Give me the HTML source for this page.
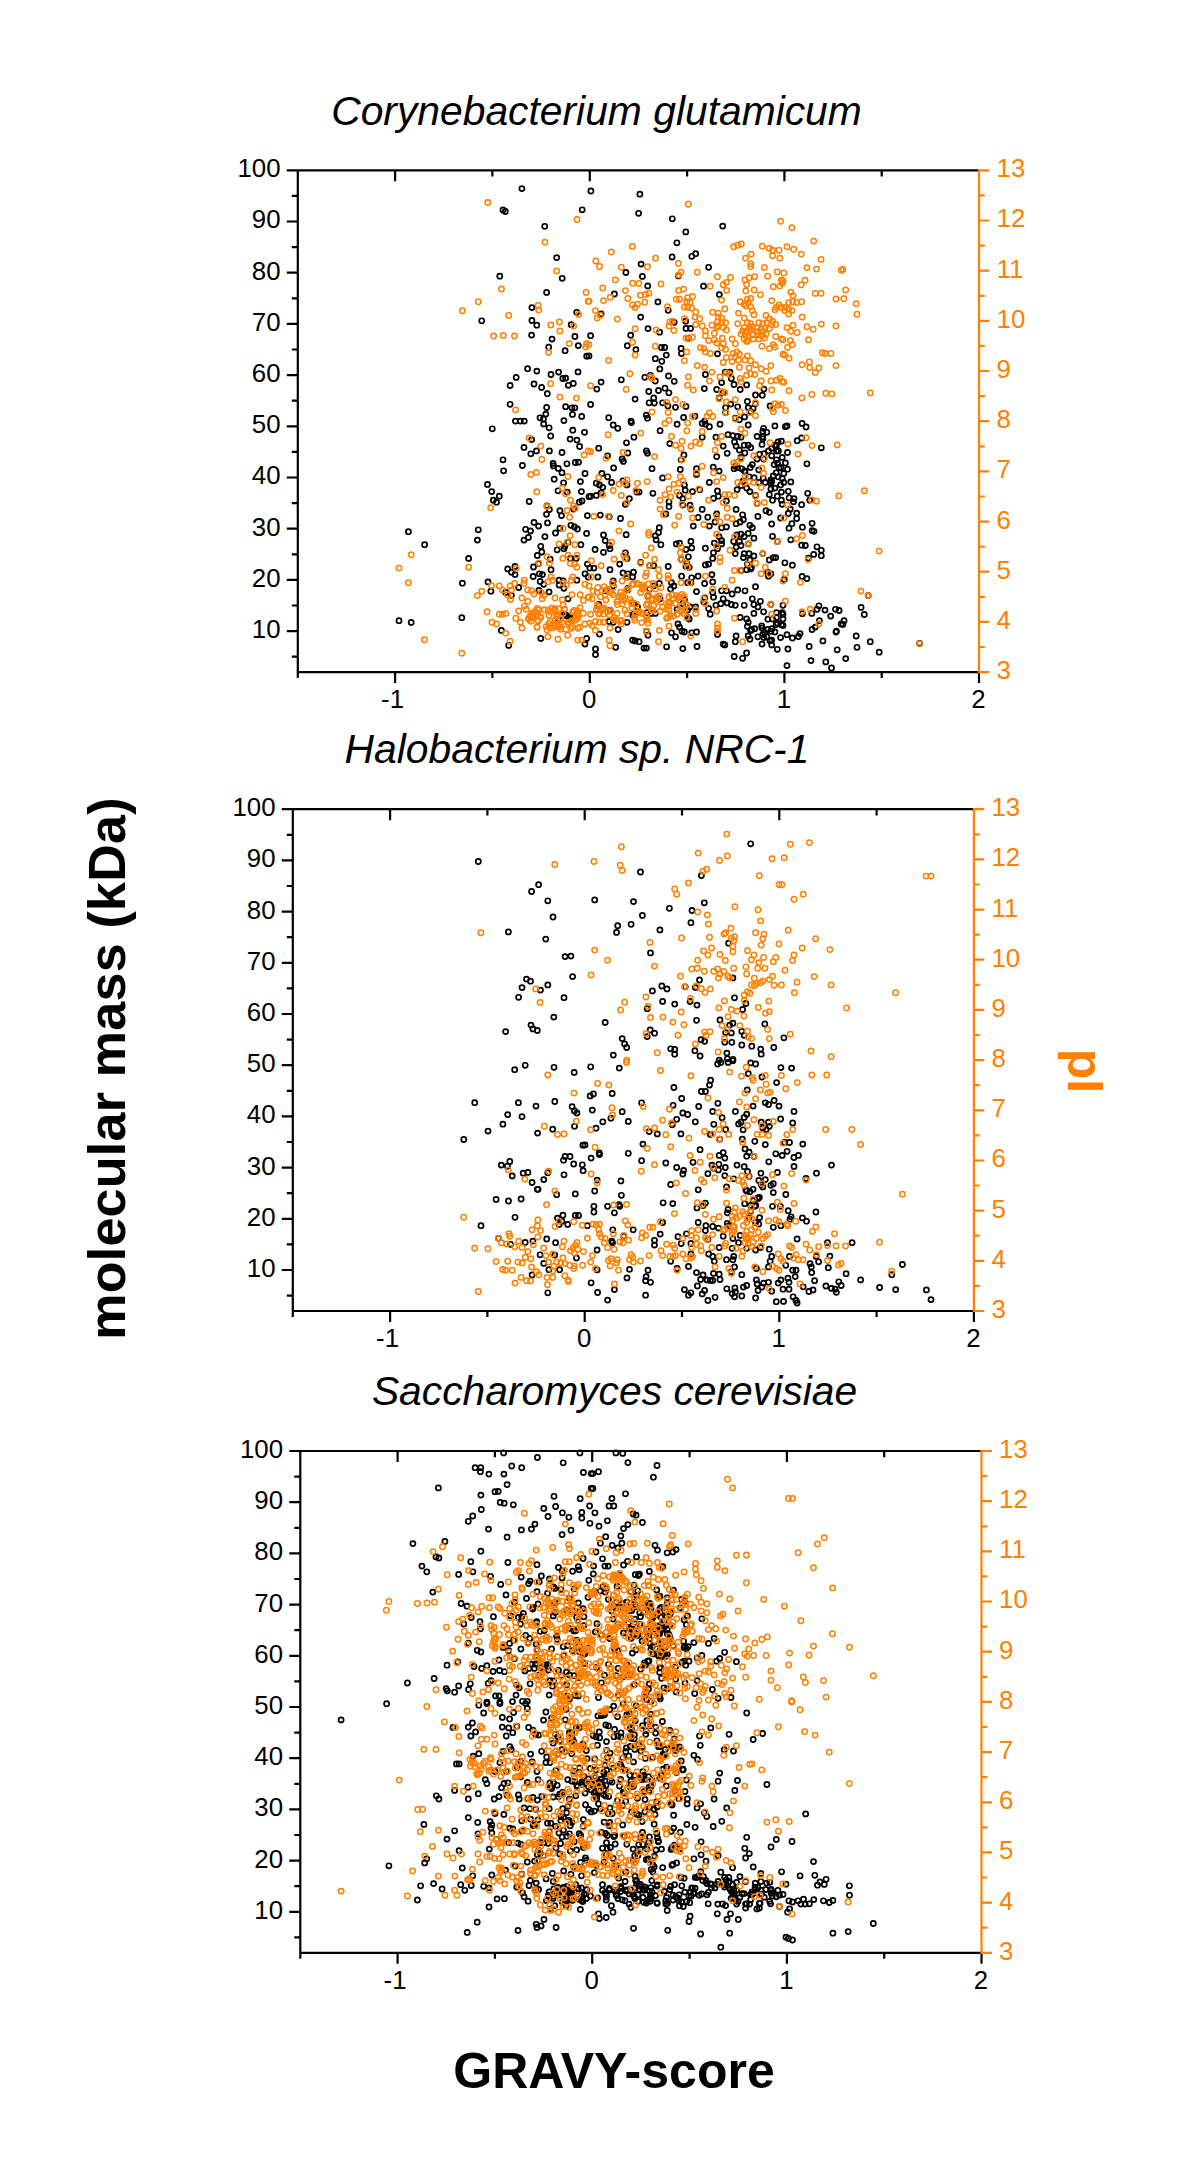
<!DOCTYPE html>
<html lang="en"><head><meta charset="utf-8"><title>GRAVY-score vs molecular mass and pI</title>
<style>html,body{margin:0;padding:0;background:#fff}svg{display:block}text{font-family:"Liberation Sans",Arial,sans-serif}</style></head><body>
<svg width="1200" height="2175" viewBox="0 0 1200 2175">
<rect width="1200" height="2175" fill="#fff"/>
<g id="panel1">
<text x="596.5" y="125" font-size="40.8" font-style="italic" text-anchor="middle">Corynebacterium glutamicum</text>
<g fill="none" stroke="#000" stroke-width="1.7">
<circle cx="521.9" cy="188.6" r="2.55"/><circle cx="503" cy="209.9" r="2.55"/><circle cx="505.3" cy="211.5" r="2.55"/><circle cx="582.2" cy="209.8" r="2.55"/><circle cx="544.7" cy="226.3" r="2.55"/><circle cx="556.7" cy="257.6" r="2.55"/><circle cx="499.8" cy="276.2" r="2.55"/><circle cx="562.2" cy="278.3" r="2.55"/><circle cx="546.6" cy="292.4" r="2.55"/><circle cx="531.9" cy="307.6" r="2.55"/><circle cx="576.7" cy="312.3" r="2.55"/><circle cx="481.7" cy="320.8" r="2.55"/><circle cx="531.9" cy="320.5" r="2.55"/><circle cx="536.8" cy="325.2" r="2.55"/><circle cx="571.2" cy="324.7" r="2.55"/><circle cx="531.6" cy="335.1" r="2.55"/><circle cx="574.9" cy="336.5" r="2.55"/><circle cx="552" cy="339.1" r="2.55"/><circle cx="548.7" cy="347.2" r="2.55"/><circle cx="578.3" cy="345.6" r="2.55"/><circle cx="565.1" cy="350.7" r="2.55"/><circle cx="586.7" cy="356.2" r="2.55"/><circle cx="527.6" cy="368.7" r="2.55"/><circle cx="536.8" cy="371.1" r="2.55"/><circle cx="516.2" cy="377.4" r="2.55"/><circle cx="551" cy="374.5" r="2.55"/><circle cx="558.6" cy="372.1" r="2.55"/><circle cx="578" cy="371.9" r="2.55"/><circle cx="562.8" cy="378.5" r="2.55"/><circle cx="565.6" cy="378.2" r="2.55"/><circle cx="510.1" cy="385.5" r="2.55"/><circle cx="534" cy="384" r="2.55"/><circle cx="541.6" cy="387.4" r="2.55"/><circle cx="573.3" cy="383.4" r="2.55"/><circle cx="568.3" cy="385.3" r="2.55"/><circle cx="547.3" cy="393.7" r="2.55"/><circle cx="510.1" cy="404.3" r="2.55"/><circle cx="546.6" cy="407.5" r="2.55"/><circle cx="565.6" cy="406.7" r="2.55"/><circle cx="571.9" cy="407.8" r="2.55"/><circle cx="574.8" cy="407.8" r="2.55"/><circle cx="545.8" cy="414.1" r="2.55"/><circle cx="572.5" cy="414.4" r="2.55"/><circle cx="540" cy="417.8" r="2.55"/><circle cx="543.4" cy="419" r="2.55"/><circle cx="581.7" cy="416.4" r="2.55"/><circle cx="515.4" cy="421.1" r="2.55"/><circle cx="520.3" cy="421.1" r="2.55"/><circle cx="524.3" cy="421.1" r="2.55"/><circle cx="563.9" cy="420.6" r="2.55"/><circle cx="590.9" cy="191" r="2.55"/><circle cx="639.9" cy="194.2" r="2.55"/><circle cx="638.6" cy="213.3" r="2.55"/><circle cx="672.3" cy="218.8" r="2.55"/><circle cx="722.7" cy="226.1" r="2.55"/><circle cx="685.8" cy="231.9" r="2.55"/><circle cx="676.9" cy="242.8" r="2.55"/><circle cx="672.1" cy="257" r="2.55"/><circle cx="691.8" cy="256.3" r="2.55"/><circle cx="695.7" cy="253.7" r="2.55"/><circle cx="641.1" cy="264.1" r="2.55"/><circle cx="708.6" cy="267.3" r="2.55"/><circle cx="625.9" cy="272.5" r="2.55"/><circle cx="642.4" cy="276.4" r="2.55"/><circle cx="678.4" cy="275.9" r="2.55"/><circle cx="647.7" cy="285.9" r="2.55"/><circle cx="703.5" cy="286.2" r="2.55"/><circle cx="614.4" cy="294" r="2.55"/><circle cx="719.3" cy="294.6" r="2.55"/><circle cx="657.9" cy="301.9" r="2.55"/><circle cx="668.2" cy="310.3" r="2.55"/><circle cx="601.1" cy="313.9" r="2.55"/><circle cx="640.7" cy="317.1" r="2.55"/><circle cx="674.2" cy="322.3" r="2.55"/><circle cx="685.7" cy="321.2" r="2.55"/><circle cx="648" cy="328.6" r="2.55"/><circle cx="686" cy="328.4" r="2.55"/><circle cx="690.5" cy="328.4" r="2.55"/><circle cx="659.6" cy="332.2" r="2.55"/><circle cx="590.6" cy="335.7" r="2.55"/><circle cx="630.7" cy="335.2" r="2.55"/><circle cx="688.4" cy="338.1" r="2.55"/><circle cx="627.3" cy="345.7" r="2.55"/><circle cx="661.4" cy="347.5" r="2.55"/><circle cx="664.7" cy="347.5" r="2.55"/><circle cx="635.9" cy="349.6" r="2.55"/><circle cx="681.1" cy="348.5" r="2.55"/><circle cx="681.5" cy="353.5" r="2.55"/><circle cx="666.3" cy="355.1" r="2.55"/><circle cx="589" cy="355.9" r="2.55"/><circle cx="717.5" cy="353.8" r="2.55"/><circle cx="655.3" cy="358.7" r="2.55"/><circle cx="661.8" cy="361.3" r="2.55"/><circle cx="659.8" cy="368.9" r="2.55"/><circle cx="705.4" cy="374.5" r="2.55"/><circle cx="725.3" cy="372.1" r="2.55"/><circle cx="730" cy="372.1" r="2.55"/><circle cx="650.4" cy="375.3" r="2.55"/><circle cx="668.5" cy="376" r="2.55"/><circle cx="644.8" cy="377.3" r="2.55"/><circle cx="621.3" cy="379.8" r="2.55"/><circle cx="601.1" cy="382.1" r="2.55"/><circle cx="655.3" cy="381" r="2.55"/><circle cx="674.2" cy="381.3" r="2.55"/><circle cx="721.6" cy="382.6" r="2.55"/><circle cx="731.3" cy="378.5" r="2.55"/><circle cx="734" cy="384.5" r="2.55"/><circle cx="746.6" cy="384.9" r="2.55"/><circle cx="596.8" cy="389.1" r="2.55"/><circle cx="704.3" cy="388.6" r="2.55"/><circle cx="716.7" cy="389.5" r="2.55"/><circle cx="740.2" cy="389.5" r="2.55"/><circle cx="665" cy="388.2" r="2.55"/><circle cx="658.5" cy="390.5" r="2.55"/><circle cx="648.8" cy="391.5" r="2.55"/><circle cx="668.9" cy="392.8" r="2.55"/><circle cx="723.2" cy="392.8" r="2.55"/><circle cx="763.9" cy="389.1" r="2.55"/><circle cx="755.5" cy="395" r="2.55"/><circle cx="762.3" cy="395.2" r="2.55"/><circle cx="635.1" cy="399.1" r="2.55"/><circle cx="653.7" cy="397.9" r="2.55"/><circle cx="649.1" cy="402.8" r="2.55"/><circle cx="654.3" cy="403.1" r="2.55"/><circle cx="662.6" cy="402.8" r="2.55"/><circle cx="719.1" cy="397.9" r="2.55"/><circle cx="590.6" cy="404.4" r="2.55"/><circle cx="667.9" cy="406" r="2.55"/><circle cx="675.5" cy="407.3" r="2.55"/><circle cx="686" cy="406.4" r="2.55"/><circle cx="747.4" cy="401.5" r="2.55"/><circle cx="755.5" cy="403.6" r="2.55"/><circle cx="730.8" cy="404.1" r="2.55"/><circle cx="725.6" cy="407.6" r="2.55"/><circle cx="737.7" cy="406.8" r="2.55"/><circle cx="748.2" cy="407.6" r="2.55"/><circle cx="753.1" cy="408.5" r="2.55"/><circle cx="770.1" cy="406" r="2.55"/><circle cx="725.6" cy="412.5" r="2.55"/><circle cx="750.7" cy="411.7" r="2.55"/><circle cx="608.7" cy="417.7" r="2.55"/><circle cx="646.4" cy="415.2" r="2.55"/><circle cx="647.5" cy="418.2" r="2.55"/><circle cx="683.6" cy="417.4" r="2.55"/><circle cx="694.9" cy="416.2" r="2.55"/><circle cx="735.3" cy="418.2" r="2.55"/><circle cx="744.5" cy="416.9" r="2.55"/><circle cx="631" cy="421.1" r="2.55"/><circle cx="704.6" cy="421.1" r="2.55"/><circle cx="739.4" cy="419.8" r="2.55"/><circle cx="543.7" cy="423.9" r="2.55"/><circle cx="492.3" cy="428.8" r="2.55"/><circle cx="549.1" cy="427.8" r="2.55"/><circle cx="572.8" cy="430.2" r="2.55"/><circle cx="584.5" cy="432.3" r="2.55"/><circle cx="550.7" cy="436" r="2.55"/><circle cx="570.1" cy="439.1" r="2.55"/><circle cx="576.9" cy="440.1" r="2.55"/><circle cx="531.6" cy="439.6" r="2.55"/><circle cx="524" cy="447.4" r="2.55"/><circle cx="579.6" cy="446.5" r="2.55"/><circle cx="536.5" cy="450.9" r="2.55"/><circle cx="549.4" cy="450.9" r="2.55"/><circle cx="530.8" cy="453.8" r="2.55"/><circle cx="562" cy="452.5" r="2.55"/><circle cx="503" cy="459.8" r="2.55"/><circle cx="522.4" cy="465.5" r="2.55"/><circle cx="553.1" cy="463.4" r="2.55"/><circle cx="553.4" cy="465.9" r="2.55"/><circle cx="566.9" cy="463.8" r="2.55"/><circle cx="575.3" cy="462.5" r="2.55"/><circle cx="578.5" cy="462.2" r="2.55"/><circle cx="558.3" cy="468.4" r="2.55"/><circle cx="503.6" cy="470.8" r="2.55"/><circle cx="562" cy="472.7" r="2.55"/><circle cx="585" cy="473.5" r="2.55"/><circle cx="554.2" cy="479.2" r="2.55"/><circle cx="563.6" cy="482.8" r="2.55"/><circle cx="580.4" cy="481.6" r="2.55"/><circle cx="487.5" cy="484.4" r="2.55"/><circle cx="491.7" cy="491.6" r="2.55"/><circle cx="558" cy="490.8" r="2.55"/><circle cx="567.2" cy="492.1" r="2.55"/><circle cx="581.4" cy="491.6" r="2.55"/><circle cx="499.3" cy="496.2" r="2.55"/><circle cx="589" cy="496.7" r="2.55"/><circle cx="493.3" cy="500.2" r="2.55"/><circle cx="496.5" cy="502.2" r="2.55"/><circle cx="529.2" cy="501.5" r="2.55"/><circle cx="579.3" cy="502.2" r="2.55"/><circle cx="582" cy="501" r="2.55"/><circle cx="547" cy="505.9" r="2.55"/><circle cx="549.4" cy="509.6" r="2.55"/><circle cx="559.9" cy="510.7" r="2.55"/><circle cx="561.5" cy="515.6" r="2.55"/><circle cx="573.6" cy="509.1" r="2.55"/><circle cx="546.5" cy="514.3" r="2.55"/><circle cx="587.4" cy="515.6" r="2.55"/><circle cx="534" cy="522.4" r="2.55"/><circle cx="547.5" cy="522.9" r="2.55"/><circle cx="538.6" cy="526.1" r="2.55"/><circle cx="570.9" cy="525.3" r="2.55"/><circle cx="574.5" cy="526.9" r="2.55"/><circle cx="577.4" cy="529" r="2.55"/><circle cx="525.6" cy="529.3" r="2.55"/><circle cx="530.5" cy="530.9" r="2.55"/><circle cx="559.9" cy="528.2" r="2.55"/><circle cx="478.3" cy="529.8" r="2.55"/><circle cx="408.4" cy="531.7" r="2.55"/><circle cx="555.5" cy="533" r="2.55"/><circle cx="586.6" cy="533.4" r="2.55"/><circle cx="544.9" cy="536.6" r="2.55"/><circle cx="528.4" cy="537.4" r="2.55"/><circle cx="524" cy="540.1" r="2.55"/><circle cx="477.4" cy="540.1" r="2.55"/><circle cx="424.6" cy="544.7" r="2.55"/><circle cx="580.9" cy="544.7" r="2.55"/><circle cx="568" cy="542.2" r="2.55"/><circle cx="564.8" cy="546.3" r="2.55"/><circle cx="563.9" cy="548.7" r="2.55"/><circle cx="557.2" cy="549.8" r="2.55"/><circle cx="540.8" cy="546.3" r="2.55"/><circle cx="541.8" cy="552" r="2.55"/><circle cx="537.3" cy="555.5" r="2.55"/><circle cx="468.6" cy="558.4" r="2.55"/><circle cx="550.2" cy="559.2" r="2.55"/><circle cx="570.4" cy="558.4" r="2.55"/><circle cx="576.1" cy="558.4" r="2.55"/><circle cx="538.6" cy="563.6" r="2.55"/><circle cx="533.5" cy="567" r="2.55"/><circle cx="587.4" cy="564.1" r="2.55"/><circle cx="515" cy="566.5" r="2.55"/><circle cx="507.7" cy="568.9" r="2.55"/><circle cx="511.4" cy="572.2" r="2.55"/><circle cx="515" cy="574.6" r="2.55"/><circle cx="551" cy="569.7" r="2.55"/><circle cx="539.4" cy="573.8" r="2.55"/><circle cx="542.4" cy="574.6" r="2.55"/><circle cx="533.2" cy="576.5" r="2.55"/><circle cx="585" cy="573.8" r="2.55"/><circle cx="588.2" cy="577" r="2.55"/><circle cx="576.9" cy="580.2" r="2.55"/><circle cx="488" cy="581.9" r="2.55"/><circle cx="462.4" cy="583.2" r="2.55"/><circle cx="540.2" cy="581.5" r="2.55"/><circle cx="543.7" cy="584.3" r="2.55"/><circle cx="559.1" cy="580.2" r="2.55"/><circle cx="563.1" cy="581" r="2.55"/><circle cx="559.1" cy="585.1" r="2.55"/><circle cx="563.9" cy="588.3" r="2.55"/><circle cx="518.7" cy="587.5" r="2.55"/><circle cx="490.9" cy="591.2" r="2.55"/><circle cx="538.9" cy="590.4" r="2.55"/><circle cx="549.1" cy="591.9" r="2.55"/><circle cx="505.7" cy="592.4" r="2.55"/><circle cx="511.4" cy="595.3" r="2.55"/><circle cx="568" cy="598.8" r="2.55"/><circle cx="461.8" cy="617.7" r="2.55"/><circle cx="399" cy="620.7" r="2.55"/><circle cx="411.2" cy="622.4" r="2.55"/><circle cx="501.4" cy="630.4" r="2.55"/><circle cx="540.8" cy="638.4" r="2.55"/><circle cx="508.7" cy="645.4" r="2.55"/><circle cx="585" cy="644.1" r="2.55"/><circle cx="586.6" cy="638.4" r="2.55"/><circle cx="570.6" cy="617.7" r="2.55"/><circle cx="570" cy="619" r="2.55"/><circle cx="564.8" cy="614.2" r="2.55"/><circle cx="566.7" cy="615.7" r="2.55"/><circle cx="558.5" cy="619.4" r="2.55"/><circle cx="563.8" cy="614.8" r="2.55"/><circle cx="613.2" cy="425" r="2.55"/><circle cx="617.8" cy="428.3" r="2.55"/><circle cx="631.4" cy="422.6" r="2.55"/><circle cx="660.1" cy="430.7" r="2.55"/><circle cx="677.1" cy="424.2" r="2.55"/><circle cx="702.2" cy="423.4" r="2.55"/><circle cx="705.4" cy="424.2" r="2.55"/><circle cx="709.4" cy="426.7" r="2.55"/><circle cx="720" cy="424.2" r="2.55"/><circle cx="748.2" cy="425" r="2.55"/><circle cx="763.6" cy="428.3" r="2.55"/><circle cx="762.8" cy="431.5" r="2.55"/><circle cx="766.8" cy="432.3" r="2.55"/><circle cx="774.9" cy="425.9" r="2.55"/><circle cx="633.9" cy="437.2" r="2.55"/><circle cx="702.2" cy="437.2" r="2.55"/><circle cx="715.9" cy="437.2" r="2.55"/><circle cx="728" cy="434.7" r="2.55"/><circle cx="732.9" cy="435.6" r="2.55"/><circle cx="737.7" cy="436.4" r="2.55"/><circle cx="741" cy="437.2" r="2.55"/><circle cx="757.1" cy="436.4" r="2.55"/><circle cx="762.8" cy="438.8" r="2.55"/><circle cx="626.5" cy="442.8" r="2.55"/><circle cx="598.7" cy="448.2" r="2.55"/><circle cx="669.8" cy="443.6" r="2.55"/><circle cx="723.2" cy="446.1" r="2.55"/><circle cx="734.5" cy="442" r="2.55"/><circle cx="736.1" cy="446.1" r="2.55"/><circle cx="744.2" cy="445.2" r="2.55"/><circle cx="748.2" cy="445.2" r="2.55"/><circle cx="750.7" cy="447.7" r="2.55"/><circle cx="762" cy="444.4" r="2.55"/><circle cx="778.1" cy="442" r="2.55"/><circle cx="774.9" cy="445.2" r="2.55"/><circle cx="781.4" cy="441.2" r="2.55"/><circle cx="646.4" cy="450.9" r="2.55"/><circle cx="647.5" cy="453.3" r="2.55"/><circle cx="727.2" cy="453.3" r="2.55"/><circle cx="739.4" cy="450.1" r="2.55"/><circle cx="768.5" cy="450.9" r="2.55"/><circle cx="776.5" cy="450.9" r="2.55"/><circle cx="627.8" cy="453" r="2.55"/><circle cx="607.6" cy="455.8" r="2.55"/><circle cx="622.1" cy="459" r="2.55"/><circle cx="623.4" cy="461.4" r="2.55"/><circle cx="683.9" cy="454.9" r="2.55"/><circle cx="681.1" cy="459.8" r="2.55"/><circle cx="716.7" cy="456.6" r="2.55"/><circle cx="741" cy="457.4" r="2.55"/><circle cx="757.1" cy="459" r="2.55"/><circle cx="763.6" cy="459" r="2.55"/><circle cx="771.7" cy="455.8" r="2.55"/><circle cx="776.5" cy="459.8" r="2.55"/><circle cx="782.2" cy="457.4" r="2.55"/><circle cx="752.3" cy="464.6" r="2.55"/><circle cx="774.1" cy="464.6" r="2.55"/><circle cx="779" cy="467.9" r="2.55"/><circle cx="613.6" cy="467.9" r="2.55"/><circle cx="652" cy="468.7" r="2.55"/><circle cx="680.3" cy="469.5" r="2.55"/><circle cx="696.5" cy="468.7" r="2.55"/><circle cx="713.2" cy="467.1" r="2.55"/><circle cx="719.1" cy="471.1" r="2.55"/><circle cx="601.9" cy="473.5" r="2.55"/><circle cx="607.6" cy="476.8" r="2.55"/><circle cx="611.6" cy="482.4" r="2.55"/><circle cx="596.3" cy="483.2" r="2.55"/><circle cx="599.5" cy="484.9" r="2.55"/><circle cx="602.7" cy="487.3" r="2.55"/><circle cx="623" cy="480.8" r="2.55"/><circle cx="627" cy="484.9" r="2.55"/><circle cx="662.6" cy="477.9" r="2.55"/><circle cx="696.5" cy="474.4" r="2.55"/><circle cx="709.4" cy="482.4" r="2.55"/><circle cx="745" cy="471.9" r="2.55"/><circle cx="749" cy="476.8" r="2.55"/><circle cx="758.8" cy="482.4" r="2.55"/><circle cx="765.2" cy="482.4" r="2.55"/><circle cx="773.3" cy="476" r="2.55"/><circle cx="771.7" cy="481.6" r="2.55"/><circle cx="778.1" cy="476.8" r="2.55"/><circle cx="782.2" cy="478.4" r="2.55"/><circle cx="780.6" cy="484.9" r="2.55"/><circle cx="684.4" cy="484.9" r="2.55"/><circle cx="590.6" cy="496.2" r="2.55"/><circle cx="596.3" cy="495.4" r="2.55"/><circle cx="601.1" cy="492.9" r="2.55"/><circle cx="636.7" cy="492.1" r="2.55"/><circle cx="639.1" cy="492.1" r="2.55"/><circle cx="652.9" cy="493.3" r="2.55"/><circle cx="629.4" cy="498.6" r="2.55"/><circle cx="685.2" cy="490.2" r="2.55"/><circle cx="692.5" cy="491.6" r="2.55"/><circle cx="699.7" cy="489.7" r="2.55"/><circle cx="717.5" cy="491" r="2.55"/><circle cx="718.3" cy="496.2" r="2.55"/><circle cx="713.5" cy="498.3" r="2.55"/><circle cx="669" cy="501.8" r="2.55"/><circle cx="679.5" cy="495.4" r="2.55"/><circle cx="682.8" cy="498.6" r="2.55"/><circle cx="726.4" cy="501" r="2.55"/><circle cx="749.9" cy="491.6" r="2.55"/><circle cx="755.5" cy="495.4" r="2.55"/><circle cx="770.9" cy="488.9" r="2.55"/><circle cx="774.9" cy="488.1" r="2.55"/><circle cx="781.4" cy="492.1" r="2.55"/><circle cx="769.3" cy="494.6" r="2.55"/><circle cx="777.3" cy="496.2" r="2.55"/><circle cx="772.5" cy="500.2" r="2.55"/><circle cx="781.4" cy="500.2" r="2.55"/><circle cx="757.1" cy="503.4" r="2.55"/><circle cx="782.2" cy="504.3" r="2.55"/><circle cx="625.4" cy="504.3" r="2.55"/><circle cx="669" cy="506.7" r="2.55"/><circle cx="682.8" cy="505.1" r="2.55"/><circle cx="690" cy="505.1" r="2.55"/><circle cx="690.9" cy="509.1" r="2.55"/><circle cx="702.2" cy="509.4" r="2.55"/><circle cx="736.1" cy="509.4" r="2.55"/><circle cx="665.8" cy="514" r="2.55"/><circle cx="600.3" cy="515.1" r="2.55"/><circle cx="609.2" cy="516.7" r="2.55"/><circle cx="620.5" cy="518.5" r="2.55"/><circle cx="698.1" cy="517.5" r="2.55"/><circle cx="707.8" cy="517.2" r="2.55"/><circle cx="716.7" cy="514" r="2.55"/><circle cx="742.6" cy="514.8" r="2.55"/><circle cx="757.9" cy="516.4" r="2.55"/><circle cx="766" cy="510.7" r="2.55"/><circle cx="769.3" cy="512.3" r="2.55"/><circle cx="780.6" cy="518" r="2.55"/><circle cx="743.4" cy="519.6" r="2.55"/><circle cx="740.2" cy="522" r="2.55"/><circle cx="736.1" cy="523.7" r="2.55"/><circle cx="715.1" cy="522" r="2.55"/><circle cx="693.3" cy="526.1" r="2.55"/><circle cx="709.4" cy="526.1" r="2.55"/><circle cx="721.6" cy="527.7" r="2.55"/><circle cx="726.4" cy="526.9" r="2.55"/><circle cx="659.3" cy="527.7" r="2.55"/><circle cx="658.5" cy="532.5" r="2.55"/><circle cx="749.9" cy="525.3" r="2.55"/><circle cx="752.3" cy="527.7" r="2.55"/><circle cx="771.7" cy="524" r="2.55"/><circle cx="603.5" cy="535" r="2.55"/><circle cx="626.2" cy="534.7" r="2.55"/><circle cx="655.3" cy="535.8" r="2.55"/><circle cx="656.1" cy="539.8" r="2.55"/><circle cx="719.1" cy="536.6" r="2.55"/><circle cx="736.9" cy="535" r="2.55"/><circle cx="741" cy="534.2" r="2.55"/><circle cx="748.2" cy="533.4" r="2.55"/><circle cx="744.2" cy="536.6" r="2.55"/><circle cx="753.9" cy="538.2" r="2.55"/><circle cx="772.5" cy="536.3" r="2.55"/><circle cx="733.7" cy="541.4" r="2.55"/><circle cx="739.4" cy="541.4" r="2.55"/><circle cx="605.2" cy="540.6" r="2.55"/><circle cx="609.2" cy="545.5" r="2.55"/><circle cx="610" cy="548.7" r="2.55"/><circle cx="660.9" cy="544.7" r="2.55"/><circle cx="676.3" cy="543.9" r="2.55"/><circle cx="679.5" cy="543.1" r="2.55"/><circle cx="690.9" cy="541.4" r="2.55"/><circle cx="721.6" cy="540.6" r="2.55"/><circle cx="714.3" cy="543.1" r="2.55"/><circle cx="717.5" cy="548.7" r="2.55"/><circle cx="721.6" cy="543.9" r="2.55"/><circle cx="705.4" cy="548.2" r="2.55"/><circle cx="686" cy="549.5" r="2.55"/><circle cx="691.7" cy="547.9" r="2.55"/><circle cx="595.1" cy="549.5" r="2.55"/><circle cx="748.2" cy="543.9" r="2.55"/><circle cx="777.3" cy="541.4" r="2.55"/><circle cx="736.1" cy="547.1" r="2.55"/><circle cx="741" cy="545.5" r="2.55"/><circle cx="603.5" cy="552.3" r="2.55"/><circle cx="625.4" cy="552.8" r="2.55"/><circle cx="627" cy="558.4" r="2.55"/><circle cx="619.7" cy="564.1" r="2.55"/><circle cx="640.7" cy="562.5" r="2.55"/><circle cx="649.6" cy="565.7" r="2.55"/><circle cx="653.7" cy="565.7" r="2.55"/><circle cx="668.2" cy="566.5" r="2.55"/><circle cx="688.4" cy="556.8" r="2.55"/><circle cx="681.1" cy="559.2" r="2.55"/><circle cx="686.8" cy="563.3" r="2.55"/><circle cx="705.4" cy="564.9" r="2.55"/><circle cx="708.6" cy="564.1" r="2.55"/><circle cx="713.5" cy="552.8" r="2.55"/><circle cx="712.7" cy="558.4" r="2.55"/><circle cx="735.3" cy="553.6" r="2.55"/><circle cx="744.2" cy="553.6" r="2.55"/><circle cx="749" cy="553.6" r="2.55"/><circle cx="753.9" cy="556" r="2.55"/><circle cx="743.4" cy="557.6" r="2.55"/><circle cx="749.9" cy="560" r="2.55"/><circle cx="762.8" cy="553.6" r="2.55"/><circle cx="769.3" cy="560" r="2.55"/><circle cx="773.3" cy="557.6" r="2.55"/><circle cx="775.7" cy="557.6" r="2.55"/><circle cx="747.4" cy="564.1" r="2.55"/><circle cx="751.5" cy="567.3" r="2.55"/><circle cx="593.9" cy="568.1" r="2.55"/><circle cx="589.8" cy="568.1" r="2.55"/><circle cx="610" cy="569.7" r="2.55"/><circle cx="623" cy="573" r="2.55"/><circle cx="627.8" cy="573.8" r="2.55"/><circle cx="633.5" cy="572.2" r="2.55"/><circle cx="627" cy="577" r="2.55"/><circle cx="632.6" cy="577" r="2.55"/><circle cx="597.9" cy="577" r="2.55"/><circle cx="681.6" cy="576.2" r="2.55"/><circle cx="686" cy="566.5" r="2.55"/><circle cx="689.2" cy="567.3" r="2.55"/><circle cx="691.7" cy="577.8" r="2.55"/><circle cx="698.1" cy="576.2" r="2.55"/><circle cx="711.9" cy="574.6" r="2.55"/><circle cx="741" cy="570.5" r="2.55"/><circle cx="746.6" cy="569.7" r="2.55"/><circle cx="750.7" cy="568.9" r="2.55"/><circle cx="767.6" cy="572.2" r="2.55"/><circle cx="770.9" cy="573.8" r="2.55"/><circle cx="768.5" cy="576.2" r="2.55"/><circle cx="613.2" cy="581" r="2.55"/><circle cx="671.5" cy="582.7" r="2.55"/><circle cx="659.3" cy="583.5" r="2.55"/><circle cx="653.7" cy="585.9" r="2.55"/><circle cx="673.9" cy="585.9" r="2.55"/><circle cx="687.6" cy="582.7" r="2.55"/><circle cx="690.9" cy="582.7" r="2.55"/><circle cx="704.6" cy="583.5" r="2.55"/><circle cx="712.7" cy="581.9" r="2.55"/><circle cx="627.8" cy="588.3" r="2.55"/><circle cx="606" cy="590.8" r="2.55"/><circle cx="627.8" cy="589.9" r="2.55"/><circle cx="649.6" cy="589.1" r="2.55"/><circle cx="648" cy="595.6" r="2.55"/><circle cx="660.1" cy="598.8" r="2.55"/><circle cx="670.6" cy="589.1" r="2.55"/><circle cx="684.4" cy="599.6" r="2.55"/><circle cx="696.5" cy="591.6" r="2.55"/><circle cx="712.7" cy="592.4" r="2.55"/><circle cx="713.5" cy="597.2" r="2.55"/><circle cx="704.6" cy="598" r="2.55"/><circle cx="703.8" cy="602.1" r="2.55"/><circle cx="721.6" cy="590.8" r="2.55"/><circle cx="726.4" cy="590.8" r="2.55"/><circle cx="732.1" cy="594" r="2.55"/><circle cx="737.7" cy="589.9" r="2.55"/><circle cx="745" cy="590.8" r="2.55"/><circle cx="755.5" cy="586.7" r="2.55"/><circle cx="723.2" cy="598.8" r="2.55"/><circle cx="752.3" cy="598.8" r="2.55"/><circle cx="760.4" cy="601.3" r="2.55"/><circle cx="613.2" cy="585.9" r="2.55"/><circle cx="598.7" cy="604.5" r="2.55"/><circle cx="610" cy="610.1" r="2.55"/><circle cx="633.5" cy="603.7" r="2.55"/><circle cx="637.5" cy="606.9" r="2.55"/><circle cx="647.2" cy="612.6" r="2.55"/><circle cx="651.2" cy="613.4" r="2.55"/><circle cx="655.3" cy="613.4" r="2.55"/><circle cx="634.3" cy="614.2" r="2.55"/><circle cx="677.1" cy="609.3" r="2.55"/><circle cx="682.8" cy="603.7" r="2.55"/><circle cx="687.6" cy="610.1" r="2.55"/><circle cx="690" cy="606.9" r="2.55"/><circle cx="695.7" cy="606.9" r="2.55"/><circle cx="708.6" cy="608.5" r="2.55"/><circle cx="710.2" cy="614.2" r="2.55"/><circle cx="715.9" cy="605.3" r="2.55"/><circle cx="720.8" cy="603.7" r="2.55"/><circle cx="727.2" cy="602.9" r="2.55"/><circle cx="731.3" cy="604.5" r="2.55"/><circle cx="735.3" cy="605.3" r="2.55"/><circle cx="744.2" cy="605.3" r="2.55"/><circle cx="753.9" cy="604.5" r="2.55"/><circle cx="757.9" cy="606.9" r="2.55"/><circle cx="770.9" cy="604.5" r="2.55"/><circle cx="753.9" cy="613.4" r="2.55"/><circle cx="763.6" cy="611.8" r="2.55"/><circle cx="776.5" cy="612.6" r="2.55"/><circle cx="782.2" cy="612.6" r="2.55"/><circle cx="632.6" cy="615" r="2.55"/><circle cx="609.2" cy="621.5" r="2.55"/><circle cx="613.2" cy="622.3" r="2.55"/><circle cx="627" cy="622.3" r="2.55"/><circle cx="618.1" cy="629.5" r="2.55"/><circle cx="677.9" cy="623.9" r="2.55"/><circle cx="679.5" cy="627.1" r="2.55"/><circle cx="682" cy="631.2" r="2.55"/><circle cx="684.4" cy="632" r="2.55"/><circle cx="687.6" cy="617.4" r="2.55"/><circle cx="689.2" cy="619" r="2.55"/><circle cx="740.2" cy="617.4" r="2.55"/><circle cx="746.6" cy="619" r="2.55"/><circle cx="748.2" cy="622.3" r="2.55"/><circle cx="747.4" cy="626.3" r="2.55"/><circle cx="750.7" cy="630.4" r="2.55"/><circle cx="754.7" cy="628.7" r="2.55"/><circle cx="762" cy="627.9" r="2.55"/><circle cx="767.6" cy="629.5" r="2.55"/><circle cx="771.7" cy="628.7" r="2.55"/><circle cx="774.9" cy="632" r="2.55"/><circle cx="772.5" cy="619" r="2.55"/><circle cx="777.3" cy="623.1" r="2.55"/><circle cx="781.4" cy="624.7" r="2.55"/><circle cx="776.5" cy="617.4" r="2.55"/><circle cx="783" cy="619" r="2.55"/><circle cx="599.5" cy="634.1" r="2.55"/><circle cx="646.4" cy="631.2" r="2.55"/><circle cx="648" cy="635.2" r="2.55"/><circle cx="671.5" cy="632.8" r="2.55"/><circle cx="675.5" cy="636.8" r="2.55"/><circle cx="691.7" cy="632.8" r="2.55"/><circle cx="696.5" cy="632" r="2.55"/><circle cx="717.5" cy="634.4" r="2.55"/><circle cx="736.1" cy="636" r="2.55"/><circle cx="735.3" cy="641.7" r="2.55"/><circle cx="748.2" cy="636" r="2.55"/><circle cx="749.9" cy="639.2" r="2.55"/><circle cx="757.9" cy="636.8" r="2.55"/><circle cx="762.8" cy="634.4" r="2.55"/><circle cx="766.8" cy="636.8" r="2.55"/><circle cx="771.7" cy="640.1" r="2.55"/><circle cx="780.6" cy="637.6" r="2.55"/><circle cx="632.6" cy="640.1" r="2.55"/><circle cx="635.1" cy="640.9" r="2.55"/><circle cx="639.1" cy="641.7" r="2.55"/><circle cx="723.2" cy="644.1" r="2.55"/><circle cx="724.8" cy="644.9" r="2.55"/><circle cx="762" cy="644.1" r="2.55"/><circle cx="771.7" cy="644.9" r="2.55"/><circle cx="615.7" cy="647.3" r="2.55"/><circle cx="595.5" cy="649" r="2.55"/><circle cx="595.5" cy="654.6" r="2.55"/><circle cx="644" cy="648.1" r="2.55"/><circle cx="646.4" cy="648.1" r="2.55"/><circle cx="666.6" cy="646.8" r="2.55"/><circle cx="682.8" cy="648.6" r="2.55"/><circle cx="697" cy="646.5" r="2.55"/><circle cx="746.6" cy="653" r="2.55"/><circle cx="734.2" cy="656.5" r="2.55"/><circle cx="742.6" cy="658.3" r="2.55"/><circle cx="777.3" cy="649.3" r="2.55"/><circle cx="737.7" cy="467.7" r="2.55"/><circle cx="777.5" cy="463.1" r="2.55"/><circle cx="763.2" cy="478.2" r="2.55"/><circle cx="770.5" cy="483" r="2.55"/><circle cx="762.7" cy="436.8" r="2.55"/><circle cx="746.6" cy="488.1" r="2.55"/><circle cx="776.2" cy="472.8" r="2.55"/><circle cx="764.1" cy="453.7" r="2.55"/><circle cx="778.4" cy="450.9" r="2.55"/><circle cx="737.1" cy="489.6" r="2.55"/><circle cx="741.8" cy="468.8" r="2.55"/><circle cx="759.5" cy="454.3" r="2.55"/><circle cx="744.8" cy="453" r="2.55"/><circle cx="741.1" cy="485.6" r="2.55"/><circle cx="758.8" cy="469.9" r="2.55"/><circle cx="771.7" cy="448.2" r="2.55"/><circle cx="780.9" cy="467.4" r="2.55"/><circle cx="750.3" cy="467.4" r="2.55"/><circle cx="743.2" cy="481" r="2.55"/><circle cx="776.4" cy="445.4" r="2.55"/><circle cx="754.1" cy="477.7" r="2.55"/><circle cx="771" cy="479.9" r="2.55"/><circle cx="744.6" cy="471" r="2.55"/><circle cx="735.4" cy="466.2" r="2.55"/><circle cx="734.1" cy="468.7" r="2.55"/><circle cx="767.9" cy="619.2" r="2.55"/><circle cx="751.7" cy="629.7" r="2.55"/><circle cx="763.8" cy="637.5" r="2.55"/><circle cx="776.2" cy="624.5" r="2.55"/><circle cx="771" cy="631.3" r="2.55"/><circle cx="764.8" cy="632.4" r="2.55"/><circle cx="761.7" cy="625.8" r="2.55"/><circle cx="769.9" cy="640.8" r="2.55"/><circle cx="802.1" cy="423.4" r="2.55"/><circle cx="806.1" cy="427" r="2.55"/><circle cx="785.4" cy="426.7" r="2.55"/><circle cx="787" cy="425.9" r="2.55"/><circle cx="797.2" cy="440.7" r="2.55"/><circle cx="801.6" cy="438" r="2.55"/><circle cx="821.3" cy="447.8" r="2.55"/><circle cx="787.5" cy="452.5" r="2.55"/><circle cx="806.9" cy="463.8" r="2.55"/><circle cx="785.4" cy="463" r="2.55"/><circle cx="787.5" cy="469.2" r="2.55"/><circle cx="783.8" cy="473.5" r="2.55"/><circle cx="790.8" cy="481.9" r="2.55"/><circle cx="783.8" cy="482.4" r="2.55"/><circle cx="788.3" cy="491.3" r="2.55"/><circle cx="807.7" cy="493.3" r="2.55"/><circle cx="789.1" cy="497.8" r="2.55"/><circle cx="794" cy="498.6" r="2.55"/><circle cx="793.5" cy="501.8" r="2.55"/><circle cx="801.6" cy="504.7" r="2.55"/><circle cx="809.7" cy="500.2" r="2.55"/><circle cx="790.3" cy="509.1" r="2.55"/><circle cx="788.3" cy="513.5" r="2.55"/><circle cx="796.7" cy="513.1" r="2.55"/><circle cx="796.7" cy="518.5" r="2.55"/><circle cx="791.9" cy="523.7" r="2.55"/><circle cx="789" cy="528.2" r="2.55"/><circle cx="802.4" cy="527.2" r="2.55"/><circle cx="812.1" cy="523.3" r="2.55"/><circle cx="812.1" cy="530.6" r="2.55"/><circle cx="814" cy="531.3" r="2.55"/><circle cx="790.8" cy="539.8" r="2.55"/><circle cx="801.6" cy="545.2" r="2.55"/><circle cx="805.3" cy="545.5" r="2.55"/><circle cx="817" cy="546.8" r="2.55"/><circle cx="821.3" cy="550.3" r="2.55"/><circle cx="813.7" cy="554.4" r="2.55"/><circle cx="821.3" cy="555.7" r="2.55"/><circle cx="808.4" cy="558.1" r="2.55"/><circle cx="784.9" cy="562.8" r="2.55"/><circle cx="792.4" cy="565.2" r="2.55"/><circle cx="802.1" cy="576.5" r="2.55"/><circle cx="806.9" cy="578.6" r="2.55"/><circle cx="784.3" cy="579.4" r="2.55"/><circle cx="818.9" cy="605.8" r="2.55"/><circle cx="817" cy="609.3" r="2.55"/><circle cx="825" cy="610.1" r="2.55"/><circle cx="835.5" cy="609.3" r="2.55"/><circle cx="839.1" cy="610.5" r="2.55"/><circle cx="802.4" cy="613.7" r="2.55"/><circle cx="811.8" cy="613.4" r="2.55"/><circle cx="830.7" cy="616.1" r="2.55"/><circle cx="861.1" cy="607.4" r="2.55"/><circle cx="864.3" cy="614.5" r="2.55"/><circle cx="819.4" cy="620.7" r="2.55"/><circle cx="844.1" cy="620.7" r="2.55"/><circle cx="841.2" cy="623.9" r="2.55"/><circle cx="842.8" cy="624.4" r="2.55"/><circle cx="812.1" cy="629.5" r="2.55"/><circle cx="815.3" cy="627.1" r="2.55"/><circle cx="836.4" cy="631.2" r="2.55"/><circle cx="836" cy="632" r="2.55"/><circle cx="800" cy="633.6" r="2.55"/><circle cx="798.4" cy="636.5" r="2.55"/><circle cx="787" cy="634.7" r="2.55"/><circle cx="792.4" cy="638" r="2.55"/><circle cx="856.2" cy="636" r="2.55"/><circle cx="822.9" cy="640.9" r="2.55"/><circle cx="870.3" cy="641.7" r="2.55"/><circle cx="809.2" cy="646.5" r="2.55"/><circle cx="787.9" cy="649" r="2.55"/><circle cx="837.2" cy="649.8" r="2.55"/><circle cx="857" cy="647.3" r="2.55"/><circle cx="879.2" cy="652.2" r="2.55"/><circle cx="811" cy="660.6" r="2.55"/><circle cx="825.8" cy="661.9" r="2.55"/><circle cx="845.7" cy="658.6" r="2.55"/><circle cx="787" cy="665.6" r="2.55"/><circle cx="831.5" cy="668" r="2.55"/><circle cx="868.2" cy="595.6" r="2.55"/><circle cx="919.6" cy="643.3" r="2.55"/><circle cx="783" cy="625.5" r="2.55"/><circle cx="783" cy="605.3" r="2.55"/><circle cx="783" cy="614.2" r="2.55"/>
</g>
<g fill="none" stroke="#FF8000" stroke-width="1.5">
<circle cx="487.8" cy="202.5" r="2.7"/><circle cx="577" cy="219.5" r="2.7"/><circle cx="544.9" cy="242.1" r="2.7"/><circle cx="556.7" cy="270.9" r="2.7"/><circle cx="501.5" cy="289" r="2.7"/><circle cx="586.1" cy="292.4" r="2.7"/><circle cx="478.3" cy="301.8" r="2.7"/><circle cx="588.2" cy="301.3" r="2.7"/><circle cx="462.4" cy="310.8" r="2.7"/><circle cx="538.1" cy="305.5" r="2.7"/><circle cx="538.7" cy="310" r="2.7"/><circle cx="508.7" cy="315.5" r="2.7"/><circle cx="578.5" cy="314.4" r="2.7"/><circle cx="550.8" cy="325" r="2.7"/><circle cx="559.4" cy="322" r="2.7"/><circle cx="573.6" cy="326" r="2.7"/><circle cx="559.9" cy="331" r="2.7"/><circle cx="493.6" cy="336" r="2.7"/><circle cx="503.3" cy="335.5" r="2.7"/><circle cx="514.5" cy="336" r="2.7"/><circle cx="569.3" cy="343.6" r="2.7"/><circle cx="586.6" cy="343.8" r="2.7"/><circle cx="585.8" cy="347" r="2.7"/><circle cx="548.6" cy="352.2" r="2.7"/><circle cx="550.7" cy="383.7" r="2.7"/><circle cx="559.9" cy="397.1" r="2.7"/><circle cx="576.4" cy="398.1" r="2.7"/><circle cx="515.6" cy="409.9" r="2.7"/><circle cx="688.3" cy="204.3" r="2.7"/><circle cx="780.6" cy="221.2" r="2.7"/><circle cx="632.3" cy="246.5" r="2.7"/><circle cx="733.7" cy="246.8" r="2.7"/><circle cx="737.7" cy="245.2" r="2.7"/><circle cx="741.3" cy="244" r="2.7"/><circle cx="762.3" cy="246.3" r="2.7"/><circle cx="769.3" cy="248.4" r="2.7"/><circle cx="772.5" cy="250.3" r="2.7"/><circle cx="779" cy="250.3" r="2.7"/><circle cx="611.3" cy="252" r="2.7"/><circle cx="655.6" cy="258.3" r="2.7"/><circle cx="595.8" cy="261" r="2.7"/><circle cx="678.4" cy="263.4" r="2.7"/><circle cx="599.5" cy="266.5" r="2.7"/><circle cx="647.5" cy="266.8" r="2.7"/><circle cx="621.3" cy="267.3" r="2.7"/><circle cx="751.2" cy="254.1" r="2.7"/><circle cx="745.5" cy="258.1" r="2.7"/><circle cx="772.5" cy="255.7" r="2.7"/><circle cx="779.8" cy="258.1" r="2.7"/><circle cx="750.7" cy="263.8" r="2.7"/><circle cx="750.7" cy="266.5" r="2.7"/><circle cx="764.4" cy="267.5" r="2.7"/><circle cx="681.1" cy="272.2" r="2.7"/><circle cx="697.3" cy="272.3" r="2.7"/><circle cx="678.7" cy="275.1" r="2.7"/><circle cx="717.5" cy="276.7" r="2.7"/><circle cx="730.5" cy="277.5" r="2.7"/><circle cx="754.7" cy="276.7" r="2.7"/><circle cx="767.6" cy="276.2" r="2.7"/><circle cx="777.3" cy="271.9" r="2.7"/><circle cx="745" cy="279.9" r="2.7"/><circle cx="749" cy="277.8" r="2.7"/><circle cx="781.4" cy="279.9" r="2.7"/><circle cx="615.4" cy="279.9" r="2.7"/><circle cx="632.6" cy="283.2" r="2.7"/><circle cx="638.8" cy="283.5" r="2.7"/><circle cx="660.9" cy="284" r="2.7"/><circle cx="726.4" cy="282.4" r="2.7"/><circle cx="723.2" cy="284.8" r="2.7"/><circle cx="746.6" cy="284.5" r="2.7"/><circle cx="782.2" cy="283.2" r="2.7"/><circle cx="602.7" cy="288" r="2.7"/><circle cx="625.4" cy="290.6" r="2.7"/><circle cx="678.7" cy="290.4" r="2.7"/><circle cx="683.6" cy="289.1" r="2.7"/><circle cx="710.2" cy="286.2" r="2.7"/><circle cx="726.7" cy="290.4" r="2.7"/><circle cx="745.8" cy="290.9" r="2.7"/><circle cx="754.2" cy="290" r="2.7"/><circle cx="773.3" cy="286.7" r="2.7"/><circle cx="779.8" cy="286.1" r="2.7"/><circle cx="648.8" cy="293.2" r="2.7"/><circle cx="645.6" cy="294.5" r="2.7"/><circle cx="640.4" cy="295.3" r="2.7"/><circle cx="610.3" cy="297.2" r="2.7"/><circle cx="627.8" cy="298.5" r="2.7"/><circle cx="692.5" cy="296.4" r="2.7"/><circle cx="687.6" cy="297.7" r="2.7"/><circle cx="760.4" cy="294.8" r="2.7"/><circle cx="747.4" cy="299.3" r="2.7"/><circle cx="750.7" cy="298.5" r="2.7"/><circle cx="589" cy="301.3" r="2.7"/><circle cx="603.5" cy="300.6" r="2.7"/><circle cx="644.8" cy="302.2" r="2.7"/><circle cx="637.5" cy="304.2" r="2.7"/><circle cx="632.6" cy="305" r="2.7"/><circle cx="635.1" cy="307.4" r="2.7"/><circle cx="676.3" cy="299.3" r="2.7"/><circle cx="679.5" cy="299.3" r="2.7"/><circle cx="686.8" cy="301.8" r="2.7"/><circle cx="690" cy="302.2" r="2.7"/><circle cx="721.6" cy="300.1" r="2.7"/><circle cx="740.2" cy="301.8" r="2.7"/><circle cx="771.7" cy="300.6" r="2.7"/><circle cx="779" cy="305" r="2.7"/><circle cx="667.4" cy="306.6" r="2.7"/><circle cx="684.4" cy="307.1" r="2.7"/><circle cx="687.6" cy="307.4" r="2.7"/><circle cx="691.7" cy="308.2" r="2.7"/><circle cx="724.8" cy="309" r="2.7"/><circle cx="744.2" cy="304.2" r="2.7"/><circle cx="748.2" cy="302.9" r="2.7"/><circle cx="750.7" cy="306.6" r="2.7"/><circle cx="745.8" cy="305.8" r="2.7"/><circle cx="776.5" cy="307.4" r="2.7"/><circle cx="781.4" cy="307.4" r="2.7"/><circle cx="774.9" cy="309.8" r="2.7"/><circle cx="595.5" cy="310.6" r="2.7"/><circle cx="695.7" cy="311.9" r="2.7"/><circle cx="712.7" cy="312.3" r="2.7"/><circle cx="718.3" cy="313.1" r="2.7"/><circle cx="738.5" cy="313.1" r="2.7"/><circle cx="752.3" cy="310.6" r="2.7"/><circle cx="753.9" cy="314.7" r="2.7"/><circle cx="766" cy="315.5" r="2.7"/><circle cx="600.3" cy="315.5" r="2.7"/><circle cx="597.1" cy="317.9" r="2.7"/><circle cx="617.3" cy="319.1" r="2.7"/><circle cx="694.9" cy="317.1" r="2.7"/><circle cx="699.7" cy="318.7" r="2.7"/><circle cx="684.4" cy="318.7" r="2.7"/><circle cx="718.3" cy="317.1" r="2.7"/><circle cx="721.6" cy="317.9" r="2.7"/><circle cx="744.2" cy="317.9" r="2.7"/><circle cx="769.3" cy="318.7" r="2.7"/><circle cx="772.5" cy="321.2" r="2.7"/><circle cx="669.8" cy="322" r="2.7"/><circle cx="672.3" cy="321.2" r="2.7"/><circle cx="702.2" cy="326" r="2.7"/><circle cx="695.7" cy="324.4" r="2.7"/><circle cx="711.9" cy="325.2" r="2.7"/><circle cx="717.5" cy="322" r="2.7"/><circle cx="721.6" cy="322.8" r="2.7"/><circle cx="725.6" cy="322.8" r="2.7"/><circle cx="718.3" cy="326" r="2.7"/><circle cx="723.2" cy="327.6" r="2.7"/><circle cx="737.7" cy="323.6" r="2.7"/><circle cx="747.4" cy="322.8" r="2.7"/><circle cx="750.7" cy="323.6" r="2.7"/><circle cx="758.8" cy="322.8" r="2.7"/><circle cx="762.8" cy="323.6" r="2.7"/><circle cx="766.8" cy="322.8" r="2.7"/><circle cx="771.7" cy="324.4" r="2.7"/><circle cx="775.7" cy="324.4" r="2.7"/><circle cx="635.1" cy="328.8" r="2.7"/><circle cx="669" cy="326" r="2.7"/><circle cx="656.1" cy="330" r="2.7"/><circle cx="673.9" cy="330.4" r="2.7"/><circle cx="705.4" cy="330.9" r="2.7"/><circle cx="714.3" cy="333.3" r="2.7"/><circle cx="716.7" cy="327.6" r="2.7"/><circle cx="726.4" cy="330" r="2.7"/><circle cx="744.2" cy="327.6" r="2.7"/><circle cx="749" cy="328.4" r="2.7"/><circle cx="752.3" cy="326.8" r="2.7"/><circle cx="757.1" cy="327.6" r="2.7"/><circle cx="761.2" cy="329.2" r="2.7"/><circle cx="765.2" cy="327.6" r="2.7"/><circle cx="769.3" cy="328.4" r="2.7"/><circle cx="742.6" cy="330.9" r="2.7"/><circle cx="746.6" cy="331.7" r="2.7"/><circle cx="750.7" cy="330" r="2.7"/><circle cx="757.1" cy="331.7" r="2.7"/><circle cx="762.8" cy="331.7" r="2.7"/><circle cx="705.4" cy="335.7" r="2.7"/><circle cx="708.6" cy="340.6" r="2.7"/><circle cx="714.3" cy="339.8" r="2.7"/><circle cx="722.4" cy="338.1" r="2.7"/><circle cx="686" cy="338.1" r="2.7"/><circle cx="692.5" cy="337.3" r="2.7"/><circle cx="688.4" cy="338.9" r="2.7"/><circle cx="732.1" cy="338.9" r="2.7"/><circle cx="741" cy="334.1" r="2.7"/><circle cx="745" cy="334.9" r="2.7"/><circle cx="748.2" cy="336.5" r="2.7"/><circle cx="752.3" cy="334.9" r="2.7"/><circle cx="757.9" cy="334.9" r="2.7"/><circle cx="762" cy="335.7" r="2.7"/><circle cx="766" cy="334.1" r="2.7"/><circle cx="744.2" cy="338.9" r="2.7"/><circle cx="748.2" cy="340.6" r="2.7"/><circle cx="753.1" cy="338.9" r="2.7"/><circle cx="758.8" cy="338.9" r="2.7"/><circle cx="764.4" cy="338.1" r="2.7"/><circle cx="775.7" cy="336.5" r="2.7"/><circle cx="781.4" cy="338.9" r="2.7"/><circle cx="632.6" cy="342.2" r="2.7"/><circle cx="589" cy="344.6" r="2.7"/><circle cx="655.3" cy="346.2" r="2.7"/><circle cx="716.7" cy="343" r="2.7"/><circle cx="723.2" cy="343.8" r="2.7"/><circle cx="735.3" cy="343.8" r="2.7"/><circle cx="746.6" cy="341.4" r="2.7"/><circle cx="762" cy="346.2" r="2.7"/><circle cx="773.3" cy="344.6" r="2.7"/><circle cx="769.3" cy="348.6" r="2.7"/><circle cx="774.9" cy="347" r="2.7"/><circle cx="700.5" cy="347.8" r="2.7"/><circle cx="703.8" cy="348.6" r="2.7"/><circle cx="705.4" cy="351.9" r="2.7"/><circle cx="710.2" cy="353.5" r="2.7"/><circle cx="721.6" cy="347.8" r="2.7"/><circle cx="725.6" cy="349.4" r="2.7"/><circle cx="686.8" cy="351.9" r="2.7"/><circle cx="635.1" cy="355.1" r="2.7"/><circle cx="732.9" cy="353.5" r="2.7"/><circle cx="736.9" cy="351.9" r="2.7"/><circle cx="739.4" cy="354.3" r="2.7"/><circle cx="735.3" cy="356.7" r="2.7"/><circle cx="726.4" cy="357.5" r="2.7"/><circle cx="747.4" cy="355.9" r="2.7"/><circle cx="783" cy="354.3" r="2.7"/><circle cx="608.7" cy="360.4" r="2.7"/><circle cx="684.4" cy="360.8" r="2.7"/><circle cx="723.2" cy="362.4" r="2.7"/><circle cx="732.1" cy="361.6" r="2.7"/><circle cx="738.5" cy="360" r="2.7"/><circle cx="745" cy="360" r="2.7"/><circle cx="750.7" cy="360.8" r="2.7"/><circle cx="755.5" cy="364.8" r="2.7"/><circle cx="697.3" cy="365.6" r="2.7"/><circle cx="704.6" cy="367.2" r="2.7"/><circle cx="739.4" cy="367.2" r="2.7"/><circle cx="749" cy="368" r="2.7"/><circle cx="770.9" cy="365.6" r="2.7"/><circle cx="761.2" cy="368.9" r="2.7"/><circle cx="766" cy="371.3" r="2.7"/><circle cx="629.9" cy="373.7" r="2.7"/><circle cx="711.9" cy="372.1" r="2.7"/><circle cx="688.4" cy="376.9" r="2.7"/><circle cx="726.4" cy="372.9" r="2.7"/><circle cx="729.6" cy="374.5" r="2.7"/><circle cx="650.4" cy="376.9" r="2.7"/><circle cx="652" cy="378.5" r="2.7"/><circle cx="720" cy="376.9" r="2.7"/><circle cx="740.2" cy="378.5" r="2.7"/><circle cx="746.6" cy="375.3" r="2.7"/><circle cx="750.7" cy="373.7" r="2.7"/><circle cx="754.7" cy="374.5" r="2.7"/><circle cx="779.8" cy="378.5" r="2.7"/><circle cx="761.2" cy="381" r="2.7"/><circle cx="770.9" cy="381" r="2.7"/><circle cx="776.5" cy="380.2" r="2.7"/><circle cx="782.2" cy="381.8" r="2.7"/><circle cx="709.4" cy="381" r="2.7"/><circle cx="741" cy="381.8" r="2.7"/><circle cx="590.6" cy="385.8" r="2.7"/><circle cx="626.2" cy="389.4" r="2.7"/><circle cx="687.6" cy="385.3" r="2.7"/><circle cx="693.3" cy="389.9" r="2.7"/><circle cx="759.6" cy="385.8" r="2.7"/><circle cx="771.7" cy="389.9" r="2.7"/><circle cx="721.6" cy="391.5" r="2.7"/><circle cx="724.8" cy="392.8" r="2.7"/><circle cx="719.1" cy="398.8" r="2.7"/><circle cx="675.5" cy="399.6" r="2.7"/><circle cx="666.6" cy="402.5" r="2.7"/><circle cx="682.8" cy="404.4" r="2.7"/><circle cx="735.3" cy="399.6" r="2.7"/><circle cx="726.4" cy="402" r="2.7"/><circle cx="755.5" cy="402.8" r="2.7"/><circle cx="774.9" cy="403.6" r="2.7"/><circle cx="778.1" cy="405.2" r="2.7"/><circle cx="772.5" cy="408.5" r="2.7"/><circle cx="773.3" cy="411.7" r="2.7"/><circle cx="652" cy="412" r="2.7"/><circle cx="668.2" cy="412.5" r="2.7"/><circle cx="709.4" cy="413" r="2.7"/><circle cx="712.7" cy="416.5" r="2.7"/><circle cx="707" cy="416.5" r="2.7"/><circle cx="692.5" cy="416.5" r="2.7"/><circle cx="669" cy="420.3" r="2.7"/><circle cx="726.1" cy="412.5" r="2.7"/><circle cx="740.2" cy="412" r="2.7"/><circle cx="749.9" cy="412.5" r="2.7"/><circle cx="755.5" cy="415.7" r="2.7"/><circle cx="735.3" cy="419" r="2.7"/><circle cx="781.4" cy="404.4" r="2.7"/><circle cx="791.9" cy="227.6" r="2.7"/><circle cx="813.7" cy="241.1" r="2.7"/><circle cx="787" cy="246.8" r="2.7"/><circle cx="793.8" cy="249.2" r="2.7"/><circle cx="801.3" cy="254.1" r="2.7"/><circle cx="821" cy="259.4" r="2.7"/><circle cx="806.9" cy="267.6" r="2.7"/><circle cx="816.5" cy="269.1" r="2.7"/><circle cx="841.2" cy="270.2" r="2.7"/><circle cx="842.8" cy="269.4" r="2.7"/><circle cx="783.8" cy="273" r="2.7"/><circle cx="783" cy="281.1" r="2.7"/><circle cx="805.1" cy="280.3" r="2.7"/><circle cx="801.1" cy="284.8" r="2.7"/><circle cx="845.7" cy="290" r="2.7"/><circle cx="790.8" cy="292.1" r="2.7"/><circle cx="793" cy="295.6" r="2.7"/><circle cx="815.3" cy="293.4" r="2.7"/><circle cx="821" cy="293.2" r="2.7"/><circle cx="836" cy="299" r="2.7"/><circle cx="843.8" cy="298.8" r="2.7"/><circle cx="788.7" cy="302.6" r="2.7"/><circle cx="792.7" cy="301.8" r="2.7"/><circle cx="796.7" cy="302.6" r="2.7"/><circle cx="801.6" cy="301.8" r="2.7"/><circle cx="856.2" cy="303.7" r="2.7"/><circle cx="785.4" cy="307.4" r="2.7"/><circle cx="788.7" cy="309" r="2.7"/><circle cx="791.9" cy="310.6" r="2.7"/><circle cx="788.7" cy="313.9" r="2.7"/><circle cx="784.6" cy="310.6" r="2.7"/><circle cx="857" cy="314.2" r="2.7"/><circle cx="802.1" cy="317.1" r="2.7"/><circle cx="821.3" cy="324.1" r="2.7"/><circle cx="793" cy="325.2" r="2.7"/><circle cx="787" cy="327.6" r="2.7"/><circle cx="806.9" cy="326.8" r="2.7"/><circle cx="813.2" cy="329.2" r="2.7"/><circle cx="835.9" cy="326" r="2.7"/><circle cx="790.8" cy="331.2" r="2.7"/><circle cx="797.1" cy="332.5" r="2.7"/><circle cx="783" cy="339.8" r="2.7"/><circle cx="790.3" cy="340.6" r="2.7"/><circle cx="808.5" cy="339.8" r="2.7"/><circle cx="792.4" cy="344.6" r="2.7"/><circle cx="787.5" cy="347.5" r="2.7"/><circle cx="822.3" cy="352.7" r="2.7"/><circle cx="825" cy="353.5" r="2.7"/><circle cx="830.9" cy="353.5" r="2.7"/><circle cx="784.6" cy="355.1" r="2.7"/><circle cx="789.1" cy="358.3" r="2.7"/><circle cx="809.4" cy="361.9" r="2.7"/><circle cx="802.1" cy="364.8" r="2.7"/><circle cx="809.7" cy="367.6" r="2.7"/><circle cx="818.9" cy="368" r="2.7"/><circle cx="815.3" cy="372.4" r="2.7"/><circle cx="835.9" cy="365.6" r="2.7"/><circle cx="783.8" cy="382.3" r="2.7"/><circle cx="789" cy="390.7" r="2.7"/><circle cx="801.9" cy="397.9" r="2.7"/><circle cx="811.8" cy="394.4" r="2.7"/><circle cx="825.8" cy="393.3" r="2.7"/><circle cx="831.8" cy="393.9" r="2.7"/><circle cx="870.3" cy="392.9" r="2.7"/><circle cx="785.4" cy="410.4" r="2.7"/><circle cx="529.2" cy="438" r="2.7"/><circle cx="540.8" cy="446.1" r="2.7"/><circle cx="584.1" cy="454.9" r="2.7"/><circle cx="588.2" cy="450.9" r="2.7"/><circle cx="541.8" cy="459.5" r="2.7"/><circle cx="536.5" cy="472.4" r="2.7"/><circle cx="530.8" cy="474.4" r="2.7"/><circle cx="568" cy="476.5" r="2.7"/><circle cx="562.3" cy="488.1" r="2.7"/><circle cx="536.8" cy="491.8" r="2.7"/><circle cx="565.6" cy="493.8" r="2.7"/><circle cx="570.4" cy="500.2" r="2.7"/><circle cx="573.6" cy="505.9" r="2.7"/><circle cx="490.7" cy="507.8" r="2.7"/><circle cx="547" cy="506.4" r="2.7"/><circle cx="567.2" cy="510.4" r="2.7"/><circle cx="569.6" cy="517.2" r="2.7"/><circle cx="575.3" cy="508.3" r="2.7"/><circle cx="563.1" cy="528.5" r="2.7"/><circle cx="570.1" cy="535.8" r="2.7"/><circle cx="559.1" cy="543.9" r="2.7"/><circle cx="567.2" cy="542.2" r="2.7"/><circle cx="574.8" cy="544.7" r="2.7"/><circle cx="411.2" cy="554.7" r="2.7"/><circle cx="547" cy="556.8" r="2.7"/><circle cx="562.8" cy="558.4" r="2.7"/><circle cx="568" cy="555.2" r="2.7"/><circle cx="576.9" cy="555.2" r="2.7"/><circle cx="549.4" cy="563.3" r="2.7"/><circle cx="538.9" cy="563.3" r="2.7"/><circle cx="570.4" cy="563.6" r="2.7"/><circle cx="574.5" cy="564.1" r="2.7"/><circle cx="576.9" cy="567.3" r="2.7"/><circle cx="399" cy="568.1" r="2.7"/><circle cx="468.6" cy="567.3" r="2.7"/><circle cx="516.2" cy="568.4" r="2.7"/><circle cx="408.3" cy="582.7" r="2.7"/><circle cx="551" cy="577" r="2.7"/><circle cx="552.6" cy="580.2" r="2.7"/><circle cx="547.8" cy="581.9" r="2.7"/><circle cx="572.8" cy="577" r="2.7"/><circle cx="571.2" cy="580.2" r="2.7"/><circle cx="524.3" cy="580.2" r="2.7"/><circle cx="524" cy="583.2" r="2.7"/><circle cx="514.6" cy="583.5" r="2.7"/><circle cx="510.1" cy="585.9" r="2.7"/><circle cx="499.3" cy="585.9" r="2.7"/><circle cx="491.5" cy="585.6" r="2.7"/><circle cx="502.5" cy="589.9" r="2.7"/><circle cx="511.4" cy="589.9" r="2.7"/><circle cx="481.8" cy="591.2" r="2.7"/><circle cx="477.4" cy="595.6" r="2.7"/><circle cx="507.4" cy="594.8" r="2.7"/><circle cx="510.6" cy="599.6" r="2.7"/><circle cx="527.6" cy="589.9" r="2.7"/><circle cx="531.6" cy="590.8" r="2.7"/><circle cx="534" cy="594" r="2.7"/><circle cx="541.3" cy="592.4" r="2.7"/><circle cx="543.7" cy="595.6" r="2.7"/><circle cx="542.1" cy="598.8" r="2.7"/><circle cx="521.9" cy="598" r="2.7"/><circle cx="527.9" cy="601.3" r="2.7"/><circle cx="555" cy="598" r="2.7"/><circle cx="562.3" cy="599.6" r="2.7"/><circle cx="572" cy="594.8" r="2.7"/><circle cx="580.1" cy="594.8" r="2.7"/><circle cx="585" cy="584.3" r="2.7"/><circle cx="589" cy="585.9" r="2.7"/><circle cx="566.4" cy="585.1" r="2.7"/><circle cx="563.1" cy="582.7" r="2.7"/><circle cx="583.3" cy="600.5" r="2.7"/><circle cx="588.2" cy="597.2" r="2.7"/><circle cx="524.3" cy="606.1" r="2.7"/><circle cx="526" cy="609.3" r="2.7"/><circle cx="518.7" cy="611" r="2.7"/><circle cx="537.3" cy="608.5" r="2.7"/><circle cx="563.1" cy="605.3" r="2.7"/><circle cx="580.1" cy="607.7" r="2.7"/><circle cx="487.1" cy="611.8" r="2.7"/><circle cx="499.3" cy="614.2" r="2.7"/><circle cx="502.5" cy="614.2" r="2.7"/><circle cx="505.7" cy="613.4" r="2.7"/><circle cx="515.8" cy="618.2" r="2.7"/><circle cx="520.3" cy="622.3" r="2.7"/><circle cx="492" cy="622.3" r="2.7"/><circle cx="496.5" cy="623.9" r="2.7"/><circle cx="521.9" cy="627.9" r="2.7"/><circle cx="505.7" cy="633.1" r="2.7"/><circle cx="547.8" cy="636.8" r="2.7"/><circle cx="558" cy="639.2" r="2.7"/><circle cx="567.7" cy="635.2" r="2.7"/><circle cx="577.7" cy="640.1" r="2.7"/><circle cx="581.7" cy="640.1" r="2.7"/><circle cx="510.1" cy="641.2" r="2.7"/><circle cx="424.4" cy="639.7" r="2.7"/><circle cx="461.8" cy="653.2" r="2.7"/><circle cx="538.8" cy="609.7" r="2.7"/><circle cx="528.5" cy="618.7" r="2.7"/><circle cx="560.8" cy="618.2" r="2.7"/><circle cx="564.5" cy="609.1" r="2.7"/><circle cx="563.1" cy="613.5" r="2.7"/><circle cx="561.8" cy="622.5" r="2.7"/><circle cx="557.1" cy="615.5" r="2.7"/><circle cx="555.4" cy="619.8" r="2.7"/><circle cx="528.8" cy="619.2" r="2.7"/><circle cx="556.6" cy="616.1" r="2.7"/><circle cx="530.9" cy="621.2" r="2.7"/><circle cx="537.6" cy="620.4" r="2.7"/><circle cx="536.2" cy="614.3" r="2.7"/><circle cx="577.1" cy="611.2" r="2.7"/><circle cx="537.1" cy="627.1" r="2.7"/><circle cx="530.1" cy="616.3" r="2.7"/><circle cx="549" cy="615.2" r="2.7"/><circle cx="577.7" cy="618.5" r="2.7"/><circle cx="575.7" cy="618.3" r="2.7"/><circle cx="577.8" cy="628.3" r="2.7"/><circle cx="554.6" cy="625.9" r="2.7"/><circle cx="577.6" cy="614.1" r="2.7"/><circle cx="535.2" cy="611.4" r="2.7"/><circle cx="554.4" cy="609.8" r="2.7"/><circle cx="560.1" cy="627" r="2.7"/><circle cx="557.4" cy="626.7" r="2.7"/><circle cx="567.9" cy="622.5" r="2.7"/><circle cx="548.8" cy="624" r="2.7"/><circle cx="577.3" cy="610.7" r="2.7"/><circle cx="583.3" cy="613.4" r="2.7"/><circle cx="537.1" cy="627.3" r="2.7"/><circle cx="571.8" cy="626.2" r="2.7"/><circle cx="555" cy="608.6" r="2.7"/><circle cx="551.8" cy="608.1" r="2.7"/><circle cx="558.7" cy="609" r="2.7"/><circle cx="584.9" cy="623.9" r="2.7"/><circle cx="547" cy="629.8" r="2.7"/><circle cx="531.6" cy="613.2" r="2.7"/><circle cx="532.1" cy="617.3" r="2.7"/><circle cx="540" cy="616.5" r="2.7"/><circle cx="570.9" cy="628.4" r="2.7"/><circle cx="558.3" cy="626.8" r="2.7"/><circle cx="549.8" cy="627.7" r="2.7"/><circle cx="559.2" cy="624" r="2.7"/><circle cx="538.3" cy="621.1" r="2.7"/><circle cx="546.1" cy="626.6" r="2.7"/><circle cx="560.4" cy="619" r="2.7"/><circle cx="575.1" cy="620.2" r="2.7"/><circle cx="548.1" cy="610.1" r="2.7"/><circle cx="565.9" cy="629.4" r="2.7"/><circle cx="569" cy="622.4" r="2.7"/><circle cx="574.1" cy="610.5" r="2.7"/><circle cx="540.9" cy="617.4" r="2.7"/><circle cx="572.8" cy="611.9" r="2.7"/><circle cx="578.1" cy="616.2" r="2.7"/><circle cx="560.6" cy="629.3" r="2.7"/><circle cx="553.5" cy="623.5" r="2.7"/><circle cx="579.6" cy="627.3" r="2.7"/><circle cx="533.3" cy="613.2" r="2.7"/><circle cx="552.8" cy="627.7" r="2.7"/><circle cx="544.6" cy="609.7" r="2.7"/><circle cx="550.6" cy="612.1" r="2.7"/><circle cx="571.6" cy="621.2" r="2.7"/><circle cx="554.6" cy="625.8" r="2.7"/><circle cx="537.7" cy="614.4" r="2.7"/><circle cx="532.1" cy="616.5" r="2.7"/><circle cx="553.9" cy="623.5" r="2.7"/><circle cx="557" cy="616.6" r="2.7"/><circle cx="556.9" cy="613.7" r="2.7"/><circle cx="550.3" cy="621.5" r="2.7"/><circle cx="665" cy="423.4" r="2.7"/><circle cx="687.6" cy="422.9" r="2.7"/><circle cx="686.8" cy="430.7" r="2.7"/><circle cx="608.1" cy="434.7" r="2.7"/><circle cx="640.7" cy="433.1" r="2.7"/><circle cx="671.5" cy="436.4" r="2.7"/><circle cx="702.2" cy="431.5" r="2.7"/><circle cx="741" cy="429.1" r="2.7"/><circle cx="745" cy="433.1" r="2.7"/><circle cx="721.6" cy="436.4" r="2.7"/><circle cx="682" cy="441.2" r="2.7"/><circle cx="675.5" cy="445.2" r="2.7"/><circle cx="681.1" cy="448.5" r="2.7"/><circle cx="690.9" cy="446.1" r="2.7"/><circle cx="695.7" cy="442" r="2.7"/><circle cx="699.7" cy="443.6" r="2.7"/><circle cx="717.5" cy="442.8" r="2.7"/><circle cx="715.1" cy="450.1" r="2.7"/><circle cx="770.1" cy="442.8" r="2.7"/><circle cx="590.6" cy="451.7" r="2.7"/><circle cx="623" cy="452.5" r="2.7"/><circle cx="654.5" cy="456.6" r="2.7"/><circle cx="606" cy="458.2" r="2.7"/><circle cx="682" cy="459.8" r="2.7"/><circle cx="741" cy="459" r="2.7"/><circle cx="733.7" cy="463" r="2.7"/><circle cx="736.9" cy="462.2" r="2.7"/><circle cx="753.9" cy="455.8" r="2.7"/><circle cx="764.4" cy="458.2" r="2.7"/><circle cx="702.2" cy="466.3" r="2.7"/><circle cx="762" cy="467.9" r="2.7"/><circle cx="713.5" cy="472.7" r="2.7"/><circle cx="696.5" cy="472.7" r="2.7"/><circle cx="763.6" cy="473.5" r="2.7"/><circle cx="598.7" cy="477.6" r="2.7"/><circle cx="668.2" cy="476.8" r="2.7"/><circle cx="680.3" cy="476.8" r="2.7"/><circle cx="682.8" cy="480.8" r="2.7"/><circle cx="678.7" cy="483.2" r="2.7"/><circle cx="627" cy="480" r="2.7"/><circle cx="625.4" cy="483.2" r="2.7"/><circle cx="637.5" cy="483.2" r="2.7"/><circle cx="647.2" cy="481.6" r="2.7"/><circle cx="618.9" cy="484.1" r="2.7"/><circle cx="723.2" cy="477.6" r="2.7"/><circle cx="745" cy="476.8" r="2.7"/><circle cx="737.7" cy="482.4" r="2.7"/><circle cx="744.2" cy="483.2" r="2.7"/><circle cx="749" cy="481.6" r="2.7"/><circle cx="753.9" cy="482.4" r="2.7"/><circle cx="716.7" cy="481.6" r="2.7"/><circle cx="673.9" cy="484.1" r="2.7"/><circle cx="669" cy="488.9" r="2.7"/><circle cx="613.2" cy="490.5" r="2.7"/><circle cx="635.9" cy="490.5" r="2.7"/><circle cx="698.9" cy="488.9" r="2.7"/><circle cx="761.2" cy="487.3" r="2.7"/><circle cx="602.7" cy="494.6" r="2.7"/><circle cx="621.3" cy="495.4" r="2.7"/><circle cx="665" cy="494.6" r="2.7"/><circle cx="660.1" cy="500.2" r="2.7"/><circle cx="670.6" cy="497" r="2.7"/><circle cx="677.1" cy="492.1" r="2.7"/><circle cx="688.4" cy="496.2" r="2.7"/><circle cx="708.6" cy="500.2" r="2.7"/><circle cx="724.8" cy="494.6" r="2.7"/><circle cx="728.8" cy="494.6" r="2.7"/><circle cx="734.5" cy="495.4" r="2.7"/><circle cx="723.2" cy="502.6" r="2.7"/><circle cx="755.5" cy="496.2" r="2.7"/><circle cx="757.1" cy="503.4" r="2.7"/><circle cx="764.4" cy="502.6" r="2.7"/><circle cx="682" cy="504.3" r="2.7"/><circle cx="627" cy="502.6" r="2.7"/><circle cx="660.1" cy="509.1" r="2.7"/><circle cx="663.4" cy="514.8" r="2.7"/><circle cx="678.7" cy="516.4" r="2.7"/><circle cx="690.9" cy="508.3" r="2.7"/><circle cx="692.5" cy="518" r="2.7"/><circle cx="727.2" cy="508.3" r="2.7"/><circle cx="716.7" cy="516.4" r="2.7"/><circle cx="727.2" cy="517.2" r="2.7"/><circle cx="732.1" cy="518.8" r="2.7"/><circle cx="593.9" cy="516.4" r="2.7"/><circle cx="608.4" cy="516.4" r="2.7"/><circle cx="720" cy="522" r="2.7"/><circle cx="630.7" cy="524" r="2.7"/><circle cx="674.7" cy="525.3" r="2.7"/><circle cx="703.8" cy="524.5" r="2.7"/><circle cx="618.9" cy="530.9" r="2.7"/><circle cx="648.8" cy="532.5" r="2.7"/><circle cx="648.8" cy="535" r="2.7"/><circle cx="716.7" cy="534.2" r="2.7"/><circle cx="734.5" cy="536.6" r="2.7"/><circle cx="611.6" cy="542.2" r="2.7"/><circle cx="681.1" cy="547.1" r="2.7"/><circle cx="651.2" cy="547.9" r="2.7"/><circle cx="716.7" cy="546.3" r="2.7"/><circle cx="748.2" cy="543.9" r="2.7"/><circle cx="777.3" cy="541.4" r="2.7"/><circle cx="730" cy="550.3" r="2.7"/><circle cx="591.4" cy="560.8" r="2.7"/><circle cx="601.1" cy="565.7" r="2.7"/><circle cx="614.1" cy="559.2" r="2.7"/><circle cx="623.8" cy="555.2" r="2.7"/><circle cx="625.4" cy="558.4" r="2.7"/><circle cx="645.6" cy="555.2" r="2.7"/><circle cx="654.5" cy="559.2" r="2.7"/><circle cx="640.7" cy="563.3" r="2.7"/><circle cx="649.6" cy="565.7" r="2.7"/><circle cx="680.3" cy="552.8" r="2.7"/><circle cx="681.1" cy="559.2" r="2.7"/><circle cx="686" cy="563.3" r="2.7"/><circle cx="687.6" cy="567.3" r="2.7"/><circle cx="720" cy="557.6" r="2.7"/><circle cx="720" cy="561.6" r="2.7"/><circle cx="762.8" cy="553.6" r="2.7"/><circle cx="748.2" cy="564.1" r="2.7"/><circle cx="646.4" cy="573" r="2.7"/><circle cx="645.6" cy="576.2" r="2.7"/><circle cx="658.5" cy="569.7" r="2.7"/><circle cx="659.3" cy="576.2" r="2.7"/><circle cx="668.2" cy="575.4" r="2.7"/><circle cx="668.2" cy="578.6" r="2.7"/><circle cx="622.1" cy="581" r="2.7"/><circle cx="626.2" cy="577" r="2.7"/><circle cx="612.4" cy="582.7" r="2.7"/><circle cx="591.4" cy="577" r="2.7"/><circle cx="681.1" cy="582.7" r="2.7"/><circle cx="690" cy="582.7" r="2.7"/><circle cx="705.4" cy="576.2" r="2.7"/><circle cx="732.1" cy="580.2" r="2.7"/><circle cx="734.5" cy="570.5" r="2.7"/><circle cx="740.2" cy="570.5" r="2.7"/><circle cx="755.5" cy="563.3" r="2.7"/><circle cx="765.2" cy="567.3" r="2.7"/><circle cx="761.2" cy="573.8" r="2.7"/><circle cx="769.3" cy="573.8" r="2.7"/><circle cx="597.9" cy="587.5" r="2.7"/><circle cx="597.1" cy="592.4" r="2.7"/><circle cx="613.2" cy="587.5" r="2.7"/><circle cx="613.2" cy="594.8" r="2.7"/><circle cx="621.3" cy="595.6" r="2.7"/><circle cx="625.4" cy="598" r="2.7"/><circle cx="633.5" cy="584.3" r="2.7"/><circle cx="642.4" cy="585.1" r="2.7"/><circle cx="640.7" cy="592.4" r="2.7"/><circle cx="648.8" cy="589.1" r="2.7"/><circle cx="655.3" cy="589.1" r="2.7"/><circle cx="660.9" cy="587.5" r="2.7"/><circle cx="638.3" cy="584.3" r="2.7"/><circle cx="676.3" cy="595.6" r="2.7"/><circle cx="679.5" cy="597.2" r="2.7"/><circle cx="684.4" cy="596.4" r="2.7"/><circle cx="703.8" cy="598.8" r="2.7"/><circle cx="712.7" cy="589.1" r="2.7"/><circle cx="724.8" cy="587.5" r="2.7"/><circle cx="589" cy="597.2" r="2.7"/><circle cx="592.2" cy="598.8" r="2.7"/><circle cx="605.2" cy="594.8" r="2.7"/><circle cx="597.1" cy="605.3" r="2.7"/><circle cx="597.9" cy="610.1" r="2.7"/><circle cx="602.7" cy="609.3" r="2.7"/><circle cx="617.3" cy="604.5" r="2.7"/><circle cx="623.8" cy="600.5" r="2.7"/><circle cx="631.8" cy="603.7" r="2.7"/><circle cx="631.8" cy="607.7" r="2.7"/><circle cx="646.4" cy="605.3" r="2.7"/><circle cx="651.2" cy="609.3" r="2.7"/><circle cx="653.7" cy="605.3" r="2.7"/><circle cx="652.9" cy="598.8" r="2.7"/><circle cx="662.6" cy="606.9" r="2.7"/><circle cx="666.6" cy="609.3" r="2.7"/><circle cx="672.3" cy="599.6" r="2.7"/><circle cx="677.1" cy="614.2" r="2.7"/><circle cx="683.6" cy="613.4" r="2.7"/><circle cx="686.8" cy="605.3" r="2.7"/><circle cx="695.7" cy="609.3" r="2.7"/><circle cx="695.7" cy="613.4" r="2.7"/><circle cx="705.4" cy="603.7" r="2.7"/><circle cx="716.7" cy="611" r="2.7"/><circle cx="770.9" cy="604.5" r="2.7"/><circle cx="771.7" cy="614.2" r="2.7"/><circle cx="590.6" cy="614.2" r="2.7"/><circle cx="595.5" cy="621.5" r="2.7"/><circle cx="599.5" cy="622.3" r="2.7"/><circle cx="603.5" cy="622.3" r="2.7"/><circle cx="592.2" cy="625.5" r="2.7"/><circle cx="595.5" cy="630.4" r="2.7"/><circle cx="610" cy="627.9" r="2.7"/><circle cx="621.3" cy="623.9" r="2.7"/><circle cx="635.1" cy="615" r="2.7"/><circle cx="648" cy="623.1" r="2.7"/><circle cx="646.4" cy="631.2" r="2.7"/><circle cx="666.6" cy="618.2" r="2.7"/><circle cx="669" cy="626.3" r="2.7"/><circle cx="659.3" cy="630.4" r="2.7"/><circle cx="686.8" cy="617.4" r="2.7"/><circle cx="717.5" cy="623.9" r="2.7"/><circle cx="717.5" cy="627.9" r="2.7"/><circle cx="734.5" cy="618.2" r="2.7"/><circle cx="589.8" cy="623.1" r="2.7"/><circle cx="609.2" cy="640.1" r="2.7"/><circle cx="610" cy="645.7" r="2.7"/><circle cx="658.5" cy="641.7" r="2.7"/><circle cx="690.9" cy="636" r="2.7"/><circle cx="717.5" cy="631.2" r="2.7"/><circle cx="742.6" cy="641.7" r="2.7"/><circle cx="648.3" cy="584" r="2.7"/><circle cx="609.3" cy="614.8" r="2.7"/><circle cx="621.6" cy="620.5" r="2.7"/><circle cx="657.1" cy="597" r="2.7"/><circle cx="636.8" cy="583.3" r="2.7"/><circle cx="632.1" cy="584.4" r="2.7"/><circle cx="616.1" cy="620.1" r="2.7"/><circle cx="601.1" cy="609.5" r="2.7"/><circle cx="653.1" cy="610.2" r="2.7"/><circle cx="668" cy="617.4" r="2.7"/><circle cx="622.7" cy="596.7" r="2.7"/><circle cx="603.8" cy="607.9" r="2.7"/><circle cx="607.7" cy="589.3" r="2.7"/><circle cx="661.4" cy="602.1" r="2.7"/><circle cx="653.1" cy="583.1" r="2.7"/><circle cx="680.3" cy="600.7" r="2.7"/><circle cx="647.6" cy="596.7" r="2.7"/><circle cx="626.8" cy="613.8" r="2.7"/><circle cx="598.2" cy="606.3" r="2.7"/><circle cx="675.3" cy="603.5" r="2.7"/><circle cx="647.2" cy="603.6" r="2.7"/><circle cx="619.1" cy="596.3" r="2.7"/><circle cx="681.6" cy="611" r="2.7"/><circle cx="652.3" cy="600.3" r="2.7"/><circle cx="685.8" cy="603.9" r="2.7"/><circle cx="628" cy="589.1" r="2.7"/><circle cx="614.1" cy="617.5" r="2.7"/><circle cx="646.4" cy="616.7" r="2.7"/><circle cx="640.6" cy="612.8" r="2.7"/><circle cx="646.5" cy="615.9" r="2.7"/><circle cx="639" cy="611.5" r="2.7"/><circle cx="668.9" cy="596.7" r="2.7"/><circle cx="596.4" cy="609.4" r="2.7"/><circle cx="673.7" cy="616.1" r="2.7"/><circle cx="598.9" cy="614" r="2.7"/><circle cx="636.3" cy="604" r="2.7"/><circle cx="599.4" cy="613.4" r="2.7"/><circle cx="610.5" cy="610.4" r="2.7"/><circle cx="620.5" cy="621.3" r="2.7"/><circle cx="659.4" cy="596" r="2.7"/><circle cx="642.5" cy="589" r="2.7"/><circle cx="634.7" cy="620.2" r="2.7"/><circle cx="681.9" cy="594.5" r="2.7"/><circle cx="631.5" cy="603.1" r="2.7"/><circle cx="641.6" cy="622.6" r="2.7"/><circle cx="648.6" cy="595.2" r="2.7"/><circle cx="624.9" cy="610.3" r="2.7"/><circle cx="656.1" cy="598.9" r="2.7"/><circle cx="681.9" cy="611.1" r="2.7"/><circle cx="647.5" cy="619.8" r="2.7"/><circle cx="679.9" cy="610.6" r="2.7"/><circle cx="681.6" cy="606.7" r="2.7"/><circle cx="605.9" cy="600.1" r="2.7"/><circle cx="631.8" cy="602.1" r="2.7"/><circle cx="620.6" cy="592.3" r="2.7"/><circle cx="677.7" cy="597.5" r="2.7"/><circle cx="656.7" cy="601.8" r="2.7"/><circle cx="611.4" cy="593.1" r="2.7"/><circle cx="602.1" cy="590.8" r="2.7"/><circle cx="622.4" cy="603.9" r="2.7"/><circle cx="630.3" cy="599.7" r="2.7"/><circle cx="642.7" cy="613.8" r="2.7"/><circle cx="660.1" cy="611.2" r="2.7"/><circle cx="593.1" cy="591.3" r="2.7"/><circle cx="652.7" cy="611.1" r="2.7"/><circle cx="636" cy="613.8" r="2.7"/><circle cx="684.7" cy="610.2" r="2.7"/><circle cx="671.9" cy="594.8" r="2.7"/><circle cx="670.3" cy="602.8" r="2.7"/><circle cx="669.1" cy="609.7" r="2.7"/><circle cx="617.1" cy="613.4" r="2.7"/><circle cx="668.5" cy="602.1" r="2.7"/><circle cx="600.5" cy="596.8" r="2.7"/><circle cx="604.1" cy="586.8" r="2.7"/><circle cx="616.9" cy="601.6" r="2.7"/><circle cx="668.7" cy="606.3" r="2.7"/><circle cx="613.4" cy="619.6" r="2.7"/><circle cx="634.6" cy="617.7" r="2.7"/><circle cx="603.1" cy="614.3" r="2.7"/><circle cx="609.6" cy="591.5" r="2.7"/><circle cx="670.2" cy="616" r="2.7"/><circle cx="643.9" cy="587.1" r="2.7"/><circle cx="626.5" cy="590.2" r="2.7"/><circle cx="643.8" cy="587.2" r="2.7"/><circle cx="607.7" cy="611.5" r="2.7"/><circle cx="806.1" cy="437.7" r="2.7"/><circle cx="787.9" cy="444.1" r="2.7"/><circle cx="812.1" cy="445.6" r="2.7"/><circle cx="837.2" cy="444.9" r="2.7"/><circle cx="798" cy="454.1" r="2.7"/><circle cx="864.3" cy="490.8" r="2.7"/><circle cx="838.8" cy="495.9" r="2.7"/><circle cx="811.8" cy="499.9" r="2.7"/><circle cx="816.5" cy="501.3" r="2.7"/><circle cx="787.4" cy="505.1" r="2.7"/><circle cx="783.8" cy="518" r="2.7"/><circle cx="802.4" cy="535.5" r="2.7"/><circle cx="796.7" cy="538.7" r="2.7"/><circle cx="879.2" cy="551.1" r="2.7"/><circle cx="808.1" cy="559.7" r="2.7"/><circle cx="785.4" cy="573.8" r="2.7"/><circle cx="800.5" cy="582.3" r="2.7"/><circle cx="783" cy="581" r="2.7"/><circle cx="860.9" cy="591.1" r="2.7"/><circle cx="868.2" cy="595.6" r="2.7"/><circle cx="785.4" cy="601.3" r="2.7"/><circle cx="810.2" cy="609.3" r="2.7"/><circle cx="802.1" cy="611.8" r="2.7"/><circle cx="818.9" cy="623.9" r="2.7"/><circle cx="919.6" cy="643.8" r="2.7"/>
</g>
<path d="M297.8 677.8V170.3M286.8 170.3H979M296.7 672.1H980.1M297.8 656.7h-6M297.8 631.1h-11M297.8 605.5h-6M297.8 579.9h-11M297.8 554.3h-6M297.8 528.7h-11M297.8 503.1h-6M297.8 477.5h-11M297.8 451.9h-6M297.8 426.3h-11M297.8 400.7h-6M297.8 375.1h-11M297.8 349.5h-6M297.8 323.9h-11M297.8 298.3h-6M297.8 272.7h-11M297.8 247.1h-6M297.8 221.5h-11M297.8 195.9h-6M297.8 672.1v6M395.1 170.3v11M395.1 672.1v11M492.4 170.3v6.3M492.4 672.1v6M589.8 170.3v11M589.8 672.1v11M687.1 170.3v6.3M687.1 672.1v6M784.4 170.3v11M784.4 672.1v11M881.7 170.3v6.3M881.7 672.1v6M979 672.1v11" fill="none" stroke="#000" stroke-width="2.2"/>
<path d="M979 169.2V673.2M979 672.1h10.4M979 647h5.8M979 621.9h10.4M979 596.8h5.8M979 571.7h10.4M979 546.6h5.8M979 521.6h10.4M979 496.5h5.8M979 471.4h10.4M979 446.3h5.8M979 421.2h10.4M979 396.1h5.8M979 371h10.4M979 345.9h5.8M979 320.8h10.4M979 295.8h5.8M979 270.7h10.4M979 245.6h5.8M979 220.5h10.4M979 195.4h5.8M979 170.3h10.4" fill="none" stroke="#FF8000" stroke-width="2.2"/>
<g font-size="25.8" text-anchor="end">
<text x="280.5" y="638">10</text>
<text x="280.5" y="586.8">20</text>
<text x="280.5" y="535.6">30</text>
<text x="280.5" y="484.4">40</text>
<text x="280.5" y="433.2">50</text>
<text x="280.5" y="382">60</text>
<text x="280.5" y="330.8">70</text>
<text x="280.5" y="279.6">80</text>
<text x="280.5" y="228.4">90</text>
<text x="280.5" y="177.2">100</text>
</g>
<g font-size="25.8" fill="#FF8000">
<text x="996.6" y="679">3</text>
<text x="996.6" y="628.8">4</text>
<text x="996.6" y="578.6">5</text>
<text x="996.6" y="528.5">6</text>
<text x="996.6" y="478.3">7</text>
<text x="996.6" y="428.1">8</text>
<text x="996.6" y="377.9">9</text>
<text x="996.6" y="327.7">10</text>
<text x="996.6" y="277.6">11</text>
<text x="996.6" y="227.4">12</text>
<text x="996.6" y="177.2">13</text>
</g>
<g font-size="25.8" text-anchor="middle">
<text x="392.6" y="708.1">-1</text>
<text x="589.2" y="708.1">0</text>
<text x="783.9" y="708.1">1</text>
<text x="978.5" y="708.1">2</text>
</g>
</g>
<g id="panel2">
<text x="577" y="762.5" font-size="40.8" font-style="italic" text-anchor="middle">Halobacterium sp. NRC-1</text>
<g fill="none" stroke="#000" stroke-width="1.7">
<circle cx="478.3" cy="861.5" r="2.55"/><circle cx="538.6" cy="884.7" r="2.55"/><circle cx="531.6" cy="891.5" r="2.55"/><circle cx="547.8" cy="900.8" r="2.55"/><circle cx="553" cy="917" r="2.55"/><circle cx="508.4" cy="931.9" r="2.55"/><circle cx="545.7" cy="939.1" r="2.55"/><circle cx="565.1" cy="956.6" r="2.55"/><circle cx="570.9" cy="956.1" r="2.55"/><circle cx="572.6" cy="976.6" r="2.55"/><circle cx="526.5" cy="979.1" r="2.55"/><circle cx="530.5" cy="981.2" r="2.55"/><circle cx="547.8" cy="984.9" r="2.55"/><circle cx="522" cy="987.6" r="2.55"/><circle cx="540.5" cy="990.1" r="2.55"/><circle cx="518.6" cy="997.3" r="2.55"/><circle cx="564" cy="997.7" r="2.55"/><circle cx="553.8" cy="1017.1" r="2.55"/><circle cx="531" cy="1025.1" r="2.55"/><circle cx="532.9" cy="1028.9" r="2.55"/><circle cx="537.3" cy="1030.5" r="2.55"/><circle cx="505.6" cy="1031.6" r="2.55"/><circle cx="750.7" cy="843.8" r="2.55"/><circle cx="640.5" cy="872" r="2.55"/><circle cx="701.4" cy="875.6" r="2.55"/><circle cx="594.7" cy="899.9" r="2.55"/><circle cx="633.5" cy="901.6" r="2.55"/><circle cx="704.3" cy="902.8" r="2.55"/><circle cx="669.4" cy="908.3" r="2.55"/><circle cx="692" cy="910.5" r="2.55"/><circle cx="642.4" cy="915.4" r="2.55"/><circle cx="690.9" cy="922.7" r="2.55"/><circle cx="631.1" cy="924.3" r="2.55"/><circle cx="617.7" cy="925.7" r="2.55"/><circle cx="616.5" cy="932.4" r="2.55"/><circle cx="659.9" cy="929.9" r="2.55"/><circle cx="728.6" cy="943.2" r="2.55"/><circle cx="650.5" cy="952.9" r="2.55"/><circle cx="732.9" cy="977.9" r="2.55"/><circle cx="699.5" cy="980" r="2.55"/><circle cx="661.8" cy="986" r="2.55"/><circle cx="667" cy="988.9" r="2.55"/><circle cx="685.2" cy="986.8" r="2.55"/><circle cx="695.4" cy="987.6" r="2.55"/><circle cx="652.4" cy="990.9" r="2.55"/><circle cx="734.5" cy="997.8" r="2.55"/><circle cx="662.6" cy="1001.4" r="2.55"/><circle cx="674.7" cy="1004.1" r="2.55"/><circle cx="690.1" cy="1001.4" r="2.55"/><circle cx="697" cy="1005.1" r="2.55"/><circle cx="745.9" cy="1003.5" r="2.55"/><circle cx="647.2" cy="1008.7" r="2.55"/><circle cx="742.6" cy="1009.5" r="2.55"/><circle cx="696.5" cy="1020.3" r="2.55"/><circle cx="720" cy="1020" r="2.55"/><circle cx="605.2" cy="1022.4" r="2.55"/><circle cx="732.9" cy="1023.2" r="2.55"/><circle cx="729.7" cy="1025.1" r="2.55"/><circle cx="764.8" cy="1024" r="2.55"/><circle cx="650.2" cy="1030" r="2.55"/><circle cx="654.5" cy="1033.2" r="2.55"/><circle cx="647.2" cy="1036.6" r="2.55"/><circle cx="725.6" cy="1032.6" r="2.55"/><circle cx="731.3" cy="1032.9" r="2.55"/><circle cx="741.8" cy="1031.3" r="2.55"/><circle cx="744.2" cy="1035.3" r="2.55"/><circle cx="622.2" cy="1038.6" r="2.55"/><circle cx="624.6" cy="1043.9" r="2.55"/><circle cx="626.7" cy="1047.5" r="2.55"/><circle cx="701.1" cy="1039.7" r="2.55"/><circle cx="704.6" cy="1041.3" r="2.55"/><circle cx="724.8" cy="1042.3" r="2.55"/><circle cx="731.8" cy="1042.3" r="2.55"/><circle cx="741.8" cy="1045" r="2.55"/><circle cx="751.8" cy="1046.2" r="2.55"/><circle cx="760.7" cy="1049.1" r="2.55"/><circle cx="773.8" cy="1047.5" r="2.55"/><circle cx="670.7" cy="1048.8" r="2.55"/><circle cx="674.7" cy="1049.4" r="2.55"/><circle cx="674.7" cy="1054.2" r="2.55"/><circle cx="694.9" cy="1050.7" r="2.55"/><circle cx="700.1" cy="1056" r="2.55"/><circle cx="726.9" cy="1053.1" r="2.55"/><circle cx="761.2" cy="1054.2" r="2.55"/><circle cx="613.3" cy="1055.1" r="2.55"/><circle cx="727.3" cy="1058.8" r="2.55"/><circle cx="732.9" cy="1059.3" r="2.55"/><circle cx="719.2" cy="1060.1" r="2.55"/><circle cx="783.9" cy="1037.8" r="2.55"/><circle cx="525.2" cy="1065.3" r="2.55"/><circle cx="514.7" cy="1069.7" r="2.55"/><circle cx="554" cy="1067.3" r="2.55"/><circle cx="574.2" cy="1072.4" r="2.55"/><circle cx="474.7" cy="1102.7" r="2.55"/><circle cx="518.4" cy="1102.7" r="2.55"/><circle cx="554.8" cy="1101.5" r="2.55"/><circle cx="536" cy="1106.1" r="2.55"/><circle cx="572.1" cy="1106.6" r="2.55"/><circle cx="574.5" cy="1110.9" r="2.55"/><circle cx="576.9" cy="1113" r="2.55"/><circle cx="507.7" cy="1114.6" r="2.55"/><circle cx="522" cy="1116.6" r="2.55"/><circle cx="502.9" cy="1124.2" r="2.55"/><circle cx="574.5" cy="1126.3" r="2.55"/><circle cx="552.7" cy="1129.2" r="2.55"/><circle cx="488" cy="1131.1" r="2.55"/><circle cx="537.6" cy="1133.1" r="2.55"/><circle cx="463.8" cy="1139.5" r="2.55"/><circle cx="582.9" cy="1145.2" r="2.55"/><circle cx="565.1" cy="1156.5" r="2.55"/><circle cx="570" cy="1156.5" r="2.55"/><circle cx="563.5" cy="1160.2" r="2.55"/><circle cx="509.8" cy="1161.4" r="2.55"/><circle cx="501.3" cy="1165.1" r="2.55"/><circle cx="507.4" cy="1166.2" r="2.55"/><circle cx="573.7" cy="1164" r="2.55"/><circle cx="582.3" cy="1164.8" r="2.55"/><circle cx="583.1" cy="1170.7" r="2.55"/><circle cx="523.2" cy="1173.2" r="2.55"/><circle cx="527.9" cy="1172.4" r="2.55"/><circle cx="547.8" cy="1172.7" r="2.55"/><circle cx="564" cy="1174.8" r="2.55"/><circle cx="512.2" cy="1175.9" r="2.55"/><circle cx="543.8" cy="1179.6" r="2.55"/><circle cx="532.1" cy="1182.5" r="2.55"/><circle cx="537.3" cy="1189.3" r="2.55"/><circle cx="538.1" cy="1189.3" r="2.55"/><circle cx="556.7" cy="1194.7" r="2.55"/><circle cx="575.3" cy="1193.9" r="2.55"/><circle cx="496.1" cy="1199.4" r="2.55"/><circle cx="508.5" cy="1201" r="2.55"/><circle cx="521.1" cy="1199" r="2.55"/><circle cx="562.9" cy="1215.2" r="2.55"/><circle cx="575.3" cy="1215.5" r="2.55"/><circle cx="578.5" cy="1215.5" r="2.55"/><circle cx="515" cy="1217.3" r="2.55"/><circle cx="557.5" cy="1218.1" r="2.55"/><circle cx="562" cy="1221.2" r="2.55"/><circle cx="559.1" cy="1224.6" r="2.55"/><circle cx="567.7" cy="1224.4" r="2.55"/><circle cx="481" cy="1225.7" r="2.55"/><circle cx="498.5" cy="1238.3" r="2.55"/><circle cx="546.7" cy="1239" r="2.55"/><circle cx="525.2" cy="1242.4" r="2.55"/><circle cx="532.9" cy="1241.1" r="2.55"/><circle cx="555.6" cy="1242.7" r="2.55"/><circle cx="510.6" cy="1244.3" r="2.55"/><circle cx="540.1" cy="1254.8" r="2.55"/><circle cx="554.8" cy="1255.1" r="2.55"/><circle cx="576.4" cy="1258" r="2.55"/><circle cx="543.8" cy="1263.4" r="2.55"/><circle cx="548.9" cy="1269.7" r="2.55"/><circle cx="559.6" cy="1269.7" r="2.55"/><circle cx="532.1" cy="1275" r="2.55"/><circle cx="547.8" cy="1292.8" r="2.55"/><circle cx="590.7" cy="1066.8" r="2.55"/><circle cx="619.3" cy="1068.1" r="2.55"/><circle cx="717.6" cy="1064" r="2.55"/><circle cx="720.8" cy="1062.4" r="2.55"/><circle cx="728.1" cy="1062.4" r="2.55"/><circle cx="732.9" cy="1060.8" r="2.55"/><circle cx="750.7" cy="1062.9" r="2.55"/><circle cx="755.6" cy="1064" r="2.55"/><circle cx="748.3" cy="1073.7" r="2.55"/><circle cx="762" cy="1077" r="2.55"/><circle cx="710.6" cy="1080.2" r="2.55"/><circle cx="709.5" cy="1085.1" r="2.55"/><circle cx="673.9" cy="1087.5" r="2.55"/><circle cx="701.4" cy="1091.5" r="2.55"/><circle cx="705.4" cy="1091.5" r="2.55"/><circle cx="747.2" cy="1089.9" r="2.55"/><circle cx="612.2" cy="1093.5" r="2.55"/><circle cx="593.4" cy="1094" r="2.55"/><circle cx="590.2" cy="1095.9" r="2.55"/><circle cx="776.6" cy="1082.6" r="2.55"/><circle cx="681.7" cy="1098.5" r="2.55"/><circle cx="641.6" cy="1102.8" r="2.55"/><circle cx="673.1" cy="1105.3" r="2.55"/><circle cx="698.7" cy="1106.4" r="2.55"/><circle cx="717.9" cy="1103.3" r="2.55"/><circle cx="774.1" cy="1100.4" r="2.55"/><circle cx="765.3" cy="1102.8" r="2.55"/><circle cx="768.5" cy="1104.5" r="2.55"/><circle cx="753.1" cy="1106.1" r="2.55"/><circle cx="592.3" cy="1110.1" r="2.55"/><circle cx="622.2" cy="1111.7" r="2.55"/><circle cx="682.8" cy="1113" r="2.55"/><circle cx="687.7" cy="1114.5" r="2.55"/><circle cx="712.7" cy="1111.4" r="2.55"/><circle cx="735.4" cy="1111.4" r="2.55"/><circle cx="746.7" cy="1114.2" r="2.55"/><circle cx="744.2" cy="1117.4" r="2.55"/><circle cx="722.1" cy="1117.7" r="2.55"/><circle cx="610.9" cy="1118.2" r="2.55"/><circle cx="628.3" cy="1121.4" r="2.55"/><circle cx="676.7" cy="1119.3" r="2.55"/><circle cx="602.8" cy="1121.8" r="2.55"/><circle cx="695.3" cy="1121.8" r="2.55"/><circle cx="741" cy="1122.2" r="2.55"/><circle cx="738.6" cy="1123.9" r="2.55"/><circle cx="761.2" cy="1122.2" r="2.55"/><circle cx="768.5" cy="1122.2" r="2.55"/><circle cx="713.8" cy="1124.3" r="2.55"/><circle cx="672.3" cy="1124.7" r="2.55"/><circle cx="596" cy="1128.2" r="2.55"/><circle cx="762.8" cy="1127.9" r="2.55"/><circle cx="769.3" cy="1126.3" r="2.55"/><circle cx="766.1" cy="1129.5" r="2.55"/><circle cx="725.6" cy="1129.5" r="2.55"/><circle cx="743.1" cy="1129.8" r="2.55"/><circle cx="649.2" cy="1131.6" r="2.55"/><circle cx="657.3" cy="1133.9" r="2.55"/><circle cx="680.9" cy="1133.9" r="2.55"/><circle cx="710.3" cy="1134.4" r="2.55"/><circle cx="719.7" cy="1139.2" r="2.55"/><circle cx="742.3" cy="1139.2" r="2.55"/><circle cx="754.8" cy="1141.3" r="2.55"/><circle cx="642.9" cy="1144.1" r="2.55"/><circle cx="585" cy="1144.9" r="2.55"/><circle cx="700.1" cy="1149.7" r="2.55"/><circle cx="765.3" cy="1144.6" r="2.55"/><circle cx="745" cy="1148.9" r="2.55"/><circle cx="749.1" cy="1152.2" r="2.55"/><circle cx="723.2" cy="1152.6" r="2.55"/><circle cx="719.2" cy="1155.4" r="2.55"/><circle cx="724.8" cy="1158.1" r="2.55"/><circle cx="599.2" cy="1153" r="2.55"/><circle cx="599.5" cy="1154.6" r="2.55"/><circle cx="628.3" cy="1153.3" r="2.55"/><circle cx="775.8" cy="1153.8" r="2.55"/><circle cx="746.7" cy="1156.2" r="2.55"/><circle cx="753.9" cy="1156.5" r="2.55"/><circle cx="591.1" cy="1158.1" r="2.55"/><circle cx="641.6" cy="1160.7" r="2.55"/><circle cx="665.8" cy="1163" r="2.55"/><circle cx="693" cy="1162.3" r="2.55"/><circle cx="711.9" cy="1165.1" r="2.55"/><circle cx="718.9" cy="1164.3" r="2.55"/><circle cx="737" cy="1165.1" r="2.55"/><circle cx="744.2" cy="1166.7" r="2.55"/><circle cx="725.3" cy="1167.5" r="2.55"/><circle cx="768.8" cy="1161.8" r="2.55"/><circle cx="676.7" cy="1167.5" r="2.55"/><circle cx="683.6" cy="1170.4" r="2.55"/><circle cx="718.4" cy="1169.9" r="2.55"/><circle cx="713.5" cy="1168.3" r="2.55"/><circle cx="747.5" cy="1171.5" r="2.55"/><circle cx="682.8" cy="1174" r="2.55"/><circle cx="707.9" cy="1173.7" r="2.55"/><circle cx="760.9" cy="1173.2" r="2.55"/><circle cx="777.4" cy="1172.4" r="2.55"/><circle cx="749.1" cy="1176.4" r="2.55"/><circle cx="724.8" cy="1175.6" r="2.55"/><circle cx="733.7" cy="1178.8" r="2.55"/><circle cx="597.1" cy="1180.1" r="2.55"/><circle cx="620.9" cy="1180.9" r="2.55"/><circle cx="758.8" cy="1180.4" r="2.55"/><circle cx="765.3" cy="1179.6" r="2.55"/><circle cx="761.2" cy="1184.5" r="2.55"/><circle cx="762.8" cy="1186.9" r="2.55"/><circle cx="670.7" cy="1184.5" r="2.55"/><circle cx="726.5" cy="1186.9" r="2.55"/><circle cx="773.3" cy="1183.7" r="2.55"/><circle cx="770.9" cy="1185.3" r="2.55"/><circle cx="753.1" cy="1189.3" r="2.55"/><circle cx="746.7" cy="1191" r="2.55"/><circle cx="749.9" cy="1191.8" r="2.55"/><circle cx="698.2" cy="1189.8" r="2.55"/><circle cx="594.7" cy="1191" r="2.55"/><circle cx="621.4" cy="1195.3" r="2.55"/><circle cx="773.3" cy="1192.6" r="2.55"/><circle cx="753.1" cy="1200.7" r="2.55"/><circle cx="663.1" cy="1202.8" r="2.55"/><circle cx="672.8" cy="1203.6" r="2.55"/><circle cx="705.4" cy="1203.1" r="2.55"/><circle cx="619" cy="1204.7" r="2.55"/><circle cx="619.8" cy="1206.3" r="2.55"/><circle cx="607.6" cy="1206.3" r="2.55"/><circle cx="593.9" cy="1206.3" r="2.55"/><circle cx="750.7" cy="1205.5" r="2.55"/><circle cx="754.8" cy="1206.3" r="2.55"/><circle cx="772.5" cy="1206.3" r="2.55"/><circle cx="703" cy="1205.5" r="2.55"/><circle cx="697" cy="1207.9" r="2.55"/><circle cx="593.9" cy="1212" r="2.55"/><circle cx="614.4" cy="1212.8" r="2.55"/><circle cx="728.1" cy="1209.5" r="2.55"/><circle cx="727.3" cy="1212.8" r="2.55"/><circle cx="750.7" cy="1211.2" r="2.55"/><circle cx="749.1" cy="1217.6" r="2.55"/><circle cx="759.6" cy="1217.6" r="2.55"/><circle cx="662.6" cy="1222.5" r="2.55"/><circle cx="698.2" cy="1222.5" r="2.55"/><circle cx="727.3" cy="1223.3" r="2.55"/><circle cx="728.9" cy="1225.7" r="2.55"/><circle cx="755.6" cy="1222.5" r="2.55"/><circle cx="758.8" cy="1224.1" r="2.55"/><circle cx="587.4" cy="1225.7" r="2.55"/><circle cx="612.8" cy="1229.8" r="2.55"/><circle cx="633.2" cy="1229.8" r="2.55"/><circle cx="705.9" cy="1225.7" r="2.55"/><circle cx="712.7" cy="1226.5" r="2.55"/><circle cx="718.4" cy="1228.1" r="2.55"/><circle cx="705.4" cy="1230.6" r="2.55"/><circle cx="773.3" cy="1227.3" r="2.55"/><circle cx="660.2" cy="1234.1" r="2.55"/><circle cx="678" cy="1236.7" r="2.55"/><circle cx="686.5" cy="1233.8" r="2.55"/><circle cx="723.2" cy="1236.2" r="2.55"/><circle cx="740.2" cy="1235.4" r="2.55"/><circle cx="623.8" cy="1236.2" r="2.55"/><circle cx="732.9" cy="1238.6" r="2.55"/><circle cx="611.7" cy="1241.1" r="2.55"/><circle cx="612.5" cy="1242.7" r="2.55"/><circle cx="654.5" cy="1240.3" r="2.55"/><circle cx="654.5" cy="1245.1" r="2.55"/><circle cx="681.2" cy="1243.5" r="2.55"/><circle cx="690.9" cy="1243.5" r="2.55"/><circle cx="707.9" cy="1239.5" r="2.55"/><circle cx="738.6" cy="1242.7" r="2.55"/><circle cx="597.1" cy="1250" r="2.55"/><circle cx="719.2" cy="1247.5" r="2.55"/><circle cx="732.1" cy="1248.3" r="2.55"/><circle cx="746.7" cy="1248.3" r="2.55"/><circle cx="755.6" cy="1250" r="2.55"/><circle cx="760.4" cy="1247.5" r="2.55"/><circle cx="769.3" cy="1249.2" r="2.55"/><circle cx="690.9" cy="1254" r="2.55"/><circle cx="708.7" cy="1254" r="2.55"/><circle cx="712.7" cy="1256.4" r="2.55"/><circle cx="714.3" cy="1261.3" r="2.55"/><circle cx="726.5" cy="1259.7" r="2.55"/><circle cx="732.9" cy="1259.7" r="2.55"/><circle cx="733.7" cy="1256.4" r="2.55"/><circle cx="771.7" cy="1256.4" r="2.55"/><circle cx="770.1" cy="1261.3" r="2.55"/><circle cx="670.7" cy="1261.3" r="2.55"/><circle cx="688.5" cy="1266.4" r="2.55"/><circle cx="677.1" cy="1268.5" r="2.55"/><circle cx="734.5" cy="1266.9" r="2.55"/><circle cx="597.1" cy="1269.8" r="2.55"/><circle cx="629.5" cy="1269.4" r="2.55"/><circle cx="648" cy="1270.2" r="2.55"/><circle cx="756.4" cy="1268.5" r="2.55"/><circle cx="768.5" cy="1266.9" r="2.55"/><circle cx="731.3" cy="1271.8" r="2.55"/><circle cx="696.5" cy="1272.6" r="2.55"/><circle cx="703" cy="1275" r="2.55"/><circle cx="713.5" cy="1273.4" r="2.55"/><circle cx="719.2" cy="1274.2" r="2.55"/><circle cx="741.8" cy="1274.7" r="2.55"/><circle cx="627" cy="1277.9" r="2.55"/><circle cx="646.1" cy="1276.6" r="2.55"/><circle cx="645.6" cy="1280.7" r="2.55"/><circle cx="650.5" cy="1282.3" r="2.55"/><circle cx="700.6" cy="1279.5" r="2.55"/><circle cx="707.1" cy="1279.9" r="2.55"/><circle cx="710.3" cy="1280.4" r="2.55"/><circle cx="712.7" cy="1280.4" r="2.55"/><circle cx="720" cy="1279.5" r="2.55"/><circle cx="756.4" cy="1279.9" r="2.55"/><circle cx="768.5" cy="1282.3" r="2.55"/><circle cx="757.2" cy="1283.9" r="2.55"/><circle cx="763.6" cy="1283.1" r="2.55"/><circle cx="778.2" cy="1283.1" r="2.55"/><circle cx="591.1" cy="1282.8" r="2.55"/><circle cx="697.4" cy="1286" r="2.55"/><circle cx="746.7" cy="1285.5" r="2.55"/><circle cx="743.4" cy="1287.1" r="2.55"/><circle cx="614.4" cy="1289.6" r="2.55"/><circle cx="597.6" cy="1292.5" r="2.55"/><circle cx="684.4" cy="1289.6" r="2.55"/><circle cx="690.9" cy="1292.8" r="2.55"/><circle cx="688.5" cy="1295.2" r="2.55"/><circle cx="704.6" cy="1290.4" r="2.55"/><circle cx="702.2" cy="1293.9" r="2.55"/><circle cx="726.8" cy="1288.8" r="2.55"/><circle cx="734.9" cy="1288" r="2.55"/><circle cx="735.4" cy="1292" r="2.55"/><circle cx="732.1" cy="1293.6" r="2.55"/><circle cx="734.5" cy="1296.8" r="2.55"/><circle cx="741.8" cy="1296" r="2.55"/><circle cx="758" cy="1290.4" r="2.55"/><circle cx="762" cy="1287.1" r="2.55"/><circle cx="771.7" cy="1291.2" r="2.55"/><circle cx="645.6" cy="1295.2" r="2.55"/><circle cx="715.1" cy="1297.3" r="2.55"/><circle cx="755.6" cy="1298" r="2.55"/><circle cx="607.6" cy="1300.1" r="2.55"/><circle cx="707.9" cy="1300.4" r="2.55"/><circle cx="776.3" cy="1301.7" r="2.55"/><circle cx="759.4" cy="1197.3" r="2.55"/><circle cx="758.1" cy="1198.4" r="2.55"/><circle cx="744.7" cy="1203.7" r="2.55"/><circle cx="755.8" cy="1205.5" r="2.55"/><circle cx="745.9" cy="1190" r="2.55"/><circle cx="757.9" cy="1197.8" r="2.55"/><circle cx="780.9" cy="1067.6" r="2.55"/><circle cx="791.6" cy="1068.1" r="2.55"/><circle cx="779" cy="1106.1" r="2.55"/><circle cx="794" cy="1111.4" r="2.55"/><circle cx="780.6" cy="1119" r="2.55"/><circle cx="792.7" cy="1123" r="2.55"/><circle cx="784.7" cy="1142.5" r="2.55"/><circle cx="789.5" cy="1142.5" r="2.55"/><circle cx="802.8" cy="1144.1" r="2.55"/><circle cx="787.1" cy="1151.3" r="2.55"/><circle cx="782.2" cy="1155.4" r="2.55"/><circle cx="793.9" cy="1157.5" r="2.55"/><circle cx="798.4" cy="1155.4" r="2.55"/><circle cx="794" cy="1166.4" r="2.55"/><circle cx="831.5" cy="1165.1" r="2.55"/><circle cx="816.5" cy="1173.2" r="2.55"/><circle cx="806" cy="1178.5" r="2.55"/><circle cx="785.8" cy="1194.5" r="2.55"/><circle cx="780.3" cy="1206.3" r="2.55"/><circle cx="788.2" cy="1210.7" r="2.55"/><circle cx="815.9" cy="1212" r="2.55"/><circle cx="791.1" cy="1216.8" r="2.55"/><circle cx="790" cy="1219.2" r="2.55"/><circle cx="802.4" cy="1217.9" r="2.55"/><circle cx="806.5" cy="1221.2" r="2.55"/><circle cx="780.9" cy="1225.7" r="2.55"/><circle cx="797.1" cy="1239" r="2.55"/><circle cx="827.5" cy="1242.7" r="2.55"/><circle cx="852.1" cy="1242.7" r="2.55"/><circle cx="829.9" cy="1256.1" r="2.55"/><circle cx="789.5" cy="1256.4" r="2.55"/><circle cx="816.2" cy="1256.4" r="2.55"/><circle cx="818.6" cy="1261.8" r="2.55"/><circle cx="810" cy="1263.7" r="2.55"/><circle cx="811.3" cy="1266.9" r="2.55"/><circle cx="785.8" cy="1265.3" r="2.55"/><circle cx="828.3" cy="1267.7" r="2.55"/><circle cx="902.4" cy="1264.5" r="2.55"/><circle cx="792.7" cy="1270.2" r="2.55"/><circle cx="796" cy="1270.2" r="2.55"/><circle cx="811.7" cy="1272.6" r="2.55"/><circle cx="846.1" cy="1273.7" r="2.55"/><circle cx="891.8" cy="1274.7" r="2.55"/><circle cx="795.2" cy="1276.6" r="2.55"/><circle cx="787.9" cy="1278.2" r="2.55"/><circle cx="780.9" cy="1279.9" r="2.55"/><circle cx="789" cy="1282.3" r="2.55"/><circle cx="814.6" cy="1280.7" r="2.55"/><circle cx="860.6" cy="1279.9" r="2.55"/><circle cx="838.8" cy="1281.8" r="2.55"/><circle cx="841.2" cy="1285.5" r="2.55"/><circle cx="825.9" cy="1286" r="2.55"/><circle cx="831.5" cy="1288.4" r="2.55"/><circle cx="835.1" cy="1289.2" r="2.55"/><circle cx="836.4" cy="1292.3" r="2.55"/><circle cx="803.2" cy="1286.8" r="2.55"/><circle cx="813" cy="1289.9" r="2.55"/><circle cx="808.9" cy="1291.5" r="2.55"/><circle cx="783" cy="1289.2" r="2.55"/><circle cx="789" cy="1289.2" r="2.55"/><circle cx="879.6" cy="1287.5" r="2.55"/><circle cx="895.7" cy="1289.6" r="2.55"/><circle cx="926.4" cy="1289.9" r="2.55"/><circle cx="793.1" cy="1296.8" r="2.55"/><circle cx="796" cy="1300.4" r="2.55"/><circle cx="797.1" cy="1303" r="2.55"/><circle cx="783.5" cy="1301.4" r="2.55"/><circle cx="931" cy="1299.6" r="2.55"/>
</g>
<g fill="none" stroke="#FF8000" stroke-width="1.5">
<circle cx="554.8" cy="864.5" r="2.7"/><circle cx="480.9" cy="932.7" r="2.7"/><circle cx="535.7" cy="988.9" r="2.7"/><circle cx="540.1" cy="1002.4" r="2.7"/><circle cx="726.8" cy="834.1" r="2.7"/><circle cx="621.4" cy="846.7" r="2.7"/><circle cx="698.2" cy="853.1" r="2.7"/><circle cx="727.3" cy="855.9" r="2.7"/><circle cx="719.5" cy="860.4" r="2.7"/><circle cx="772" cy="858.8" r="2.7"/><circle cx="593.9" cy="861.5" r="2.7"/><circle cx="620.2" cy="865.3" r="2.7"/><circle cx="622.2" cy="870.4" r="2.7"/><circle cx="706.7" cy="869.3" r="2.7"/><circle cx="703" cy="871.2" r="2.7"/><circle cx="759.3" cy="875.6" r="2.7"/><circle cx="688.5" cy="882.9" r="2.7"/><circle cx="779" cy="884.5" r="2.7"/><circle cx="674.7" cy="889" r="2.7"/><circle cx="676.7" cy="894.2" r="2.7"/><circle cx="734.9" cy="906.8" r="2.7"/><circle cx="758" cy="909.7" r="2.7"/><circle cx="697.7" cy="912" r="2.7"/><circle cx="707.4" cy="914.9" r="2.7"/><circle cx="760.7" cy="920.9" r="2.7"/><circle cx="708.4" cy="924.1" r="2.7"/><circle cx="731" cy="928.3" r="2.7"/><circle cx="725.6" cy="932.7" r="2.7"/><circle cx="724" cy="934" r="2.7"/><circle cx="755.6" cy="932.7" r="2.7"/><circle cx="764" cy="934.3" r="2.7"/><circle cx="734.5" cy="936.7" r="2.7"/><circle cx="731.3" cy="938.3" r="2.7"/><circle cx="733.7" cy="940.8" r="2.7"/><circle cx="762.8" cy="938.8" r="2.7"/><circle cx="709.5" cy="937.2" r="2.7"/><circle cx="681.5" cy="938" r="2.7"/><circle cx="650" cy="942.4" r="2.7"/><circle cx="761.2" cy="945.1" r="2.7"/><circle cx="732.9" cy="946.4" r="2.7"/><circle cx="711.6" cy="948" r="2.7"/><circle cx="779" cy="944" r="2.7"/><circle cx="594.7" cy="950.1" r="2.7"/><circle cx="703.5" cy="950.9" r="2.7"/><circle cx="732.9" cy="951.8" r="2.7"/><circle cx="747.5" cy="950.8" r="2.7"/><circle cx="707.9" cy="955" r="2.7"/><circle cx="720" cy="954.5" r="2.7"/><circle cx="753.9" cy="955" r="2.7"/><circle cx="763.6" cy="957.4" r="2.7"/><circle cx="775.8" cy="957.4" r="2.7"/><circle cx="607.6" cy="960.2" r="2.7"/><circle cx="697.7" cy="960.2" r="2.7"/><circle cx="725.3" cy="960.5" r="2.7"/><circle cx="751.5" cy="959.7" r="2.7"/><circle cx="758.8" cy="962.6" r="2.7"/><circle cx="773.3" cy="961.8" r="2.7"/><circle cx="654.5" cy="966.1" r="2.7"/><circle cx="697.4" cy="968.2" r="2.7"/><circle cx="691.7" cy="969" r="2.7"/><circle cx="733.7" cy="968.2" r="2.7"/><circle cx="745.9" cy="966.9" r="2.7"/><circle cx="757.7" cy="968.2" r="2.7"/><circle cx="764.8" cy="968.2" r="2.7"/><circle cx="704.3" cy="971.2" r="2.7"/><circle cx="713.8" cy="971.2" r="2.7"/><circle cx="717.6" cy="969" r="2.7"/><circle cx="723.7" cy="971.5" r="2.7"/><circle cx="720" cy="973.9" r="2.7"/><circle cx="746.7" cy="973.9" r="2.7"/><circle cx="591.1" cy="975" r="2.7"/><circle cx="680.4" cy="976.3" r="2.7"/><circle cx="718.4" cy="977.9" r="2.7"/><circle cx="727.8" cy="976.3" r="2.7"/><circle cx="729.7" cy="977.9" r="2.7"/><circle cx="754.3" cy="978.3" r="2.7"/><circle cx="772.5" cy="976.3" r="2.7"/><circle cx="769.3" cy="979.6" r="2.7"/><circle cx="762.8" cy="981.2" r="2.7"/><circle cx="760.4" cy="982.8" r="2.7"/><circle cx="756.4" cy="983.6" r="2.7"/><circle cx="751.5" cy="984.9" r="2.7"/><circle cx="754.4" cy="985.7" r="2.7"/><circle cx="774.1" cy="985.2" r="2.7"/><circle cx="684.7" cy="986.8" r="2.7"/><circle cx="696.5" cy="986" r="2.7"/><circle cx="701.4" cy="988.8" r="2.7"/><circle cx="710.3" cy="988.9" r="2.7"/><circle cx="705" cy="992.5" r="2.7"/><circle cx="747.5" cy="991.7" r="2.7"/><circle cx="749.9" cy="993.3" r="2.7"/><circle cx="744.2" cy="994.9" r="2.7"/><circle cx="645.9" cy="997" r="2.7"/><circle cx="690.4" cy="998.5" r="2.7"/><circle cx="724.5" cy="1000.9" r="2.7"/><circle cx="744.2" cy="1000.6" r="2.7"/><circle cx="768.8" cy="1001.1" r="2.7"/><circle cx="624.6" cy="1002.2" r="2.7"/><circle cx="648" cy="1006.2" r="2.7"/><circle cx="718.9" cy="1007.9" r="2.7"/><circle cx="758.3" cy="1007.4" r="2.7"/><circle cx="731.3" cy="1009.5" r="2.7"/><circle cx="737" cy="1011.1" r="2.7"/><circle cx="620.6" cy="1010" r="2.7"/><circle cx="681.2" cy="1011.9" r="2.7"/><circle cx="769.3" cy="1011.6" r="2.7"/><circle cx="765.3" cy="1013.2" r="2.7"/><circle cx="743.9" cy="1015.9" r="2.7"/><circle cx="728.1" cy="1016.7" r="2.7"/><circle cx="650.5" cy="1017.5" r="2.7"/><circle cx="662.9" cy="1017.1" r="2.7"/><circle cx="672.8" cy="1022.1" r="2.7"/><circle cx="683.9" cy="1024.8" r="2.7"/><circle cx="722.1" cy="1025.6" r="2.7"/><circle cx="739.9" cy="1025.6" r="2.7"/><circle cx="767.7" cy="1029.4" r="2.7"/><circle cx="704.6" cy="1032.1" r="2.7"/><circle cx="710" cy="1031.6" r="2.7"/><circle cx="726.9" cy="1029.7" r="2.7"/><circle cx="747.5" cy="1031.3" r="2.7"/><circle cx="646.1" cy="1033.7" r="2.7"/><circle cx="678" cy="1035.3" r="2.7"/><circle cx="706.2" cy="1035.3" r="2.7"/><circle cx="748.3" cy="1037" r="2.7"/><circle cx="751.5" cy="1038.6" r="2.7"/><circle cx="769.3" cy="1038.6" r="2.7"/><circle cx="724.4" cy="1038.6" r="2.7"/><circle cx="695.4" cy="1043.9" r="2.7"/><circle cx="657.3" cy="1052.8" r="2.7"/><circle cx="718.1" cy="1052" r="2.7"/><circle cx="626.7" cy="1060.1" r="2.7"/><circle cx="790.3" cy="844.2" r="2.7"/><circle cx="809.4" cy="842.6" r="2.7"/><circle cx="784.2" cy="857.8" r="2.7"/><circle cx="926.1" cy="876.1" r="2.7"/><circle cx="931" cy="876.1" r="2.7"/><circle cx="781.9" cy="884.7" r="2.7"/><circle cx="803.2" cy="894.2" r="2.7"/><circle cx="794" cy="899.2" r="2.7"/><circle cx="788.2" cy="930.2" r="2.7"/><circle cx="815.7" cy="938.8" r="2.7"/><circle cx="802.1" cy="948" r="2.7"/><circle cx="829.9" cy="949.6" r="2.7"/><circle cx="793.9" cy="955" r="2.7"/><circle cx="792.4" cy="960.6" r="2.7"/><circle cx="785" cy="970.2" r="2.7"/><circle cx="814.2" cy="976.6" r="2.7"/><circle cx="797.1" cy="982.3" r="2.7"/><circle cx="781.4" cy="984.9" r="2.7"/><circle cx="831.2" cy="984.9" r="2.7"/><circle cx="794.4" cy="992.8" r="2.7"/><circle cx="895.7" cy="992.8" r="2.7"/><circle cx="846.6" cy="1007.9" r="2.7"/><circle cx="790.3" cy="1034.2" r="2.7"/><circle cx="811" cy="1051" r="2.7"/><circle cx="831.2" cy="1056.8" r="2.7"/><circle cx="547.8" cy="1075" r="2.7"/><circle cx="574" cy="1093.1" r="2.7"/><circle cx="576.4" cy="1121.1" r="2.7"/><circle cx="544.3" cy="1126.3" r="2.7"/><circle cx="557.5" cy="1134.4" r="2.7"/><circle cx="564" cy="1133.9" r="2.7"/><circle cx="508.2" cy="1169.9" r="2.7"/><circle cx="548.6" cy="1171.2" r="2.7"/><circle cx="524.9" cy="1179.1" r="2.7"/><circle cx="554.8" cy="1191" r="2.7"/><circle cx="546.5" cy="1204.7" r="2.7"/><circle cx="463.8" cy="1217.3" r="2.7"/><circle cx="537.8" cy="1220" r="2.7"/><circle cx="559.1" cy="1221.2" r="2.7"/><circle cx="573.7" cy="1221.7" r="2.7"/><circle cx="582.3" cy="1225.2" r="2.7"/><circle cx="537.3" cy="1225.7" r="2.7"/><circle cx="555.1" cy="1226.5" r="2.7"/><circle cx="532.1" cy="1229.8" r="2.7"/><circle cx="540.5" cy="1230.6" r="2.7"/><circle cx="509" cy="1233.8" r="2.7"/><circle cx="509.8" cy="1236.2" r="2.7"/><circle cx="537.8" cy="1237" r="2.7"/><circle cx="498.5" cy="1238.3" r="2.7"/><circle cx="501.4" cy="1242.7" r="2.7"/><circle cx="518.7" cy="1241.1" r="2.7"/><circle cx="564" cy="1241.1" r="2.7"/><circle cx="576.9" cy="1242.4" r="2.7"/><circle cx="506.6" cy="1244" r="2.7"/><circle cx="514.7" cy="1246.7" r="2.7"/><circle cx="522" cy="1247.5" r="2.7"/><circle cx="533.3" cy="1244.8" r="2.7"/><circle cx="543.8" cy="1248" r="2.7"/><circle cx="562.4" cy="1246.7" r="2.7"/><circle cx="575.3" cy="1245.1" r="2.7"/><circle cx="572.9" cy="1248.3" r="2.7"/><circle cx="577.7" cy="1249.2" r="2.7"/><circle cx="474.6" cy="1248.3" r="2.7"/><circle cx="488" cy="1248.7" r="2.7"/><circle cx="527.9" cy="1251.6" r="2.7"/><circle cx="570.5" cy="1250.8" r="2.7"/><circle cx="574.5" cy="1253.2" r="2.7"/><circle cx="583.4" cy="1251.6" r="2.7"/><circle cx="545.9" cy="1255.6" r="2.7"/><circle cx="552.7" cy="1254" r="2.7"/><circle cx="525.2" cy="1257.2" r="2.7"/><circle cx="530.8" cy="1258.8" r="2.7"/><circle cx="562.9" cy="1258" r="2.7"/><circle cx="496.1" cy="1261.6" r="2.7"/><circle cx="507.7" cy="1261.3" r="2.7"/><circle cx="517.9" cy="1262.1" r="2.7"/><circle cx="522" cy="1262.9" r="2.7"/><circle cx="548.6" cy="1262.1" r="2.7"/><circle cx="556.7" cy="1262.1" r="2.7"/><circle cx="560.8" cy="1262.9" r="2.7"/><circle cx="564.8" cy="1263.4" r="2.7"/><circle cx="569.6" cy="1265.3" r="2.7"/><circle cx="574.5" cy="1266.1" r="2.7"/><circle cx="573.7" cy="1268.5" r="2.7"/><circle cx="582.6" cy="1265.3" r="2.7"/><circle cx="531.6" cy="1266.9" r="2.7"/><circle cx="554" cy="1266.1" r="2.7"/><circle cx="552.7" cy="1271" r="2.7"/><circle cx="502.6" cy="1269.4" r="2.7"/><circle cx="505.5" cy="1270.2" r="2.7"/><circle cx="512.2" cy="1270.2" r="2.7"/><circle cx="536.5" cy="1271.8" r="2.7"/><circle cx="538.9" cy="1274.7" r="2.7"/><circle cx="521.1" cy="1277.4" r="2.7"/><circle cx="526.5" cy="1280.7" r="2.7"/><circle cx="530.5" cy="1281" r="2.7"/><circle cx="515" cy="1283.1" r="2.7"/><circle cx="547" cy="1277.4" r="2.7"/><circle cx="552.7" cy="1277.4" r="2.7"/><circle cx="564.8" cy="1275.8" r="2.7"/><circle cx="568" cy="1279.9" r="2.7"/><circle cx="568.3" cy="1281.5" r="2.7"/><circle cx="547.5" cy="1284.7" r="2.7"/><circle cx="478.3" cy="1291.5" r="2.7"/><circle cx="626.5" cy="1062.4" r="2.7"/><circle cx="660.5" cy="1070.5" r="2.7"/><circle cx="690.9" cy="1075.7" r="2.7"/><circle cx="729.7" cy="1072.1" r="2.7"/><circle cx="746.2" cy="1067.3" r="2.7"/><circle cx="741.5" cy="1076.2" r="2.7"/><circle cx="597.6" cy="1083.4" r="2.7"/><circle cx="608.9" cy="1085.1" r="2.7"/><circle cx="752.3" cy="1077.8" r="2.7"/><circle cx="753.1" cy="1080.2" r="2.7"/><circle cx="765.3" cy="1075.4" r="2.7"/><circle cx="766.1" cy="1084.2" r="2.7"/><circle cx="760.4" cy="1089.9" r="2.7"/><circle cx="767.7" cy="1093.1" r="2.7"/><circle cx="770.1" cy="1092.3" r="2.7"/><circle cx="745" cy="1093.1" r="2.7"/><circle cx="707.9" cy="1098" r="2.7"/><circle cx="739.4" cy="1102" r="2.7"/><circle cx="755.6" cy="1098.8" r="2.7"/><circle cx="612" cy="1107.7" r="2.7"/><circle cx="643.2" cy="1106.4" r="2.7"/><circle cx="669.4" cy="1109.3" r="2.7"/><circle cx="746.7" cy="1106.9" r="2.7"/><circle cx="718.4" cy="1112.5" r="2.7"/><circle cx="612.5" cy="1115" r="2.7"/><circle cx="662.6" cy="1120.3" r="2.7"/><circle cx="671.5" cy="1123" r="2.7"/><circle cx="753.9" cy="1119.8" r="2.7"/><circle cx="773.3" cy="1121.4" r="2.7"/><circle cx="723.2" cy="1123.9" r="2.7"/><circle cx="747.5" cy="1125.5" r="2.7"/><circle cx="762" cy="1125.5" r="2.7"/><circle cx="590.7" cy="1129.8" r="2.7"/><circle cx="646.4" cy="1128.7" r="2.7"/><circle cx="654.5" cy="1127.9" r="2.7"/><circle cx="665.8" cy="1134.7" r="2.7"/><circle cx="704.6" cy="1131.5" r="2.7"/><circle cx="712.7" cy="1133.9" r="2.7"/><circle cx="719.2" cy="1129.5" r="2.7"/><circle cx="728.6" cy="1134.4" r="2.7"/><circle cx="689" cy="1138.1" r="2.7"/><circle cx="757.2" cy="1134.4" r="2.7"/><circle cx="762" cy="1134.4" r="2.7"/><circle cx="768.5" cy="1135.5" r="2.7"/><circle cx="719.2" cy="1139.2" r="2.7"/><circle cx="742.6" cy="1142.5" r="2.7"/><circle cx="595" cy="1147.3" r="2.7"/><circle cx="647.2" cy="1148.4" r="2.7"/><circle cx="670.7" cy="1146.8" r="2.7"/><circle cx="690.1" cy="1155.4" r="2.7"/><circle cx="710" cy="1156.2" r="2.7"/><circle cx="753.9" cy="1156.2" r="2.7"/><circle cx="654.5" cy="1164.8" r="2.7"/><circle cx="700.1" cy="1162.3" r="2.7"/><circle cx="641.3" cy="1171.2" r="2.7"/><circle cx="694.9" cy="1170.4" r="2.7"/><circle cx="713.5" cy="1167.5" r="2.7"/><circle cx="741.8" cy="1175.6" r="2.7"/><circle cx="748.3" cy="1176.4" r="2.7"/><circle cx="772.5" cy="1174.8" r="2.7"/><circle cx="591.1" cy="1174" r="2.7"/><circle cx="597.1" cy="1182.9" r="2.7"/><circle cx="676.3" cy="1182.9" r="2.7"/><circle cx="701.4" cy="1179.6" r="2.7"/><circle cx="703.8" cy="1182.1" r="2.7"/><circle cx="714.8" cy="1177.7" r="2.7"/><circle cx="729.4" cy="1178.8" r="2.7"/><circle cx="738.6" cy="1180.4" r="2.7"/><circle cx="742.6" cy="1182.1" r="2.7"/><circle cx="744.2" cy="1185.3" r="2.7"/><circle cx="762" cy="1183.7" r="2.7"/><circle cx="726.5" cy="1190.1" r="2.7"/><circle cx="685.6" cy="1193.4" r="2.7"/><circle cx="743.9" cy="1198.2" r="2.7"/><circle cx="753.1" cy="1199" r="2.7"/><circle cx="613.8" cy="1205" r="2.7"/><circle cx="626.5" cy="1204.4" r="2.7"/><circle cx="697.4" cy="1202.8" r="2.7"/><circle cx="702.2" cy="1204.7" r="2.7"/><circle cx="726.5" cy="1203.1" r="2.7"/><circle cx="735.4" cy="1207.9" r="2.7"/><circle cx="777.4" cy="1202.3" r="2.7"/><circle cx="751.5" cy="1207.1" r="2.7"/><circle cx="674.4" cy="1213.6" r="2.7"/><circle cx="705.4" cy="1214.4" r="2.7"/><circle cx="734.5" cy="1212" r="2.7"/><circle cx="732.1" cy="1216.8" r="2.7"/><circle cx="750.7" cy="1212" r="2.7"/><circle cx="762" cy="1210.3" r="2.7"/><circle cx="719.2" cy="1216.8" r="2.7"/><circle cx="713.5" cy="1219.2" r="2.7"/><circle cx="625.4" cy="1220.9" r="2.7"/><circle cx="660.2" cy="1221.7" r="2.7"/><circle cx="732.9" cy="1220" r="2.7"/><circle cx="746.7" cy="1222.5" r="2.7"/><circle cx="768.5" cy="1220.9" r="2.7"/><circle cx="775.8" cy="1220" r="2.7"/><circle cx="779" cy="1221.7" r="2.7"/><circle cx="593.1" cy="1224.1" r="2.7"/><circle cx="596.3" cy="1224.9" r="2.7"/><circle cx="599.5" cy="1224.1" r="2.7"/><circle cx="627.8" cy="1224.9" r="2.7"/><circle cx="598.7" cy="1229.8" r="2.7"/><circle cx="649.7" cy="1227.3" r="2.7"/><circle cx="652.9" cy="1227.3" r="2.7"/><circle cx="732.9" cy="1227.3" r="2.7"/><circle cx="732.1" cy="1231.4" r="2.7"/><circle cx="754.8" cy="1227.3" r="2.7"/><circle cx="751.5" cy="1229.8" r="2.7"/><circle cx="746.7" cy="1231.4" r="2.7"/><circle cx="698.2" cy="1229.8" r="2.7"/><circle cx="691.7" cy="1230.6" r="2.7"/><circle cx="642.4" cy="1233" r="2.7"/><circle cx="645.6" cy="1235.4" r="2.7"/><circle cx="641.6" cy="1237.8" r="2.7"/><circle cx="599.5" cy="1233.8" r="2.7"/><circle cx="601.2" cy="1237" r="2.7"/><circle cx="613.3" cy="1233.8" r="2.7"/><circle cx="623.8" cy="1235.4" r="2.7"/><circle cx="628.6" cy="1240.3" r="2.7"/><circle cx="587.4" cy="1238.3" r="2.7"/><circle cx="605.2" cy="1238.6" r="2.7"/><circle cx="682.8" cy="1238.6" r="2.7"/><circle cx="690.9" cy="1235.4" r="2.7"/><circle cx="696.5" cy="1237.8" r="2.7"/><circle cx="705.4" cy="1237.8" r="2.7"/><circle cx="707.1" cy="1239.5" r="2.7"/><circle cx="712.7" cy="1234.6" r="2.7"/><circle cx="745" cy="1235.4" r="2.7"/><circle cx="748.3" cy="1237.8" r="2.7"/><circle cx="750.7" cy="1234.6" r="2.7"/><circle cx="767.7" cy="1234.6" r="2.7"/><circle cx="765.3" cy="1236.2" r="2.7"/><circle cx="762.8" cy="1238.6" r="2.7"/><circle cx="732.1" cy="1234.6" r="2.7"/><circle cx="604.4" cy="1242.7" r="2.7"/><circle cx="619.8" cy="1241.9" r="2.7"/><circle cx="623" cy="1242.7" r="2.7"/><circle cx="607.6" cy="1247.5" r="2.7"/><circle cx="614.1" cy="1249.2" r="2.7"/><circle cx="666.6" cy="1244.3" r="2.7"/><circle cx="673.1" cy="1245.1" r="2.7"/><circle cx="674.7" cy="1248.3" r="2.7"/><circle cx="661" cy="1250.8" r="2.7"/><circle cx="662.6" cy="1255.6" r="2.7"/><circle cx="691.7" cy="1247.5" r="2.7"/><circle cx="696.5" cy="1244.3" r="2.7"/><circle cx="700.6" cy="1245.9" r="2.7"/><circle cx="701.4" cy="1250.8" r="2.7"/><circle cx="711.9" cy="1247.5" r="2.7"/><circle cx="725.6" cy="1243.5" r="2.7"/><circle cx="724.8" cy="1245.9" r="2.7"/><circle cx="745" cy="1242.7" r="2.7"/><circle cx="748.3" cy="1244.3" r="2.7"/><circle cx="736.2" cy="1248.3" r="2.7"/><circle cx="761.2" cy="1245.9" r="2.7"/><circle cx="592.3" cy="1255.6" r="2.7"/><circle cx="631.1" cy="1254.8" r="2.7"/><circle cx="632.7" cy="1257.2" r="2.7"/><circle cx="649.2" cy="1255.6" r="2.7"/><circle cx="682.8" cy="1254" r="2.7"/><circle cx="590.7" cy="1262.1" r="2.7"/><circle cx="608.4" cy="1260.5" r="2.7"/><circle cx="610.9" cy="1258.8" r="2.7"/><circle cx="617.3" cy="1259.7" r="2.7"/><circle cx="616.5" cy="1262.9" r="2.7"/><circle cx="610.1" cy="1266.1" r="2.7"/><circle cx="629.5" cy="1259.7" r="2.7"/><circle cx="633.5" cy="1262.1" r="2.7"/><circle cx="640.5" cy="1261" r="2.7"/><circle cx="669.9" cy="1256.4" r="2.7"/><circle cx="673.1" cy="1256.4" r="2.7"/><circle cx="675.5" cy="1255.6" r="2.7"/><circle cx="686" cy="1258.8" r="2.7"/><circle cx="690.9" cy="1258" r="2.7"/><circle cx="692.5" cy="1256.4" r="2.7"/><circle cx="719.2" cy="1256.4" r="2.7"/><circle cx="741.8" cy="1256.4" r="2.7"/><circle cx="778.2" cy="1254" r="2.7"/><circle cx="595.5" cy="1268.5" r="2.7"/><circle cx="618.5" cy="1270.2" r="2.7"/><circle cx="677.1" cy="1270.2" r="2.7"/><circle cx="715.1" cy="1266.9" r="2.7"/><circle cx="728.9" cy="1268.5" r="2.7"/><circle cx="754.8" cy="1266.9" r="2.7"/><circle cx="762.8" cy="1271.8" r="2.7"/><circle cx="772.5" cy="1266.1" r="2.7"/><circle cx="776.6" cy="1268.5" r="2.7"/><circle cx="731.3" cy="1273.4" r="2.7"/><circle cx="614.4" cy="1283.9" r="2.7"/><circle cx="769.3" cy="1288.8" r="2.7"/><circle cx="746" cy="1238" r="2.7"/><circle cx="752" cy="1246.5" r="2.7"/><circle cx="753.2" cy="1242.2" r="2.7"/><circle cx="747.1" cy="1239.5" r="2.7"/><circle cx="743.1" cy="1251" r="2.7"/><circle cx="742.7" cy="1211.6" r="2.7"/><circle cx="743.4" cy="1225.5" r="2.7"/><circle cx="752.1" cy="1218.9" r="2.7"/><circle cx="734.1" cy="1226.6" r="2.7"/><circle cx="758.1" cy="1232.2" r="2.7"/><circle cx="734.1" cy="1230.7" r="2.7"/><circle cx="734" cy="1227" r="2.7"/><circle cx="723.1" cy="1230" r="2.7"/><circle cx="728" cy="1227.8" r="2.7"/><circle cx="747.7" cy="1219.1" r="2.7"/><circle cx="739.5" cy="1216.2" r="2.7"/><circle cx="756.3" cy="1238.4" r="2.7"/><circle cx="736.4" cy="1218" r="2.7"/><circle cx="744.2" cy="1214.3" r="2.7"/><circle cx="724.7" cy="1229.7" r="2.7"/><circle cx="781.4" cy="1075.4" r="2.7"/><circle cx="811.8" cy="1075" r="2.7"/><circle cx="826.7" cy="1075" r="2.7"/><circle cx="797.3" cy="1082.6" r="2.7"/><circle cx="785.8" cy="1088.8" r="2.7"/><circle cx="792.7" cy="1129.5" r="2.7"/><circle cx="825.6" cy="1129.5" r="2.7"/><circle cx="851.8" cy="1129.5" r="2.7"/><circle cx="786.8" cy="1134.7" r="2.7"/><circle cx="783" cy="1143.3" r="2.7"/><circle cx="860.6" cy="1144.4" r="2.7"/><circle cx="791.6" cy="1173.5" r="2.7"/><circle cx="806" cy="1180.1" r="2.7"/><circle cx="783.9" cy="1186.1" r="2.7"/><circle cx="902.4" cy="1194.2" r="2.7"/><circle cx="794" cy="1203.4" r="2.7"/><circle cx="780.3" cy="1209.5" r="2.7"/><circle cx="795.7" cy="1221.2" r="2.7"/><circle cx="786.8" cy="1224.1" r="2.7"/><circle cx="787.9" cy="1225.7" r="2.7"/><circle cx="815.9" cy="1227" r="2.7"/><circle cx="812.5" cy="1231.4" r="2.7"/><circle cx="834.5" cy="1233.8" r="2.7"/><circle cx="879.6" cy="1242.2" r="2.7"/><circle cx="806" cy="1244.3" r="2.7"/><circle cx="789.5" cy="1245.9" r="2.7"/><circle cx="791.6" cy="1247.5" r="2.7"/><circle cx="818.6" cy="1246.7" r="2.7"/><circle cx="827.5" cy="1245.6" r="2.7"/><circle cx="836.1" cy="1245.9" r="2.7"/><circle cx="845.6" cy="1245.9" r="2.7"/><circle cx="809.7" cy="1250" r="2.7"/><circle cx="796" cy="1254.8" r="2.7"/><circle cx="793.5" cy="1258" r="2.7"/><circle cx="798.4" cy="1259.7" r="2.7"/><circle cx="802.9" cy="1259.7" r="2.7"/><circle cx="780.9" cy="1258.8" r="2.7"/><circle cx="783" cy="1261.3" r="2.7"/><circle cx="816.5" cy="1254.8" r="2.7"/><circle cx="827.5" cy="1260.5" r="2.7"/><circle cx="841.2" cy="1263.4" r="2.7"/><circle cx="838.5" cy="1265" r="2.7"/><circle cx="779" cy="1270.2" r="2.7"/><circle cx="891.7" cy="1271.3" r="2.7"/><circle cx="800" cy="1283.9" r="2.7"/>
</g>
<path d="M292.8 1316.7V809.2M281.8 809.2H973.9M291.7 1311H975M292.8 1295.6h-6M292.8 1270h-11M292.8 1244.4h-6M292.8 1218.8h-11M292.8 1193.2h-6M292.8 1167.6h-11M292.8 1142h-6M292.8 1116.4h-11M292.8 1090.8h-6M292.8 1065.2h-11M292.8 1039.6h-6M292.8 1014h-11M292.8 988.4h-6M292.8 962.8h-11M292.8 937.2h-6M292.8 911.6h-11M292.8 886h-6M292.8 860.4h-11M292.8 834.8h-6M292.8 1311v6M390.1 809.2v11M390.1 1311v11M487.4 809.2v6.3M487.4 1311v6M584.7 809.2v11M584.7 1311v11M682 809.2v6.3M682 1311v6M779.3 809.2v11M779.3 1311v11M876.6 809.2v6.3M876.6 1311v6M973.9 1311v11" fill="none" stroke="#000" stroke-width="2.2"/>
<path d="M973.9 808.1V1312.1M973.9 1311h10.4M973.9 1285.9h5.8M973.9 1260.8h10.4M973.9 1235.7h5.8M973.9 1210.6h10.4M973.9 1185.5h5.8M973.9 1160.5h10.4M973.9 1135.4h5.8M973.9 1110.3h10.4M973.9 1085.2h5.8M973.9 1060.1h10.4M973.9 1035h5.8M973.9 1009.9h10.4M973.9 984.8h5.8M973.9 959.7h10.4M973.9 934.6h5.8M973.9 909.6h10.4M973.9 884.5h5.8M973.9 859.4h10.4M973.9 834.3h5.8M973.9 809.2h10.4" fill="none" stroke="#FF8000" stroke-width="2.2"/>
<g font-size="25.8" text-anchor="end">
<text x="275.5" y="1276.9">10</text>
<text x="275.5" y="1225.7">20</text>
<text x="275.5" y="1174.5">30</text>
<text x="275.5" y="1123.3">40</text>
<text x="275.5" y="1072.1">50</text>
<text x="275.5" y="1020.9">60</text>
<text x="275.5" y="969.7">70</text>
<text x="275.5" y="918.5">80</text>
<text x="275.5" y="867.3">90</text>
<text x="275.5" y="816.1">100</text>
</g>
<g font-size="25.8" fill="#FF8000">
<text x="991.5" y="1317.9">3</text>
<text x="991.5" y="1267.7">4</text>
<text x="991.5" y="1217.5">5</text>
<text x="991.5" y="1167.4">6</text>
<text x="991.5" y="1117.2">7</text>
<text x="991.5" y="1067">8</text>
<text x="991.5" y="1016.8">9</text>
<text x="991.5" y="966.6">10</text>
<text x="991.5" y="916.5">11</text>
<text x="991.5" y="866.3">12</text>
<text x="991.5" y="816.1">13</text>
</g>
<g font-size="25.8" text-anchor="middle">
<text x="387.6" y="1347">-1</text>
<text x="584.2" y="1347">0</text>
<text x="778.8" y="1347">1</text>
<text x="973.4" y="1347">2</text>
</g>
</g>
<g id="panel3">
<text x="614.5" y="1405" font-size="40.8" font-style="italic" text-anchor="middle">Saccharomyces cerevisiae</text>
<g fill="none" stroke="#000" stroke-width="1.7">
<circle cx="503.6" cy="1452.9" r="2.55"/><circle cx="579.9" cy="1452.9" r="2.55"/><circle cx="537.4" cy="1457.5" r="2.55"/><circle cx="563.2" cy="1462.8" r="2.55"/><circle cx="511.7" cy="1466" r="2.55"/><circle cx="475.1" cy="1467.7" r="2.55"/><circle cx="480.8" cy="1467.7" r="2.55"/><circle cx="521.7" cy="1467.7" r="2.55"/><circle cx="480.4" cy="1471.7" r="2.55"/><circle cx="488.9" cy="1474.1" r="2.55"/><circle cx="503.9" cy="1474.1" r="2.55"/><circle cx="583.4" cy="1472.5" r="2.55"/><circle cx="591.2" cy="1473.6" r="2.55"/><circle cx="507.1" cy="1484.6" r="2.55"/><circle cx="438.4" cy="1487.9" r="2.55"/><circle cx="495" cy="1491.7" r="2.55"/><circle cx="498.2" cy="1491.4" r="2.55"/><circle cx="480.9" cy="1495.1" r="2.55"/><circle cx="554" cy="1496.3" r="2.55"/><circle cx="580.2" cy="1498.7" r="2.55"/><circle cx="591.2" cy="1488.5" r="2.55"/><circle cx="500.2" cy="1502.4" r="2.55"/><circle cx="504.2" cy="1503.2" r="2.55"/><circle cx="513.3" cy="1504.8" r="2.55"/><circle cx="555.6" cy="1506.5" r="2.55"/><circle cx="543.8" cy="1508.4" r="2.55"/><circle cx="481.3" cy="1509.5" r="2.55"/><circle cx="562.4" cy="1512.8" r="2.55"/><circle cx="581.8" cy="1512.4" r="2.55"/><circle cx="589.6" cy="1506" r="2.55"/><circle cx="472.7" cy="1516" r="2.55"/><circle cx="548" cy="1516.5" r="2.55"/><circle cx="568.9" cy="1517.3" r="2.55"/><circle cx="581.8" cy="1518.1" r="2.55"/><circle cx="468.3" cy="1521.3" r="2.55"/><circle cx="534.9" cy="1524.1" r="2.55"/><circle cx="589.9" cy="1523.3" r="2.55"/><circle cx="488.5" cy="1529.1" r="2.55"/><circle cx="521.4" cy="1529.9" r="2.55"/><circle cx="531.4" cy="1529.1" r="2.55"/><circle cx="571" cy="1530.2" r="2.55"/><circle cx="562.1" cy="1534.6" r="2.55"/><circle cx="507.1" cy="1537.2" r="2.55"/><circle cx="444.9" cy="1541.5" r="2.55"/><circle cx="412.9" cy="1543.6" r="2.55"/><circle cx="480.9" cy="1551.2" r="2.55"/><circle cx="436" cy="1556.9" r="2.55"/><circle cx="438.9" cy="1558" r="2.55"/><circle cx="470.8" cy="1561.7" r="2.55"/><circle cx="507.9" cy="1562.5" r="2.55"/><circle cx="583.1" cy="1558.5" r="2.55"/><circle cx="537" cy="1564.7" r="2.55"/><circle cx="421.9" cy="1566.1" r="2.55"/><circle cx="558.5" cy="1567.4" r="2.55"/><circle cx="578.3" cy="1566.6" r="2.55"/><circle cx="579.1" cy="1569.8" r="2.55"/><circle cx="426.8" cy="1571.8" r="2.55"/><circle cx="472.9" cy="1571.8" r="2.55"/><circle cx="458.6" cy="1574.4" r="2.55"/><circle cx="490.5" cy="1576.3" r="2.55"/><circle cx="521.2" cy="1577.1" r="2.55"/><circle cx="541.4" cy="1576" r="2.55"/><circle cx="562.1" cy="1577.9" r="2.55"/><circle cx="530.1" cy="1581.1" r="2.55"/><circle cx="528.6" cy="1583.6" r="2.55"/><circle cx="588.8" cy="1580.3" r="2.55"/><circle cx="500.7" cy="1584.4" r="2.55"/><circle cx="554.8" cy="1588.4" r="2.55"/><circle cx="432.8" cy="1592.1" r="2.55"/><circle cx="537" cy="1591.7" r="2.55"/><circle cx="547.5" cy="1593.3" r="2.55"/><circle cx="506" cy="1594.9" r="2.55"/><circle cx="526.5" cy="1598.4" r="2.55"/><circle cx="569.4" cy="1598.1" r="2.55"/><circle cx="588" cy="1597.3" r="2.55"/><circle cx="461.1" cy="1603.5" r="2.55"/><circle cx="467" cy="1606.2" r="2.55"/><circle cx="514.4" cy="1602.2" r="2.55"/><circle cx="533" cy="1607.5" r="2.55"/><circle cx="554" cy="1603.8" r="2.55"/><circle cx="578.3" cy="1603" r="2.55"/><circle cx="583.1" cy="1608.6" r="2.55"/><circle cx="579.9" cy="1611" r="2.55"/><circle cx="523.3" cy="1613.5" r="2.55"/><circle cx="493.4" cy="1616.7" r="2.55"/><circle cx="471.2" cy="1617.5" r="2.55"/><circle cx="510.7" cy="1615.9" r="2.55"/><circle cx="518.4" cy="1617.5" r="2.55"/><circle cx="521.7" cy="1616.7" r="2.55"/><circle cx="553.2" cy="1615.9" r="2.55"/><circle cx="576.6" cy="1617.2" r="2.55"/><circle cx="583.9" cy="1616.7" r="2.55"/><circle cx="480" cy="1621.6" r="2.55"/><circle cx="463.8" cy="1624" r="2.55"/><circle cx="520.4" cy="1624" r="2.55"/><circle cx="536.5" cy="1622.4" r="2.55"/><circle cx="583.9" cy="1625.6" r="2.55"/><circle cx="480.4" cy="1628.8" r="2.55"/><circle cx="540.3" cy="1631.3" r="2.55"/><circle cx="544.3" cy="1630.5" r="2.55"/><circle cx="575.8" cy="1630.5" r="2.55"/><circle cx="525.7" cy="1635.3" r="2.55"/><circle cx="529.8" cy="1638.5" r="2.55"/><circle cx="513.6" cy="1640.2" r="2.55"/><circle cx="509.6" cy="1643.4" r="2.55"/><circle cx="468.3" cy="1643.1" r="2.55"/><circle cx="528.1" cy="1643.1" r="2.55"/><circle cx="536.2" cy="1644.2" r="2.55"/><circle cx="557.2" cy="1639.3" r="2.55"/><circle cx="576.6" cy="1640.2" r="2.55"/><circle cx="477.2" cy="1650.3" r="2.55"/><circle cx="480.9" cy="1652" r="2.55"/><circle cx="503.1" cy="1647.4" r="2.55"/><circle cx="508.7" cy="1650.7" r="2.55"/><circle cx="520.9" cy="1649" r="2.55"/><circle cx="551.6" cy="1649" r="2.55"/><circle cx="563.7" cy="1655.5" r="2.55"/><circle cx="514.4" cy="1658.7" r="2.55"/><circle cx="499" cy="1660" r="2.55"/><circle cx="572.6" cy="1650.7" r="2.55"/><circle cx="447" cy="1665.2" r="2.55"/><circle cx="457.8" cy="1662" r="2.55"/><circle cx="474" cy="1666.5" r="2.55"/><circle cx="481.7" cy="1668.4" r="2.55"/><circle cx="486.9" cy="1665.7" r="2.55"/><circle cx="493.1" cy="1671.4" r="2.55"/><circle cx="499.5" cy="1670.5" r="2.55"/><circle cx="504.4" cy="1671.7" r="2.55"/><circle cx="532.2" cy="1664.1" r="2.55"/><circle cx="535.4" cy="1664.1" r="2.55"/><circle cx="534.3" cy="1668.4" r="2.55"/><circle cx="529" cy="1668.4" r="2.55"/><circle cx="524.9" cy="1670.9" r="2.55"/><circle cx="541.1" cy="1667.6" r="2.55"/><circle cx="545.6" cy="1664.9" r="2.55"/><circle cx="548.4" cy="1670.1" r="2.55"/><circle cx="569.4" cy="1674.9" r="2.55"/><circle cx="574.2" cy="1675.7" r="2.55"/><circle cx="407.4" cy="1683" r="2.55"/><circle cx="434.1" cy="1678.5" r="2.55"/><circle cx="470.3" cy="1683.8" r="2.55"/><circle cx="458.6" cy="1685.9" r="2.55"/><circle cx="446.2" cy="1688.7" r="2.55"/><circle cx="447.3" cy="1690.8" r="2.55"/><circle cx="454.6" cy="1692.2" r="2.55"/><circle cx="468.6" cy="1689.5" r="2.55"/><circle cx="491" cy="1680.6" r="2.55"/><circle cx="488.2" cy="1683.5" r="2.55"/><circle cx="530.1" cy="1683.8" r="2.55"/><circle cx="516.8" cy="1685.1" r="2.55"/><circle cx="519.2" cy="1687.8" r="2.55"/><circle cx="550" cy="1680.6" r="2.55"/><circle cx="552.4" cy="1686.2" r="2.55"/><circle cx="495.5" cy="1695.9" r="2.55"/><circle cx="499" cy="1695.9" r="2.55"/><circle cx="516" cy="1695.1" r="2.55"/><circle cx="486.9" cy="1702.1" r="2.55"/><circle cx="499.9" cy="1702.1" r="2.55"/><circle cx="512.5" cy="1701.6" r="2.55"/><circle cx="522.5" cy="1701.3" r="2.55"/><circle cx="527.3" cy="1701.3" r="2.55"/><circle cx="549.2" cy="1695.1" r="2.55"/><circle cx="566.9" cy="1695.9" r="2.55"/><circle cx="569.4" cy="1699.2" r="2.55"/><circle cx="578.3" cy="1695.9" r="2.55"/><circle cx="566.5" cy="1672.2" r="2.55"/><circle cx="563.2" cy="1646.8" r="2.55"/><circle cx="566.6" cy="1684.9" r="2.55"/><circle cx="582.6" cy="1654.6" r="2.55"/><circle cx="561.3" cy="1675.8" r="2.55"/><circle cx="545.4" cy="1667.3" r="2.55"/><circle cx="578.6" cy="1677.5" r="2.55"/><circle cx="560.9" cy="1589.3" r="2.55"/><circle cx="548" cy="1664.7" r="2.55"/><circle cx="579.1" cy="1645.7" r="2.55"/><circle cx="577.9" cy="1620.5" r="2.55"/><circle cx="573.9" cy="1631.1" r="2.55"/><circle cx="553.5" cy="1681" r="2.55"/><circle cx="575.3" cy="1695.4" r="2.55"/><circle cx="566.3" cy="1697.6" r="2.55"/><circle cx="555" cy="1612.6" r="2.55"/><circle cx="581.7" cy="1649.6" r="2.55"/><circle cx="574.1" cy="1588.8" r="2.55"/><circle cx="584.6" cy="1654" r="2.55"/><circle cx="562.1" cy="1570.4" r="2.55"/><circle cx="588.1" cy="1647.8" r="2.55"/><circle cx="584.7" cy="1663.4" r="2.55"/><circle cx="537.1" cy="1649.9" r="2.55"/><circle cx="536.6" cy="1621.7" r="2.55"/><circle cx="572.8" cy="1610.9" r="2.55"/><circle cx="572.6" cy="1571.2" r="2.55"/><circle cx="568.9" cy="1628.5" r="2.55"/><circle cx="532.7" cy="1609.1" r="2.55"/><circle cx="538.1" cy="1604" r="2.55"/><circle cx="539.1" cy="1675.2" r="2.55"/><circle cx="555.2" cy="1602.5" r="2.55"/><circle cx="539.2" cy="1581.8" r="2.55"/><circle cx="566.6" cy="1609.9" r="2.55"/><circle cx="558.5" cy="1670.3" r="2.55"/><circle cx="538" cy="1660.2" r="2.55"/><circle cx="567.5" cy="1645.6" r="2.55"/><circle cx="553.4" cy="1586.8" r="2.55"/><circle cx="579" cy="1651.4" r="2.55"/><circle cx="556.6" cy="1636.3" r="2.55"/><circle cx="549.5" cy="1578.9" r="2.55"/><circle cx="615.9" cy="1452.9" r="2.55"/><circle cx="622.7" cy="1453.4" r="2.55"/><circle cx="627.9" cy="1462.6" r="2.55"/><circle cx="657" cy="1465.5" r="2.55"/><circle cx="598.5" cy="1471.7" r="2.55"/><circle cx="592.8" cy="1473.6" r="2.55"/><circle cx="653.4" cy="1477.2" r="2.55"/><circle cx="592.8" cy="1488.5" r="2.55"/><circle cx="625.5" cy="1493.8" r="2.55"/><circle cx="611.9" cy="1498.4" r="2.55"/><circle cx="609" cy="1506" r="2.55"/><circle cx="613.8" cy="1506" r="2.55"/><circle cx="594.9" cy="1512.8" r="2.55"/><circle cx="636.1" cy="1515.2" r="2.55"/><circle cx="633.2" cy="1514" r="2.55"/><circle cx="607.4" cy="1520.8" r="2.55"/><circle cx="642.4" cy="1522.5" r="2.55"/><circle cx="599" cy="1526.2" r="2.55"/><circle cx="627.9" cy="1524.6" r="2.55"/><circle cx="623.5" cy="1528.6" r="2.55"/><circle cx="605.7" cy="1536.7" r="2.55"/><circle cx="620.8" cy="1535.9" r="2.55"/><circle cx="621.9" cy="1543.2" r="2.55"/><circle cx="612.2" cy="1545.3" r="2.55"/><circle cx="600.4" cy="1543.2" r="2.55"/><circle cx="617.9" cy="1548" r="2.55"/><circle cx="655" cy="1545.3" r="2.55"/><circle cx="657.5" cy="1550.1" r="2.55"/><circle cx="667.2" cy="1552.8" r="2.55"/><circle cx="672.8" cy="1552" r="2.55"/><circle cx="676.1" cy="1549.6" r="2.55"/><circle cx="596" cy="1552" r="2.55"/><circle cx="602.5" cy="1558.8" r="2.55"/><circle cx="604.9" cy="1566.1" r="2.55"/><circle cx="608.2" cy="1566.1" r="2.55"/><circle cx="623.5" cy="1565" r="2.55"/><circle cx="593.6" cy="1566.1" r="2.55"/><circle cx="593.3" cy="1573.9" r="2.55"/><circle cx="639.4" cy="1574.2" r="2.55"/><circle cx="649.4" cy="1571.4" r="2.55"/><circle cx="617.1" cy="1586.5" r="2.55"/><circle cx="606.2" cy="1588.4" r="2.55"/><circle cx="634" cy="1585.2" r="2.55"/><circle cx="656.7" cy="1590" r="2.55"/><circle cx="630.8" cy="1591.7" r="2.55"/><circle cx="659.9" cy="1596.5" r="2.55"/><circle cx="636.5" cy="1595.7" r="2.55"/><circle cx="626.8" cy="1602.2" r="2.55"/><circle cx="630.8" cy="1603.8" r="2.55"/><circle cx="667.2" cy="1603.3" r="2.55"/><circle cx="685" cy="1601.3" r="2.55"/><circle cx="621.1" cy="1607.5" r="2.55"/><circle cx="642.1" cy="1607.8" r="2.55"/><circle cx="643.7" cy="1611.9" r="2.55"/><circle cx="648.6" cy="1610.2" r="2.55"/><circle cx="639.7" cy="1612.7" r="2.55"/><circle cx="640.5" cy="1616.7" r="2.55"/><circle cx="680.1" cy="1607.8" r="2.55"/><circle cx="687.4" cy="1615.9" r="2.55"/><circle cx="684.1" cy="1619.9" r="2.55"/><circle cx="701.9" cy="1618.8" r="2.55"/><circle cx="613" cy="1619.1" r="2.55"/><circle cx="617.9" cy="1624" r="2.55"/><circle cx="634.8" cy="1619.1" r="2.55"/><circle cx="650.2" cy="1624.8" r="2.55"/><circle cx="664.8" cy="1626.4" r="2.55"/><circle cx="661.5" cy="1628.8" r="2.55"/><circle cx="631.6" cy="1628.8" r="2.55"/><circle cx="623.5" cy="1632.9" r="2.55"/><circle cx="638.1" cy="1634.5" r="2.55"/><circle cx="643.7" cy="1635.3" r="2.55"/><circle cx="667.2" cy="1633.7" r="2.55"/><circle cx="669.6" cy="1636.9" r="2.55"/><circle cx="670.4" cy="1639.3" r="2.55"/><circle cx="609.8" cy="1638.5" r="2.55"/><circle cx="661.5" cy="1641.8" r="2.55"/><circle cx="688.2" cy="1646.6" r="2.55"/><circle cx="693.9" cy="1642.6" r="2.55"/><circle cx="708.4" cy="1643.4" r="2.55"/><circle cx="714.1" cy="1638.5" r="2.55"/><circle cx="614.6" cy="1649" r="2.55"/><circle cx="617.9" cy="1650.7" r="2.55"/><circle cx="632.4" cy="1653.1" r="2.55"/><circle cx="657.5" cy="1653.1" r="2.55"/><circle cx="684.1" cy="1647.4" r="2.55"/><circle cx="665.6" cy="1656.3" r="2.55"/><circle cx="701.9" cy="1655.5" r="2.55"/><circle cx="697.1" cy="1657.9" r="2.55"/><circle cx="724.6" cy="1652.3" r="2.55"/><circle cx="719.7" cy="1658.4" r="2.55"/><circle cx="716.5" cy="1661.2" r="2.55"/><circle cx="736.4" cy="1661.7" r="2.55"/><circle cx="626.8" cy="1664.7" r="2.55"/><circle cx="644.5" cy="1662.8" r="2.55"/><circle cx="647.8" cy="1661.2" r="2.55"/><circle cx="684.1" cy="1661.2" r="2.55"/><circle cx="689" cy="1661.2" r="2.55"/><circle cx="685.8" cy="1665.2" r="2.55"/><circle cx="616.2" cy="1675.7" r="2.55"/><circle cx="634.4" cy="1684.6" r="2.55"/><circle cx="685" cy="1683" r="2.55"/><circle cx="697.1" cy="1680.6" r="2.55"/><circle cx="667.2" cy="1688.7" r="2.55"/><circle cx="663.9" cy="1687.8" r="2.55"/><circle cx="676.1" cy="1691.9" r="2.55"/><circle cx="694.7" cy="1693.5" r="2.55"/><circle cx="731" cy="1697.5" r="2.55"/><circle cx="598.5" cy="1697.5" r="2.55"/><circle cx="651" cy="1701.6" r="2.55"/><circle cx="712.4" cy="1689.5" r="2.55"/><circle cx="718.1" cy="1698.3" r="2.55"/><circle cx="667.3" cy="1629" r="2.55"/><circle cx="622.7" cy="1603.5" r="2.55"/><circle cx="650.1" cy="1643.8" r="2.55"/><circle cx="649.8" cy="1603.4" r="2.55"/><circle cx="647.5" cy="1635.1" r="2.55"/><circle cx="663.2" cy="1629.3" r="2.55"/><circle cx="657.2" cy="1614.5" r="2.55"/><circle cx="660" cy="1608.6" r="2.55"/><circle cx="637.3" cy="1635.6" r="2.55"/><circle cx="653.3" cy="1616.7" r="2.55"/><circle cx="670.7" cy="1612.7" r="2.55"/><circle cx="629.9" cy="1609.6" r="2.55"/><circle cx="664.1" cy="1620.8" r="2.55"/><circle cx="646.7" cy="1605.4" r="2.55"/><circle cx="637" cy="1626.9" r="2.55"/><circle cx="635.3" cy="1606.8" r="2.55"/><circle cx="655.4" cy="1629.6" r="2.55"/><circle cx="611.8" cy="1611.1" r="2.55"/><circle cx="639.8" cy="1624.2" r="2.55"/><circle cx="633.2" cy="1635.3" r="2.55"/><circle cx="649.3" cy="1633" r="2.55"/><circle cx="652" cy="1618.8" r="2.55"/><circle cx="661.8" cy="1624.5" r="2.55"/><circle cx="619.1" cy="1607.3" r="2.55"/><circle cx="634.9" cy="1604.3" r="2.55"/><circle cx="686.4" cy="1648.7" r="2.55"/><circle cx="642.1" cy="1641.1" r="2.55"/><circle cx="665.4" cy="1646.8" r="2.55"/><circle cx="653.2" cy="1653.9" r="2.55"/><circle cx="668.9" cy="1634.5" r="2.55"/><circle cx="652.3" cy="1646.6" r="2.55"/><circle cx="660" cy="1650.5" r="2.55"/><circle cx="650.9" cy="1649.4" r="2.55"/><circle cx="661.8" cy="1651.5" r="2.55"/><circle cx="658.2" cy="1633.4" r="2.55"/><circle cx="673.3" cy="1646" r="2.55"/><circle cx="658.6" cy="1655.9" r="2.55"/><circle cx="664.6" cy="1654.3" r="2.55"/><circle cx="661.1" cy="1656.9" r="2.55"/><circle cx="683.6" cy="1641.2" r="2.55"/><circle cx="630.2" cy="1674.4" r="2.55"/><circle cx="646.7" cy="1699.4" r="2.55"/><circle cx="646.1" cy="1692.6" r="2.55"/><circle cx="604.5" cy="1675.2" r="2.55"/><circle cx="623.3" cy="1676.8" r="2.55"/><circle cx="665.9" cy="1675.1" r="2.55"/><circle cx="648.5" cy="1689.1" r="2.55"/><circle cx="660.3" cy="1698.8" r="2.55"/><circle cx="659.8" cy="1667.9" r="2.55"/><circle cx="596.7" cy="1667.5" r="2.55"/><circle cx="659.7" cy="1696.4" r="2.55"/><circle cx="659.7" cy="1672.4" r="2.55"/><circle cx="618.4" cy="1695.3" r="2.55"/><circle cx="640.6" cy="1669.2" r="2.55"/><circle cx="645.5" cy="1664.9" r="2.55"/><circle cx="675.6" cy="1679.2" r="2.55"/><circle cx="618.1" cy="1668.3" r="2.55"/><circle cx="660.6" cy="1667.5" r="2.55"/><circle cx="675.4" cy="1667.2" r="2.55"/><circle cx="601.4" cy="1682.8" r="2.55"/><circle cx="651" cy="1608.7" r="2.55"/><circle cx="660.8" cy="1612" r="2.55"/><circle cx="669.7" cy="1614.7" r="2.55"/><circle cx="648.1" cy="1603.2" r="2.55"/><circle cx="629.5" cy="1628.4" r="2.55"/><circle cx="629.3" cy="1610.8" r="2.55"/><circle cx="666.6" cy="1616.8" r="2.55"/><circle cx="631.7" cy="1610.4" r="2.55"/><circle cx="658.4" cy="1627.7" r="2.55"/><circle cx="658.2" cy="1625.8" r="2.55"/><circle cx="646.5" cy="1629.1" r="2.55"/><circle cx="657.1" cy="1614.7" r="2.55"/><circle cx="628.5" cy="1622.5" r="2.55"/><circle cx="661.3" cy="1607.3" r="2.55"/><circle cx="659.6" cy="1633.8" r="2.55"/><circle cx="660.7" cy="1617" r="2.55"/><circle cx="637.8" cy="1590.8" r="2.55"/><circle cx="684.7" cy="1646.5" r="2.55"/><circle cx="667.1" cy="1597.9" r="2.55"/><circle cx="614.1" cy="1606.5" r="2.55"/><circle cx="638.3" cy="1575.6" r="2.55"/><circle cx="616.1" cy="1602.3" r="2.55"/><circle cx="596.9" cy="1623.7" r="2.55"/><circle cx="667.3" cy="1654.5" r="2.55"/><circle cx="658.6" cy="1643.8" r="2.55"/><circle cx="681.9" cy="1662.4" r="2.55"/><circle cx="594.5" cy="1591.3" r="2.55"/><circle cx="673.4" cy="1590.2" r="2.55"/><circle cx="666.1" cy="1611.8" r="2.55"/><circle cx="661.5" cy="1678.3" r="2.55"/><circle cx="662.8" cy="1566.7" r="2.55"/><circle cx="649.3" cy="1683.9" r="2.55"/><circle cx="636.5" cy="1556.9" r="2.55"/><circle cx="619.4" cy="1574.8" r="2.55"/><circle cx="595.4" cy="1631.9" r="2.55"/><circle cx="605.2" cy="1592" r="2.55"/><circle cx="649.4" cy="1638.7" r="2.55"/><circle cx="686.4" cy="1624.8" r="2.55"/><circle cx="634.2" cy="1597.5" r="2.55"/><circle cx="600.1" cy="1591" r="2.55"/><circle cx="635.3" cy="1574.7" r="2.55"/><circle cx="608.5" cy="1664.3" r="2.55"/><circle cx="659" cy="1595.9" r="2.55"/><circle cx="608.4" cy="1599.3" r="2.55"/><circle cx="602.9" cy="1586.6" r="2.55"/><circle cx="627.5" cy="1561.3" r="2.55"/><circle cx="616.8" cy="1575.9" r="2.55"/><circle cx="670" cy="1625.1" r="2.55"/><circle cx="633.7" cy="1630.6" r="2.55"/><circle cx="601.6" cy="1635" r="2.55"/><circle cx="635.9" cy="1649.9" r="2.55"/><circle cx="632.8" cy="1634.9" r="2.55"/><circle cx="681.4" cy="1599.4" r="2.55"/><circle cx="649" cy="1661" r="2.55"/><circle cx="631.2" cy="1638.3" r="2.55"/><circle cx="453" cy="1727.4" r="2.55"/><circle cx="468.3" cy="1727.1" r="2.55"/><circle cx="472.4" cy="1723" r="2.55"/><circle cx="470.8" cy="1736" r="2.55"/><circle cx="475.6" cy="1731.9" r="2.55"/><circle cx="456.5" cy="1763.9" r="2.55"/><circle cx="459.1" cy="1763.9" r="2.55"/><circle cx="436.3" cy="1795.8" r="2.55"/><circle cx="438.9" cy="1799" r="2.55"/><circle cx="454.6" cy="1790.4" r="2.55"/><circle cx="468" cy="1787.2" r="2.55"/><circle cx="468.3" cy="1799" r="2.55"/><circle cx="478.3" cy="1793.7" r="2.55"/><circle cx="423.9" cy="1824.4" r="2.55"/><circle cx="468.3" cy="1817.6" r="2.55"/><circle cx="477.7" cy="1822.4" r="2.55"/><circle cx="454.6" cy="1830.8" r="2.55"/><circle cx="447" cy="1839.1" r="2.55"/><circle cx="459.1" cy="1850.7" r="2.55"/><circle cx="426.8" cy="1858.8" r="2.55"/><circle cx="424.7" cy="1862.9" r="2.55"/><circle cx="462.3" cy="1868" r="2.55"/><circle cx="472.7" cy="1875.8" r="2.55"/><circle cx="420.6" cy="1885.8" r="2.55"/><circle cx="433.6" cy="1883.6" r="2.55"/><circle cx="442.1" cy="1889" r="2.55"/><circle cx="460.7" cy="1884.7" r="2.55"/><circle cx="464.8" cy="1890.3" r="2.55"/><circle cx="471.2" cy="1885.5" r="2.55"/><circle cx="417.4" cy="1900" r="2.55"/><circle cx="483.7" cy="1886.3" r="2.55"/><circle cx="489" cy="1887.9" r="2.55"/><circle cx="491.8" cy="1875" r="2.55"/><circle cx="497.1" cy="1898.9" r="2.55"/><circle cx="504.4" cy="1898.7" r="2.55"/><circle cx="489" cy="1907" r="2.55"/><circle cx="477.2" cy="1922.2" r="2.55"/><circle cx="467.2" cy="1932.4" r="2.55"/><circle cx="518" cy="1930.4" r="2.55"/><circle cx="536.2" cy="1924.3" r="2.55"/><circle cx="537" cy="1927.5" r="2.55"/><circle cx="541.1" cy="1925.9" r="2.55"/><circle cx="544" cy="1919.4" r="2.55"/><circle cx="556.1" cy="1927.5" r="2.55"/><circle cx="580.4" cy="1909.4" r="2.55"/><circle cx="528.1" cy="1901.2" r="2.55"/><circle cx="524.1" cy="1896.8" r="2.55"/><circle cx="550.8" cy="1908.9" r="2.55"/><circle cx="554.8" cy="1905.7" r="2.55"/><circle cx="483.7" cy="1713" r="2.55"/><circle cx="478.8" cy="1705.2" r="2.55"/><circle cx="486.9" cy="1703.6" r="2.55"/><circle cx="499.9" cy="1703.6" r="2.55"/><circle cx="502.3" cy="1717.4" r="2.55"/><circle cx="509.6" cy="1719" r="2.55"/><circle cx="502.3" cy="1727.1" r="2.55"/><circle cx="508.7" cy="1727.9" r="2.55"/><circle cx="506.3" cy="1736" r="2.55"/><circle cx="512.8" cy="1732.7" r="2.55"/><circle cx="516.8" cy="1726.2" r="2.55"/><circle cx="528.6" cy="1727.4" r="2.55"/><circle cx="527.3" cy="1708.5" r="2.55"/><circle cx="525.7" cy="1703.6" r="2.55"/><circle cx="513.6" cy="1712.5" r="2.55"/><circle cx="545.9" cy="1712" r="2.55"/><circle cx="543.5" cy="1720.1" r="2.55"/><circle cx="551.6" cy="1718.2" r="2.55"/><circle cx="566.1" cy="1709.3" r="2.55"/><circle cx="565.3" cy="1719.8" r="2.55"/><circle cx="569.4" cy="1732.7" r="2.55"/><circle cx="571.8" cy="1732.7" r="2.55"/><circle cx="579.6" cy="1727.4" r="2.55"/><circle cx="538.6" cy="1735.1" r="2.55"/><circle cx="553.2" cy="1743.2" r="2.55"/><circle cx="558" cy="1736.8" r="2.55"/><circle cx="559.7" cy="1740.8" r="2.55"/><circle cx="478.8" cy="1753.7" r="2.55"/><circle cx="473.2" cy="1756.2" r="2.55"/><circle cx="503.1" cy="1751.3" r="2.55"/><circle cx="511.2" cy="1749.7" r="2.55"/><circle cx="530.6" cy="1754.1" r="2.55"/><circle cx="541.6" cy="1751.3" r="2.55"/><circle cx="546.7" cy="1757" r="2.55"/><circle cx="558" cy="1754.1" r="2.55"/><circle cx="545.9" cy="1762.6" r="2.55"/><circle cx="550" cy="1762.6" r="2.55"/><circle cx="571.8" cy="1753.7" r="2.55"/><circle cx="583.1" cy="1744" r="2.55"/><circle cx="586.3" cy="1750.5" r="2.55"/><circle cx="587.1" cy="1758.6" r="2.55"/><circle cx="532.2" cy="1761.8" r="2.55"/><circle cx="537" cy="1771.5" r="2.55"/><circle cx="499.9" cy="1762.6" r="2.55"/><circle cx="495" cy="1771.5" r="2.55"/><circle cx="485.3" cy="1779.6" r="2.55"/><circle cx="486.9" cy="1783.6" r="2.55"/><circle cx="507.9" cy="1782.8" r="2.55"/><circle cx="501.5" cy="1787.7" r="2.55"/><circle cx="527.3" cy="1782.5" r="2.55"/><circle cx="550" cy="1782.8" r="2.55"/><circle cx="551.6" cy="1788.5" r="2.55"/><circle cx="557.2" cy="1785.3" r="2.55"/><circle cx="567.8" cy="1779.6" r="2.55"/><circle cx="571.8" cy="1781.2" r="2.55"/><circle cx="575" cy="1782" r="2.55"/><circle cx="582.3" cy="1784.5" r="2.55"/><circle cx="583.9" cy="1776.4" r="2.55"/><circle cx="591.2" cy="1790.1" r="2.55"/><circle cx="494.2" cy="1799" r="2.55"/><circle cx="499" cy="1796.6" r="2.55"/><circle cx="518.4" cy="1795" r="2.55"/><circle cx="519.2" cy="1799" r="2.55"/><circle cx="533" cy="1797.4" r="2.55"/><circle cx="559.7" cy="1794.2" r="2.55"/><circle cx="562.9" cy="1794.2" r="2.55"/><circle cx="575.8" cy="1795.8" r="2.55"/><circle cx="524.1" cy="1807.9" r="2.55"/><circle cx="529.8" cy="1808.7" r="2.55"/><circle cx="549.2" cy="1808.7" r="2.55"/><circle cx="567.8" cy="1806.3" r="2.55"/><circle cx="585.5" cy="1804.7" r="2.55"/><circle cx="588.8" cy="1809.5" r="2.55"/><circle cx="591.2" cy="1811.9" r="2.55"/><circle cx="495" cy="1813.5" r="2.55"/><circle cx="503.9" cy="1814.4" r="2.55"/><circle cx="563.7" cy="1817.6" r="2.55"/><circle cx="490.1" cy="1821.6" r="2.55"/><circle cx="491.8" cy="1824.9" r="2.55"/><circle cx="491" cy="1828.1" r="2.55"/><circle cx="521.7" cy="1820.8" r="2.55"/><circle cx="530.6" cy="1819.2" r="2.55"/><circle cx="534.6" cy="1824.9" r="2.55"/><circle cx="547.5" cy="1823.2" r="2.55"/><circle cx="550.8" cy="1823.2" r="2.55"/><circle cx="570.2" cy="1821.6" r="2.55"/><circle cx="571.8" cy="1822.4" r="2.55"/><circle cx="570.2" cy="1825.7" r="2.55"/><circle cx="583.1" cy="1826.5" r="2.55"/><circle cx="491.8" cy="1833" r="2.55"/><circle cx="478" cy="1833.8" r="2.55"/><circle cx="496.6" cy="1839.4" r="2.55"/><circle cx="512.8" cy="1828.9" r="2.55"/><circle cx="549.2" cy="1831.3" r="2.55"/><circle cx="558.9" cy="1833" r="2.55"/><circle cx="562.1" cy="1837" r="2.55"/><circle cx="566.9" cy="1836.2" r="2.55"/><circle cx="569.4" cy="1833.8" r="2.55"/><circle cx="580.7" cy="1835.4" r="2.55"/><circle cx="574.2" cy="1841.8" r="2.55"/><circle cx="560.5" cy="1843.5" r="2.55"/><circle cx="508.7" cy="1842.7" r="2.55"/><circle cx="520.9" cy="1844.3" r="2.55"/><circle cx="489.3" cy="1849.1" r="2.55"/><circle cx="540.3" cy="1853.2" r="2.55"/><circle cx="559.7" cy="1854" r="2.55"/><circle cx="576.6" cy="1849.9" r="2.55"/><circle cx="585.5" cy="1858" r="2.55"/><circle cx="527.3" cy="1862" r="2.55"/><circle cx="534.6" cy="1861.2" r="2.55"/><circle cx="515.2" cy="1866.1" r="2.55"/><circle cx="505.5" cy="1870.1" r="2.55"/><circle cx="521.7" cy="1874.2" r="2.55"/><circle cx="563.7" cy="1870.9" r="2.55"/><circle cx="571" cy="1874.2" r="2.55"/><circle cx="581.5" cy="1875.8" r="2.55"/><circle cx="552.4" cy="1873.4" r="2.55"/><circle cx="553.2" cy="1881.5" r="2.55"/><circle cx="529" cy="1885.5" r="2.55"/><circle cx="516.8" cy="1887.1" r="2.55"/><circle cx="536.2" cy="1883.1" r="2.55"/><circle cx="538.6" cy="1889.5" r="2.55"/><circle cx="566.9" cy="1886.3" r="2.55"/><circle cx="575.8" cy="1884.7" r="2.55"/><circle cx="578.3" cy="1888.7" r="2.55"/><circle cx="581.5" cy="1887.9" r="2.55"/><circle cx="549.2" cy="1892" r="2.55"/><circle cx="548.4" cy="1895.2" r="2.55"/><circle cx="553.2" cy="1898.4" r="2.55"/><circle cx="566.1" cy="1898.4" r="2.55"/><circle cx="566.9" cy="1900.8" r="2.55"/><circle cx="570.2" cy="1892.8" r="2.55"/><circle cx="579.1" cy="1899.2" r="2.55"/><circle cx="586.3" cy="1898.4" r="2.55"/><circle cx="590.4" cy="1896" r="2.55"/><circle cx="522.5" cy="1892.8" r="2.55"/><circle cx="536" cy="1889.8" r="2.55"/><circle cx="566.2" cy="1905.7" r="2.55"/><circle cx="548.4" cy="1838" r="2.55"/><circle cx="563.4" cy="1830.1" r="2.55"/><circle cx="579.2" cy="1833.7" r="2.55"/><circle cx="567.1" cy="1889.8" r="2.55"/><circle cx="580.6" cy="1862.5" r="2.55"/><circle cx="548.2" cy="1843.3" r="2.55"/><circle cx="583.4" cy="1847.4" r="2.55"/><circle cx="538.7" cy="1850.4" r="2.55"/><circle cx="570.8" cy="1891.4" r="2.55"/><circle cx="546.1" cy="1878.9" r="2.55"/><circle cx="555.6" cy="1826.3" r="2.55"/><circle cx="562.3" cy="1902.1" r="2.55"/><circle cx="573.7" cy="1866.7" r="2.55"/><circle cx="553.8" cy="1889" r="2.55"/><circle cx="586.9" cy="1889.7" r="2.55"/><circle cx="543.4" cy="1842.9" r="2.55"/><circle cx="560.8" cy="1820.6" r="2.55"/><circle cx="543.7" cy="1855.8" r="2.55"/><circle cx="570.3" cy="1851" r="2.55"/><circle cx="568.7" cy="1820.3" r="2.55"/><circle cx="571.8" cy="1892.6" r="2.55"/><circle cx="546.4" cy="1900.6" r="2.55"/><circle cx="537.3" cy="1854.5" r="2.55"/><circle cx="586.3" cy="1860.4" r="2.55"/><circle cx="530.4" cy="1880.5" r="2.55"/><circle cx="584.1" cy="1844.9" r="2.55"/><circle cx="570.2" cy="1899.9" r="2.55"/><circle cx="537.9" cy="1860.5" r="2.55"/><circle cx="585.1" cy="1793.1" r="2.55"/><circle cx="569.4" cy="1799.2" r="2.55"/><circle cx="576.4" cy="1727.7" r="2.55"/><circle cx="577.1" cy="1786.5" r="2.55"/><circle cx="555.5" cy="1734.1" r="2.55"/><circle cx="550.4" cy="1786.9" r="2.55"/><circle cx="561.9" cy="1749.7" r="2.55"/><circle cx="537.4" cy="1800.1" r="2.55"/><circle cx="564.9" cy="1751.4" r="2.55"/><circle cx="538.1" cy="1779.6" r="2.55"/><circle cx="571.9" cy="1741.5" r="2.55"/><circle cx="553.2" cy="1797" r="2.55"/><circle cx="582" cy="1782" r="2.55"/><circle cx="590.3" cy="1768.5" r="2.55"/><circle cx="579.5" cy="1767.9" r="2.55"/><circle cx="553.5" cy="1783" r="2.55"/><circle cx="573.8" cy="1741.8" r="2.55"/><circle cx="562.7" cy="1808.7" r="2.55"/><circle cx="541.8" cy="1796.5" r="2.55"/><circle cx="588.5" cy="1779" r="2.55"/><circle cx="561.1" cy="1816.7" r="2.55"/><circle cx="527.6" cy="1798.7" r="2.55"/><circle cx="555.8" cy="1770.5" r="2.55"/><circle cx="562.6" cy="1792.3" r="2.55"/><circle cx="535.6" cy="1809.3" r="2.55"/><circle cx="522.1" cy="1831" r="2.55"/><circle cx="533.1" cy="1825.5" r="2.55"/><circle cx="509.8" cy="1828.2" r="2.55"/><circle cx="572.4" cy="1739" r="2.55"/><circle cx="506.6" cy="1771.5" r="2.55"/><circle cx="535.6" cy="1734.4" r="2.55"/><circle cx="540.1" cy="1842.5" r="2.55"/><circle cx="537.9" cy="1819.8" r="2.55"/><circle cx="520.6" cy="1777" r="2.55"/><circle cx="507.1" cy="1795.2" r="2.55"/><circle cx="584.1" cy="1781.2" r="2.55"/><circle cx="509.8" cy="1746.7" r="2.55"/><circle cx="532.9" cy="1730.2" r="2.55"/><circle cx="573.6" cy="1771.1" r="2.55"/><circle cx="520.9" cy="1761.5" r="2.55"/><circle cx="579" cy="1773" r="2.55"/><circle cx="517.4" cy="1767.3" r="2.55"/><circle cx="583.4" cy="1819.6" r="2.55"/><circle cx="518" cy="1843.1" r="2.55"/><circle cx="504.1" cy="1783.5" r="2.55"/><circle cx="556" cy="1848" r="2.55"/><circle cx="566.7" cy="1812.8" r="2.55"/><circle cx="577" cy="1785.4" r="2.55"/><circle cx="588.6" cy="1786.7" r="2.55"/><circle cx="558.4" cy="1796.8" r="2.55"/><circle cx="581.7" cy="1892.9" r="2.55"/><circle cx="556.6" cy="1891.5" r="2.55"/><circle cx="568" cy="1892.9" r="2.55"/><circle cx="584.2" cy="1894.5" r="2.55"/><circle cx="562.1" cy="1889.6" r="2.55"/><circle cx="572.6" cy="1900.3" r="2.55"/><circle cx="557.9" cy="1887.5" r="2.55"/><circle cx="563.6" cy="1887.5" r="2.55"/><circle cx="581.9" cy="1898.2" r="2.55"/><circle cx="582.2" cy="1897.5" r="2.55"/><circle cx="553.1" cy="1896.2" r="2.55"/><circle cx="582.8" cy="1901.5" r="2.55"/><circle cx="581.6" cy="1900.4" r="2.55"/><circle cx="556.2" cy="1892" r="2.55"/><circle cx="557.8" cy="1893.7" r="2.55"/><circle cx="574.5" cy="1891.6" r="2.55"/><circle cx="564.9" cy="1900.6" r="2.55"/><circle cx="558.9" cy="1894.9" r="2.55"/><circle cx="746.7" cy="1713" r="2.55"/><circle cx="710.8" cy="1727.9" r="2.55"/><circle cx="729.1" cy="1734.3" r="2.55"/><circle cx="762.6" cy="1733.5" r="2.55"/><circle cx="753.2" cy="1739.5" r="2.55"/><circle cx="699.5" cy="1736" r="2.55"/><circle cx="700.3" cy="1745.3" r="2.55"/><circle cx="677.2" cy="1748.1" r="2.55"/><circle cx="724.2" cy="1749.7" r="2.55"/><circle cx="733.5" cy="1751" r="2.55"/><circle cx="693.9" cy="1755.3" r="2.55"/><circle cx="697.6" cy="1759.4" r="2.55"/><circle cx="719.7" cy="1773.1" r="2.55"/><circle cx="718.1" cy="1781.2" r="2.55"/><circle cx="737.5" cy="1780.4" r="2.55"/><circle cx="766.9" cy="1784.5" r="2.55"/><circle cx="734.8" cy="1790.4" r="2.55"/><circle cx="685" cy="1791.4" r="2.55"/><circle cx="687.4" cy="1799" r="2.55"/><circle cx="714.1" cy="1799" r="2.55"/><circle cx="700.6" cy="1803.8" r="2.55"/><circle cx="697.1" cy="1807.9" r="2.55"/><circle cx="726.7" cy="1807.9" r="2.55"/><circle cx="706.8" cy="1816.5" r="2.55"/><circle cx="704.4" cy="1812.7" r="2.55"/><circle cx="721.8" cy="1821.3" r="2.55"/><circle cx="713.2" cy="1826.5" r="2.55"/><circle cx="686.9" cy="1824.4" r="2.55"/><circle cx="695.1" cy="1827.3" r="2.55"/><circle cx="673.6" cy="1828.1" r="2.55"/><circle cx="671.2" cy="1831.3" r="2.55"/><circle cx="746.7" cy="1837.3" r="2.55"/><circle cx="776.3" cy="1839.4" r="2.55"/><circle cx="771" cy="1847" r="2.55"/><circle cx="701.1" cy="1841.8" r="2.55"/><circle cx="674.5" cy="1845.1" r="2.55"/><circle cx="744.8" cy="1848.3" r="2.55"/><circle cx="749.3" cy="1853.6" r="2.55"/><circle cx="745.6" cy="1858" r="2.55"/><circle cx="701.1" cy="1854.8" r="2.55"/><circle cx="706" cy="1861.2" r="2.55"/><circle cx="693.9" cy="1858.8" r="2.55"/><circle cx="718.1" cy="1855.6" r="2.55"/><circle cx="676.6" cy="1862.9" r="2.55"/><circle cx="672" cy="1865.3" r="2.55"/><circle cx="753.2" cy="1866.9" r="2.55"/><circle cx="781.6" cy="1871.8" r="2.55"/><circle cx="760.9" cy="1873.4" r="2.55"/><circle cx="732.6" cy="1867.7" r="2.55"/><circle cx="720.8" cy="1872.2" r="2.55"/><circle cx="698.7" cy="1875.8" r="2.55"/><circle cx="703.5" cy="1876.6" r="2.55"/><circle cx="706" cy="1880.6" r="2.55"/><circle cx="702.7" cy="1880.6" r="2.55"/><circle cx="684.1" cy="1878.2" r="2.55"/><circle cx="680.9" cy="1877.4" r="2.55"/><circle cx="598.5" cy="1913.8" r="2.55"/><circle cx="599.3" cy="1918.6" r="2.55"/><circle cx="606.2" cy="1917.5" r="2.55"/><circle cx="613" cy="1912.2" r="2.55"/><circle cx="611.4" cy="1905.7" r="2.55"/><circle cx="630.8" cy="1907.3" r="2.55"/><circle cx="633.5" cy="1928.3" r="2.55"/><circle cx="667.2" cy="1910.5" r="2.55"/><circle cx="665.9" cy="1904.1" r="2.55"/><circle cx="667.7" cy="1930.3" r="2.55"/><circle cx="690.1" cy="1916.2" r="2.55"/><circle cx="689" cy="1921.5" r="2.55"/><circle cx="717.3" cy="1913.8" r="2.55"/><circle cx="730.5" cy="1913.8" r="2.55"/><circle cx="727" cy="1919.4" r="2.55"/><circle cx="738.3" cy="1919.4" r="2.55"/><circle cx="700.6" cy="1934" r="2.55"/><circle cx="729.7" cy="1933.2" r="2.55"/><circle cx="720.8" cy="1947.2" r="2.55"/><circle cx="786" cy="1937.2" r="2.55"/><circle cx="739.9" cy="1876.6" r="2.55"/><circle cx="745.6" cy="1881.5" r="2.55"/><circle cx="755.3" cy="1883.1" r="2.55"/><circle cx="760.9" cy="1881.5" r="2.55"/><circle cx="766.6" cy="1883.1" r="2.55"/><circle cx="769.8" cy="1882.3" r="2.55"/><circle cx="755.3" cy="1889.5" r="2.55"/><circle cx="765.8" cy="1889.5" r="2.55"/><circle cx="777.9" cy="1890.3" r="2.55"/><circle cx="744" cy="1893.6" r="2.55"/><circle cx="750.4" cy="1894.4" r="2.55"/><circle cx="779.5" cy="1895.2" r="2.55"/><circle cx="776.3" cy="1896.8" r="2.55"/><circle cx="736.7" cy="1904.1" r="2.55"/><circle cx="745.6" cy="1904.1" r="2.55"/><circle cx="749.6" cy="1904.1" r="2.55"/><circle cx="760.1" cy="1903.3" r="2.55"/><circle cx="770.6" cy="1903.8" r="2.55"/><circle cx="756.9" cy="1908.9" r="2.55"/><circle cx="759.3" cy="1908.1" r="2.55"/><circle cx="745.6" cy="1908.1" r="2.55"/><circle cx="779.5" cy="1906.5" r="2.55"/><circle cx="734.3" cy="1893.6" r="2.55"/><circle cx="730.2" cy="1889.5" r="2.55"/><circle cx="726.2" cy="1879.8" r="2.55"/><circle cx="729.4" cy="1881.5" r="2.55"/><circle cx="732.6" cy="1884.7" r="2.55"/><circle cx="724.6" cy="1877.4" r="2.55"/><circle cx="718.1" cy="1881.5" r="2.55"/><circle cx="714.9" cy="1887.9" r="2.55"/><circle cx="599.3" cy="1731.9" r="2.55"/><circle cx="617.9" cy="1736" r="2.55"/><circle cx="606.5" cy="1741.6" r="2.55"/><circle cx="606.5" cy="1750.5" r="2.55"/><circle cx="626.8" cy="1714.9" r="2.55"/><circle cx="620.3" cy="1764.2" r="2.55"/><circle cx="634.8" cy="1775.6" r="2.55"/><circle cx="640.5" cy="1777.2" r="2.55"/><circle cx="630.8" cy="1781.2" r="2.55"/><circle cx="598.5" cy="1803.8" r="2.55"/><circle cx="594.4" cy="1811.1" r="2.55"/><circle cx="622.7" cy="1805.5" r="2.55"/><circle cx="631.6" cy="1811.9" r="2.55"/><circle cx="612.2" cy="1813.5" r="2.55"/><circle cx="604.1" cy="1822.1" r="2.55"/><circle cx="609.8" cy="1822.4" r="2.55"/><circle cx="622.7" cy="1824.9" r="2.55"/><circle cx="642.1" cy="1821.6" r="2.55"/><circle cx="607.4" cy="1835.4" r="2.55"/><circle cx="624.3" cy="1836.2" r="2.55"/><circle cx="606.5" cy="1842.7" r="2.55"/><circle cx="602.5" cy="1848.3" r="2.55"/><circle cx="626.8" cy="1844.3" r="2.55"/><circle cx="633.2" cy="1849.1" r="2.55"/><circle cx="640.5" cy="1849.1" r="2.55"/><circle cx="647" cy="1849.1" r="2.55"/><circle cx="655.9" cy="1849.9" r="2.55"/><circle cx="661.5" cy="1849.1" r="2.55"/><circle cx="649.4" cy="1837" r="2.55"/><circle cx="657.5" cy="1837.8" r="2.55"/><circle cx="658.3" cy="1841.8" r="2.55"/><circle cx="648.6" cy="1858.8" r="2.55"/><circle cx="604.1" cy="1862" r="2.55"/><circle cx="596" cy="1865.3" r="2.55"/><circle cx="594.4" cy="1872.6" r="2.55"/><circle cx="618.7" cy="1878.2" r="2.55"/><circle cx="625.1" cy="1881.5" r="2.55"/><circle cx="602.5" cy="1884.7" r="2.55"/><circle cx="602.5" cy="1890.3" r="2.55"/><circle cx="635.6" cy="1880.6" r="2.55"/><circle cx="651.8" cy="1880.6" r="2.55"/><circle cx="755.1" cy="1887.1" r="2.55"/><circle cx="643.8" cy="1902.3" r="2.55"/><circle cx="725.6" cy="1905.6" r="2.55"/><circle cx="683.3" cy="1906.6" r="2.55"/><circle cx="771.1" cy="1892.9" r="2.55"/><circle cx="655.5" cy="1895.6" r="2.55"/><circle cx="666.6" cy="1897.5" r="2.55"/><circle cx="667.6" cy="1903.2" r="2.55"/><circle cx="639.7" cy="1889.6" r="2.55"/><circle cx="609.4" cy="1888.5" r="2.55"/><circle cx="771.2" cy="1890.2" r="2.55"/><circle cx="646.4" cy="1903.1" r="2.55"/><circle cx="606.2" cy="1900" r="2.55"/><circle cx="758" cy="1887.5" r="2.55"/><circle cx="597.6" cy="1898" r="2.55"/><circle cx="605" cy="1892.9" r="2.55"/><circle cx="689.7" cy="1902.7" r="2.55"/><circle cx="620.2" cy="1887.2" r="2.55"/><circle cx="772.2" cy="1895.9" r="2.55"/><circle cx="657" cy="1902.8" r="2.55"/><circle cx="616.2" cy="1895.3" r="2.55"/><circle cx="739.8" cy="1897.6" r="2.55"/><circle cx="722.6" cy="1904" r="2.55"/><circle cx="711.4" cy="1887.8" r="2.55"/><circle cx="656.9" cy="1886.1" r="2.55"/><circle cx="686.7" cy="1901.5" r="2.55"/><circle cx="716.9" cy="1884.3" r="2.55"/><circle cx="783" cy="1894.4" r="2.55"/><circle cx="642.9" cy="1889.2" r="2.55"/><circle cx="632.7" cy="1894.1" r="2.55"/><circle cx="761.5" cy="1894.1" r="2.55"/><circle cx="622.2" cy="1899.8" r="2.55"/><circle cx="733.9" cy="1888.9" r="2.55"/><circle cx="645.3" cy="1887.3" r="2.55"/><circle cx="752.2" cy="1892" r="2.55"/><circle cx="625" cy="1900.7" r="2.55"/><circle cx="693.6" cy="1892.8" r="2.55"/><circle cx="606.3" cy="1894.3" r="2.55"/><circle cx="738" cy="1901.4" r="2.55"/><circle cx="647.3" cy="1901" r="2.55"/><circle cx="620.6" cy="1886.7" r="2.55"/><circle cx="746.5" cy="1903.8" r="2.55"/><circle cx="725.8" cy="1884.3" r="2.55"/><circle cx="707" cy="1894.8" r="2.55"/><circle cx="606.4" cy="1897" r="2.55"/><circle cx="735.2" cy="1898.9" r="2.55"/><circle cx="681.7" cy="1902" r="2.55"/><circle cx="736.6" cy="1890.1" r="2.55"/><circle cx="742.1" cy="1893.6" r="2.55"/><circle cx="769.6" cy="1901.4" r="2.55"/><circle cx="717.8" cy="1904.1" r="2.55"/><circle cx="651.3" cy="1898.2" r="2.55"/><circle cx="690.4" cy="1892.2" r="2.55"/><circle cx="752.3" cy="1894.3" r="2.55"/><circle cx="733.1" cy="1896.5" r="2.55"/><circle cx="621.5" cy="1888.3" r="2.55"/><circle cx="695.1" cy="1888.1" r="2.55"/><circle cx="691.7" cy="1887.8" r="2.55"/><circle cx="681.8" cy="1885.8" r="2.55"/><circle cx="688.9" cy="1896.1" r="2.55"/><circle cx="693.9" cy="1893.6" r="2.55"/><circle cx="708.3" cy="1892.3" r="2.55"/><circle cx="649.5" cy="1891.1" r="2.55"/><circle cx="674.5" cy="1884.7" r="2.55"/><circle cx="750.6" cy="1899.8" r="2.55"/><circle cx="761.1" cy="1890.1" r="2.55"/><circle cx="771" cy="1889.5" r="2.55"/><circle cx="638" cy="1901.3" r="2.55"/><circle cx="679.5" cy="1905.8" r="2.55"/><circle cx="772.4" cy="1893.2" r="2.55"/><circle cx="756.9" cy="1892.7" r="2.55"/><circle cx="759.4" cy="1903.3" r="2.55"/><circle cx="692.5" cy="1888.1" r="2.55"/><circle cx="665.7" cy="1901" r="2.55"/><circle cx="650.7" cy="1887.6" r="2.55"/><circle cx="764.3" cy="1897.3" r="2.55"/><circle cx="609.3" cy="1890" r="2.55"/><circle cx="723.8" cy="1884.9" r="2.55"/><circle cx="710.4" cy="1883.8" r="2.55"/><circle cx="669.8" cy="1889.6" r="2.55"/><circle cx="681.6" cy="1901.8" r="2.55"/><circle cx="699.2" cy="1895.3" r="2.55"/><circle cx="620.6" cy="1891.5" r="2.55"/><circle cx="708.2" cy="1903.8" r="2.55"/><circle cx="731.1" cy="1898.3" r="2.55"/><circle cx="617.1" cy="1890.8" r="2.55"/><circle cx="634.9" cy="1898.6" r="2.55"/><circle cx="711.5" cy="1884.3" r="2.55"/><circle cx="731.4" cy="1891.5" r="2.55"/><circle cx="732.6" cy="1892.3" r="2.55"/><circle cx="650.2" cy="1901.3" r="2.55"/><circle cx="649.8" cy="1898.5" r="2.55"/><circle cx="652.1" cy="1892.3" r="2.55"/><circle cx="657.2" cy="1903.3" r="2.55"/><circle cx="630.6" cy="1889.2" r="2.55"/><circle cx="637.9" cy="1894.7" r="2.55"/><circle cx="691.1" cy="1896.2" r="2.55"/><circle cx="629.1" cy="1904.1" r="2.55"/><circle cx="640.4" cy="1884.5" r="2.55"/><circle cx="677.5" cy="1898.2" r="2.55"/><circle cx="684.8" cy="1892.1" r="2.55"/><circle cx="617.9" cy="1898.5" r="2.55"/><circle cx="650.5" cy="1894.8" r="2.55"/><circle cx="643" cy="1897.4" r="2.55"/><circle cx="634.9" cy="1887.8" r="2.55"/><circle cx="677.4" cy="1897.8" r="2.55"/><circle cx="616.9" cy="1895.6" r="2.55"/><circle cx="644.8" cy="1889.8" r="2.55"/><circle cx="675.7" cy="1896.8" r="2.55"/><circle cx="626.3" cy="1891.1" r="2.55"/><circle cx="614.7" cy="1890.7" r="2.55"/><circle cx="673.1" cy="1900.1" r="2.55"/><circle cx="629.3" cy="1893.9" r="2.55"/><circle cx="638.8" cy="1885.8" r="2.55"/><circle cx="615" cy="1891.3" r="2.55"/><circle cx="627.1" cy="1889.9" r="2.55"/><circle cx="670.7" cy="1886.4" r="2.55"/><circle cx="664.3" cy="1891.4" r="2.55"/><circle cx="678.6" cy="1900.7" r="2.55"/><circle cx="634.3" cy="1896.5" r="2.55"/><circle cx="605.4" cy="1833.4" r="2.55"/><circle cx="678.7" cy="1798.6" r="2.55"/><circle cx="614.8" cy="1835.4" r="2.55"/><circle cx="663.1" cy="1754.1" r="2.55"/><circle cx="652.8" cy="1872" r="2.55"/><circle cx="609.9" cy="1807.9" r="2.55"/><circle cx="649" cy="1790.7" r="2.55"/><circle cx="625.7" cy="1871.9" r="2.55"/><circle cx="653.9" cy="1809.1" r="2.55"/><circle cx="607.2" cy="1848.8" r="2.55"/><circle cx="651.2" cy="1869.4" r="2.55"/><circle cx="655" cy="1814.4" r="2.55"/><circle cx="644.9" cy="1811.8" r="2.55"/><circle cx="635" cy="1876.3" r="2.55"/><circle cx="671.5" cy="1746.2" r="2.55"/><circle cx="666.5" cy="1767.2" r="2.55"/><circle cx="600.5" cy="1808.8" r="2.55"/><circle cx="687.1" cy="1803.9" r="2.55"/><circle cx="594.2" cy="1792.9" r="2.55"/><circle cx="614" cy="1736.7" r="2.55"/><circle cx="659.8" cy="1778.3" r="2.55"/><circle cx="652.8" cy="1865" r="2.55"/><circle cx="671.2" cy="1804.2" r="2.55"/><circle cx="604.5" cy="1774" r="2.55"/><circle cx="642.9" cy="1844.4" r="2.55"/><circle cx="676.5" cy="1772.6" r="2.55"/><circle cx="640.5" cy="1837.5" r="2.55"/><circle cx="619.5" cy="1786" r="2.55"/><circle cx="633.5" cy="1761.9" r="2.55"/><circle cx="654.2" cy="1824.2" r="2.55"/><circle cx="636.8" cy="1814.2" r="2.55"/><circle cx="659.6" cy="1746.1" r="2.55"/><circle cx="610.1" cy="1753.1" r="2.55"/><circle cx="615.2" cy="1844" r="2.55"/><circle cx="656.8" cy="1833.4" r="2.55"/><circle cx="613.2" cy="1858.4" r="2.55"/><circle cx="682.6" cy="1769.2" r="2.55"/><circle cx="620.9" cy="1737.1" r="2.55"/><circle cx="630.3" cy="1787" r="2.55"/><circle cx="610.4" cy="1847.5" r="2.55"/><circle cx="672.1" cy="1805" r="2.55"/><circle cx="651.1" cy="1786.4" r="2.55"/><circle cx="606.2" cy="1854.8" r="2.55"/><circle cx="686.4" cy="1780" r="2.55"/><circle cx="601.1" cy="1782.5" r="2.55"/><circle cx="634.7" cy="1855.7" r="2.55"/><circle cx="609.3" cy="1825.8" r="2.55"/><circle cx="605" cy="1765.2" r="2.55"/><circle cx="654.1" cy="1867" r="2.55"/><circle cx="673.6" cy="1815.2" r="2.55"/><circle cx="623.2" cy="1792.1" r="2.55"/><circle cx="621" cy="1732.8" r="2.55"/><circle cx="616.2" cy="1865.5" r="2.55"/><circle cx="628.8" cy="1756" r="2.55"/><circle cx="595.9" cy="1770" r="2.55"/><circle cx="595.6" cy="1791.5" r="2.55"/><circle cx="633.4" cy="1860.1" r="2.55"/><circle cx="603.6" cy="1794.5" r="2.55"/><circle cx="663.2" cy="1769.1" r="2.55"/><circle cx="601.5" cy="1832.3" r="2.55"/><circle cx="646.8" cy="1720.6" r="2.55"/><circle cx="664.5" cy="1754.8" r="2.55"/><circle cx="662.8" cy="1756.6" r="2.55"/><circle cx="671.2" cy="1849.4" r="2.55"/><circle cx="645.4" cy="1758.4" r="2.55"/><circle cx="680.3" cy="1832.3" r="2.55"/><circle cx="656.9" cy="1740.8" r="2.55"/><circle cx="608.3" cy="1813.5" r="2.55"/><circle cx="642.5" cy="1832.5" r="2.55"/><circle cx="656.5" cy="1801.8" r="2.55"/><circle cx="606" cy="1785.3" r="2.55"/><circle cx="595.9" cy="1783.7" r="2.55"/><circle cx="602.5" cy="1785.6" r="2.55"/><circle cx="605.5" cy="1776.4" r="2.55"/><circle cx="594.6" cy="1776.3" r="2.55"/><circle cx="601.1" cy="1779.8" r="2.55"/><circle cx="603.7" cy="1772.5" r="2.55"/><circle cx="612.1" cy="1782.1" r="2.55"/><circle cx="597.4" cy="1783.4" r="2.55"/><circle cx="594.4" cy="1784.3" r="2.55"/><circle cx="605.4" cy="1790.1" r="2.55"/><circle cx="595.8" cy="1796.5" r="2.55"/><circle cx="592.1" cy="1783.4" r="2.55"/><circle cx="600.1" cy="1790.7" r="2.55"/><circle cx="605.6" cy="1796" r="2.55"/><circle cx="654.4" cy="1856.1" r="2.55"/><circle cx="638.7" cy="1844.8" r="2.55"/><circle cx="679.6" cy="1848.9" r="2.55"/><circle cx="637.9" cy="1855.5" r="2.55"/><circle cx="672.1" cy="1847.6" r="2.55"/><circle cx="613.8" cy="1836.6" r="2.55"/><circle cx="648.2" cy="1859.2" r="2.55"/><circle cx="646.3" cy="1859.7" r="2.55"/><circle cx="648.9" cy="1842.6" r="2.55"/><circle cx="658.4" cy="1840.9" r="2.55"/><circle cx="631.5" cy="1729.7" r="2.55"/><circle cx="642.6" cy="1725.6" r="2.55"/><circle cx="608.7" cy="1796.4" r="2.55"/><circle cx="613.3" cy="1768.1" r="2.55"/><circle cx="607.5" cy="1757.7" r="2.55"/><circle cx="645.8" cy="1734.3" r="2.55"/><circle cx="635.2" cy="1720.8" r="2.55"/><circle cx="652" cy="1780.2" r="2.55"/><circle cx="631.1" cy="1738.3" r="2.55"/><circle cx="626.4" cy="1747.9" r="2.55"/><circle cx="601.4" cy="1779.2" r="2.55"/><circle cx="620.6" cy="1779.4" r="2.55"/><circle cx="609.8" cy="1709.6" r="2.55"/><circle cx="597" cy="1795.5" r="2.55"/><circle cx="631.9" cy="1784.5" r="2.55"/><circle cx="624.3" cy="1793.2" r="2.55"/><circle cx="625.8" cy="1751.7" r="2.55"/><circle cx="634.9" cy="1749.4" r="2.55"/><circle cx="595.3" cy="1777.3" r="2.55"/><circle cx="594.7" cy="1759" r="2.55"/><circle cx="674.2" cy="1739" r="2.55"/><circle cx="644.9" cy="1779.2" r="2.55"/><circle cx="641.9" cy="1779.7" r="2.55"/><circle cx="659.7" cy="1746.7" r="2.55"/><circle cx="655.6" cy="1733.1" r="2.55"/><circle cx="604.4" cy="1714.7" r="2.55"/><circle cx="681.2" cy="1761" r="2.55"/><circle cx="638.9" cy="1815.1" r="2.55"/><circle cx="623.1" cy="1703.8" r="2.55"/><circle cx="599.6" cy="1737.7" r="2.55"/><circle cx="617.5" cy="1716.7" r="2.55"/><circle cx="649.5" cy="1807.3" r="2.55"/><circle cx="622.6" cy="1757.8" r="2.55"/><circle cx="642.1" cy="1747.2" r="2.55"/><circle cx="634.2" cy="1738.8" r="2.55"/><circle cx="596.8" cy="1798.6" r="2.55"/><circle cx="606.6" cy="1770.2" r="2.55"/><circle cx="669.8" cy="1730.3" r="2.55"/><circle cx="650.7" cy="1714.1" r="2.55"/><circle cx="621.4" cy="1766.7" r="2.55"/><circle cx="675.2" cy="1790.9" r="2.55"/><circle cx="633.5" cy="1786.3" r="2.55"/><circle cx="683.1" cy="1769.9" r="2.55"/><circle cx="662.4" cy="1721.5" r="2.55"/><circle cx="603" cy="1715.2" r="2.55"/><circle cx="641.6" cy="1776.8" r="2.55"/><circle cx="629.2" cy="1713.5" r="2.55"/><circle cx="630.4" cy="1728.4" r="2.55"/><circle cx="646.2" cy="1730.8" r="2.55"/><circle cx="629.9" cy="1775.2" r="2.55"/><circle cx="643.8" cy="1775.5" r="2.55"/><circle cx="630.4" cy="1746.4" r="2.55"/><circle cx="658.5" cy="1746.7" r="2.55"/><circle cx="637.5" cy="1798.3" r="2.55"/><circle cx="666.3" cy="1786" r="2.55"/><circle cx="608.5" cy="1725.9" r="2.55"/><circle cx="645" cy="1799.5" r="2.55"/><circle cx="593.1" cy="1735.5" r="2.55"/><circle cx="613.7" cy="1706.1" r="2.55"/><circle cx="652.6" cy="1757.4" r="2.55"/><circle cx="683" cy="1769.5" r="2.55"/><circle cx="674.9" cy="1747.6" r="2.55"/><circle cx="640.9" cy="1751.1" r="2.55"/><circle cx="617.4" cy="1800.8" r="2.55"/><circle cx="625.8" cy="1801.3" r="2.55"/><circle cx="625.2" cy="1770.1" r="2.55"/><circle cx="648.6" cy="1776.7" r="2.55"/><circle cx="605.8" cy="1725" r="2.55"/><circle cx="679.5" cy="1746.8" r="2.55"/><circle cx="650.9" cy="1725.7" r="2.55"/><circle cx="665.2" cy="1749.5" r="2.55"/><circle cx="614.6" cy="1729.5" r="2.55"/><circle cx="609.7" cy="1780.9" r="2.55"/><circle cx="636.1" cy="1705.8" r="2.55"/><circle cx="597.5" cy="1745.2" r="2.55"/><circle cx="634.4" cy="1734.8" r="2.55"/><circle cx="675.6" cy="1750.4" r="2.55"/><circle cx="630.6" cy="1736.3" r="2.55"/><circle cx="648.9" cy="1787.4" r="2.55"/><circle cx="631.1" cy="1727.5" r="2.55"/><circle cx="601.2" cy="1715.5" r="2.55"/><circle cx="596.1" cy="1736.9" r="2.55"/><circle cx="657.1" cy="1806.9" r="2.55"/><circle cx="603.8" cy="1789.5" r="2.55"/><circle cx="644.4" cy="1791.4" r="2.55"/><circle cx="638.6" cy="1744.5" r="2.55"/><circle cx="642.8" cy="1771.7" r="2.55"/><circle cx="597.9" cy="1715.9" r="2.55"/><circle cx="655.5" cy="1727.1" r="2.55"/><circle cx="661.3" cy="1775.1" r="2.55"/><circle cx="644.4" cy="1887" r="2.55"/><circle cx="657.4" cy="1884.8" r="2.55"/><circle cx="728.5" cy="1882.5" r="2.55"/><circle cx="679.1" cy="1894.8" r="2.55"/><circle cx="620.3" cy="1887.5" r="2.55"/><circle cx="700.7" cy="1871.7" r="2.55"/><circle cx="706.6" cy="1882.9" r="2.55"/><circle cx="706.9" cy="1883.6" r="2.55"/><circle cx="697.3" cy="1877.3" r="2.55"/><circle cx="728.8" cy="1877.5" r="2.55"/><circle cx="736.5" cy="1882.4" r="2.55"/><circle cx="701.5" cy="1893.9" r="2.55"/><circle cx="673" cy="1895.1" r="2.55"/><circle cx="662.7" cy="1867.6" r="2.55"/><circle cx="672.9" cy="1864.5" r="2.55"/><circle cx="724.5" cy="1887.1" r="2.55"/><circle cx="636.5" cy="1880.3" r="2.55"/><circle cx="643.5" cy="1890.2" r="2.55"/><circle cx="636.7" cy="1883.8" r="2.55"/><circle cx="695.3" cy="1877.4" r="2.55"/><circle cx="805.7" cy="1813.9" r="2.55"/><circle cx="792" cy="1841.5" r="2.55"/><circle cx="813.5" cy="1861.6" r="2.55"/><circle cx="800.1" cy="1875.8" r="2.55"/><circle cx="814.8" cy="1875.3" r="2.55"/><circle cx="826.1" cy="1879.3" r="2.55"/><circle cx="820" cy="1881.9" r="2.55"/><circle cx="817.5" cy="1885.2" r="2.55"/><circle cx="824.3" cy="1884.4" r="2.55"/><circle cx="849.4" cy="1885.8" r="2.55"/><circle cx="849.5" cy="1895.2" r="2.55"/><circle cx="786" cy="1884.2" r="2.55"/><circle cx="788.9" cy="1900.8" r="2.55"/><circle cx="792.5" cy="1902" r="2.55"/><circle cx="798.1" cy="1900.8" r="2.55"/><circle cx="803.5" cy="1899.2" r="2.55"/><circle cx="800.9" cy="1904.1" r="2.55"/><circle cx="805.1" cy="1904.1" r="2.55"/><circle cx="809.4" cy="1903.8" r="2.55"/><circle cx="813.8" cy="1899.6" r="2.55"/><circle cx="823.5" cy="1900.8" r="2.55"/><circle cx="829.3" cy="1902.5" r="2.55"/><circle cx="832.9" cy="1900.4" r="2.55"/><circle cx="789.6" cy="1908.9" r="2.55"/><circle cx="787.6" cy="1912.2" r="2.55"/><circle cx="873.3" cy="1923.5" r="2.55"/><circle cx="848.2" cy="1931.6" r="2.55"/><circle cx="832.9" cy="1933.2" r="2.55"/><circle cx="788.4" cy="1938.5" r="2.55"/><circle cx="792.5" cy="1940" r="2.55"/><circle cx="386.6" cy="1703.7" r="2.55"/><circle cx="341.1" cy="1719.9" r="2.55"/><circle cx="388.9" cy="1865.8" r="2.55"/>
</g>
<g fill="none" stroke="#FF8000" stroke-width="1.5">
<circle cx="588.8" cy="1494.3" r="2.7"/><circle cx="524.4" cy="1513.2" r="2.7"/><circle cx="565.3" cy="1524.1" r="2.7"/><circle cx="442.5" cy="1546.7" r="2.7"/><circle cx="552.7" cy="1547.5" r="2.7"/><circle cx="568.6" cy="1544.8" r="2.7"/><circle cx="569.4" cy="1548.5" r="2.7"/><circle cx="536.2" cy="1550.1" r="2.7"/><circle cx="433.2" cy="1551.6" r="2.7"/><circle cx="592" cy="1551.2" r="2.7"/><circle cx="460.7" cy="1557.7" r="2.7"/><circle cx="580.7" cy="1554.5" r="2.7"/><circle cx="576.6" cy="1557.7" r="2.7"/><circle cx="489.7" cy="1562.2" r="2.7"/><circle cx="520.4" cy="1562.5" r="2.7"/><circle cx="531.4" cy="1560.6" r="2.7"/><circle cx="529" cy="1563.4" r="2.7"/><circle cx="565.3" cy="1561.7" r="2.7"/><circle cx="569.4" cy="1561.7" r="2.7"/><circle cx="589.6" cy="1564.2" r="2.7"/><circle cx="468.6" cy="1570.6" r="2.7"/><circle cx="518.4" cy="1570.6" r="2.7"/><circle cx="516.3" cy="1572.2" r="2.7"/><circle cx="529.4" cy="1571.1" r="2.7"/><circle cx="564.5" cy="1570.1" r="2.7"/><circle cx="562.9" cy="1573.9" r="2.7"/><circle cx="484.5" cy="1573.9" r="2.7"/><circle cx="447.3" cy="1574.7" r="2.7"/><circle cx="491" cy="1580.3" r="2.7"/><circle cx="554.3" cy="1577.9" r="2.7"/><circle cx="550" cy="1581.1" r="2.7"/><circle cx="569.4" cy="1582.8" r="2.7"/><circle cx="476.1" cy="1582.4" r="2.7"/><circle cx="468.3" cy="1584.4" r="2.7"/><circle cx="508.4" cy="1582" r="2.7"/><circle cx="537" cy="1582" r="2.7"/><circle cx="521.7" cy="1587.6" r="2.7"/><circle cx="561.3" cy="1584.4" r="2.7"/><circle cx="549.2" cy="1585.2" r="2.7"/><circle cx="550" cy="1588.4" r="2.7"/><circle cx="573.4" cy="1585.2" r="2.7"/><circle cx="576.6" cy="1586.8" r="2.7"/><circle cx="578.3" cy="1584.4" r="2.7"/><circle cx="586.3" cy="1587.6" r="2.7"/><circle cx="438.4" cy="1589.2" r="2.7"/><circle cx="459.1" cy="1595.4" r="2.7"/><circle cx="533" cy="1594.1" r="2.7"/><circle cx="540.3" cy="1596.5" r="2.7"/><circle cx="561.3" cy="1592.5" r="2.7"/><circle cx="566.1" cy="1593.3" r="2.7"/><circle cx="591.2" cy="1592.5" r="2.7"/><circle cx="590.4" cy="1594.9" r="2.7"/><circle cx="489" cy="1597.8" r="2.7"/><circle cx="492.6" cy="1597.8" r="2.7"/><circle cx="417.4" cy="1603.5" r="2.7"/><circle cx="427.1" cy="1603" r="2.7"/><circle cx="434.4" cy="1602.2" r="2.7"/><circle cx="515.2" cy="1599.7" r="2.7"/><circle cx="511.7" cy="1603.8" r="2.7"/><circle cx="544.3" cy="1598.1" r="2.7"/><circle cx="547.5" cy="1600.5" r="2.7"/><circle cx="551.6" cy="1598.9" r="2.7"/><circle cx="548.4" cy="1603.8" r="2.7"/><circle cx="545.9" cy="1603" r="2.7"/><circle cx="562.1" cy="1601.3" r="2.7"/><circle cx="567.8" cy="1600.5" r="2.7"/><circle cx="573.4" cy="1604.6" r="2.7"/><circle cx="481.7" cy="1606.5" r="2.7"/><circle cx="471.6" cy="1607.8" r="2.7"/><circle cx="489.3" cy="1607.8" r="2.7"/><circle cx="498.2" cy="1607" r="2.7"/><circle cx="499.9" cy="1608.6" r="2.7"/><circle cx="518.4" cy="1607" r="2.7"/><circle cx="529.8" cy="1607" r="2.7"/><circle cx="509.6" cy="1608.6" r="2.7"/><circle cx="516" cy="1610.2" r="2.7"/><circle cx="478" cy="1611.9" r="2.7"/><circle cx="504.7" cy="1613.2" r="2.7"/><circle cx="469.6" cy="1615.1" r="2.7"/><circle cx="555.6" cy="1610.2" r="2.7"/><circle cx="561.3" cy="1613.5" r="2.7"/><circle cx="569.4" cy="1611.9" r="2.7"/><circle cx="583.9" cy="1611" r="2.7"/><circle cx="544.3" cy="1615.1" r="2.7"/><circle cx="591.2" cy="1606.2" r="2.7"/><circle cx="462.7" cy="1619.1" r="2.7"/><circle cx="458.6" cy="1621.6" r="2.7"/><circle cx="524.6" cy="1618.3" r="2.7"/><circle cx="480.4" cy="1625.6" r="2.7"/><circle cx="491" cy="1625.6" r="2.7"/><circle cx="503.9" cy="1625.6" r="2.7"/><circle cx="507.1" cy="1628.8" r="2.7"/><circle cx="531.4" cy="1624.8" r="2.7"/><circle cx="537" cy="1624.8" r="2.7"/><circle cx="547.5" cy="1620.8" r="2.7"/><circle cx="550" cy="1624.8" r="2.7"/><circle cx="551.6" cy="1627.2" r="2.7"/><circle cx="559.7" cy="1619.1" r="2.7"/><circle cx="565.3" cy="1626.4" r="2.7"/><circle cx="566.1" cy="1629.6" r="2.7"/><circle cx="579.9" cy="1626.4" r="2.7"/><circle cx="582.3" cy="1628.8" r="2.7"/><circle cx="446.5" cy="1627.2" r="2.7"/><circle cx="491.8" cy="1629.6" r="2.7"/><circle cx="493.7" cy="1632.9" r="2.7"/><circle cx="464.3" cy="1631.3" r="2.7"/><circle cx="468.3" cy="1635.3" r="2.7"/><circle cx="475.6" cy="1632.1" r="2.7"/><circle cx="499.5" cy="1634.5" r="2.7"/><circle cx="518.1" cy="1632.1" r="2.7"/><circle cx="534.6" cy="1635.3" r="2.7"/><circle cx="536.2" cy="1639.3" r="2.7"/><circle cx="545.6" cy="1637.7" r="2.7"/><circle cx="557.2" cy="1632.9" r="2.7"/><circle cx="561.3" cy="1628.8" r="2.7"/><circle cx="458.1" cy="1639.3" r="2.7"/><circle cx="495.8" cy="1639.3" r="2.7"/><circle cx="493.4" cy="1641.8" r="2.7"/><circle cx="479.3" cy="1641.8" r="2.7"/><circle cx="467.5" cy="1644.2" r="2.7"/><circle cx="503.1" cy="1645.8" r="2.7"/><circle cx="538.6" cy="1643.4" r="2.7"/><circle cx="528.1" cy="1643.4" r="2.7"/><circle cx="557.2" cy="1641.8" r="2.7"/><circle cx="565.3" cy="1642.6" r="2.7"/><circle cx="570.2" cy="1638.5" r="2.7"/><circle cx="572.6" cy="1641" r="2.7"/><circle cx="576.6" cy="1643.4" r="2.7"/><circle cx="587.1" cy="1640.2" r="2.7"/><circle cx="591.2" cy="1641.8" r="2.7"/><circle cx="452.6" cy="1651.1" r="2.7"/><circle cx="495" cy="1648.2" r="2.7"/><circle cx="508.7" cy="1652.3" r="2.7"/><circle cx="510.4" cy="1657.1" r="2.7"/><circle cx="513.6" cy="1657.9" r="2.7"/><circle cx="525.7" cy="1657.1" r="2.7"/><circle cx="530.6" cy="1657.1" r="2.7"/><circle cx="537" cy="1657.1" r="2.7"/><circle cx="542.4" cy="1657.9" r="2.7"/><circle cx="544.3" cy="1652.3" r="2.7"/><circle cx="549.2" cy="1653.1" r="2.7"/><circle cx="550" cy="1657.9" r="2.7"/><circle cx="552.4" cy="1661.2" r="2.7"/><circle cx="564.5" cy="1654.7" r="2.7"/><circle cx="567.8" cy="1658.7" r="2.7"/><circle cx="571.8" cy="1647.4" r="2.7"/><circle cx="573.4" cy="1652.3" r="2.7"/><circle cx="583.9" cy="1647.4" r="2.7"/><circle cx="583.1" cy="1651.5" r="2.7"/><circle cx="587.1" cy="1649" r="2.7"/><circle cx="580.7" cy="1662" r="2.7"/><circle cx="591.2" cy="1653.1" r="2.7"/><circle cx="457" cy="1662.8" r="2.7"/><circle cx="472.4" cy="1664.4" r="2.7"/><circle cx="495" cy="1661.2" r="2.7"/><circle cx="509.6" cy="1665.2" r="2.7"/><circle cx="512.5" cy="1666.8" r="2.7"/><circle cx="486.9" cy="1670.9" r="2.7"/><circle cx="524.1" cy="1668.4" r="2.7"/><circle cx="541.1" cy="1669.2" r="2.7"/><circle cx="566.1" cy="1666" r="2.7"/><circle cx="570.2" cy="1662.8" r="2.7"/><circle cx="571.8" cy="1667.6" r="2.7"/><circle cx="588.8" cy="1663.6" r="2.7"/><circle cx="592" cy="1666.8" r="2.7"/><circle cx="534.6" cy="1675.7" r="2.7"/><circle cx="538.6" cy="1676.5" r="2.7"/><circle cx="537" cy="1679" r="2.7"/><circle cx="541.9" cy="1674.1" r="2.7"/><circle cx="557.2" cy="1675.7" r="2.7"/><circle cx="561.3" cy="1676.5" r="2.7"/><circle cx="580.7" cy="1674.9" r="2.7"/><circle cx="585.5" cy="1674.9" r="2.7"/><circle cx="589.6" cy="1676.5" r="2.7"/><circle cx="471.2" cy="1677.3" r="2.7"/><circle cx="436" cy="1689.8" r="2.7"/><circle cx="472.4" cy="1693.5" r="2.7"/><circle cx="482.9" cy="1691.9" r="2.7"/><circle cx="488.5" cy="1689.5" r="2.7"/><circle cx="491.8" cy="1682.2" r="2.7"/><circle cx="498.2" cy="1683" r="2.7"/><circle cx="504.2" cy="1688.7" r="2.7"/><circle cx="515.2" cy="1681.4" r="2.7"/><circle cx="517.6" cy="1686.2" r="2.7"/><circle cx="527.3" cy="1691.1" r="2.7"/><circle cx="529" cy="1693.5" r="2.7"/><circle cx="538.6" cy="1684.6" r="2.7"/><circle cx="537.8" cy="1690.3" r="2.7"/><circle cx="550" cy="1683.8" r="2.7"/><circle cx="558" cy="1680.6" r="2.7"/><circle cx="559.7" cy="1685.4" r="2.7"/><circle cx="573.4" cy="1690.3" r="2.7"/><circle cx="580.7" cy="1685.4" r="2.7"/><circle cx="587.1" cy="1683" r="2.7"/><circle cx="556.4" cy="1693.5" r="2.7"/><circle cx="560.5" cy="1696.7" r="2.7"/><circle cx="567.8" cy="1698.3" r="2.7"/><circle cx="575.8" cy="1693.5" r="2.7"/><circle cx="582.3" cy="1693.5" r="2.7"/><circle cx="478.8" cy="1700.8" r="2.7"/><circle cx="586.3" cy="1699.2" r="2.7"/><circle cx="559.7" cy="1700.8" r="2.7"/><circle cx="578.3" cy="1611.1" r="2.7"/><circle cx="547.1" cy="1637" r="2.7"/><circle cx="577.8" cy="1620.8" r="2.7"/><circle cx="544.7" cy="1628.6" r="2.7"/><circle cx="575.3" cy="1649.5" r="2.7"/><circle cx="540.7" cy="1664.1" r="2.7"/><circle cx="554.8" cy="1608.6" r="2.7"/><circle cx="548.1" cy="1623.2" r="2.7"/><circle cx="543.5" cy="1607.5" r="2.7"/><circle cx="571.6" cy="1601.4" r="2.7"/><circle cx="559.6" cy="1694.3" r="2.7"/><circle cx="565.9" cy="1612.4" r="2.7"/><circle cx="574.7" cy="1593" r="2.7"/><circle cx="583.6" cy="1640.4" r="2.7"/><circle cx="557.5" cy="1600.3" r="2.7"/><circle cx="589.6" cy="1638.1" r="2.7"/><circle cx="571" cy="1598.2" r="2.7"/><circle cx="542.2" cy="1670.8" r="2.7"/><circle cx="565.6" cy="1630.6" r="2.7"/><circle cx="562.7" cy="1701" r="2.7"/><circle cx="545.1" cy="1684.8" r="2.7"/><circle cx="578.4" cy="1670.8" r="2.7"/><circle cx="588" cy="1674.1" r="2.7"/><circle cx="556.6" cy="1692" r="2.7"/><circle cx="556.1" cy="1671.4" r="2.7"/><circle cx="579.6" cy="1615.2" r="2.7"/><circle cx="581.4" cy="1672.7" r="2.7"/><circle cx="576.5" cy="1628.8" r="2.7"/><circle cx="579.3" cy="1641.3" r="2.7"/><circle cx="542.7" cy="1639.3" r="2.7"/><circle cx="549.1" cy="1639.3" r="2.7"/><circle cx="577.8" cy="1645.6" r="2.7"/><circle cx="575.7" cy="1665.3" r="2.7"/><circle cx="561.9" cy="1662.1" r="2.7"/><circle cx="581.7" cy="1627.8" r="2.7"/><circle cx="570.2" cy="1613.9" r="2.7"/><circle cx="564.6" cy="1700.9" r="2.7"/><circle cx="545.4" cy="1623.2" r="2.7"/><circle cx="566.8" cy="1687.4" r="2.7"/><circle cx="549.1" cy="1610.9" r="2.7"/><circle cx="557" cy="1629.9" r="2.7"/><circle cx="569.2" cy="1696.8" r="2.7"/><circle cx="578.3" cy="1681.4" r="2.7"/><circle cx="584" cy="1676.5" r="2.7"/><circle cx="568.4" cy="1621.1" r="2.7"/><circle cx="574.6" cy="1686.5" r="2.7"/><circle cx="557.5" cy="1656.6" r="2.7"/><circle cx="567.9" cy="1677.8" r="2.7"/><circle cx="564.9" cy="1693.4" r="2.7"/><circle cx="561.8" cy="1695.2" r="2.7"/><circle cx="570.3" cy="1625.1" r="2.7"/><circle cx="591.5" cy="1650.2" r="2.7"/><circle cx="557.2" cy="1602.2" r="2.7"/><circle cx="550.2" cy="1608.9" r="2.7"/><circle cx="565.2" cy="1683.9" r="2.7"/><circle cx="579.8" cy="1675.9" r="2.7"/><circle cx="580" cy="1613.4" r="2.7"/><circle cx="559" cy="1685.6" r="2.7"/><circle cx="546.1" cy="1640.5" r="2.7"/><circle cx="541.4" cy="1653.8" r="2.7"/><circle cx="562.8" cy="1615.6" r="2.7"/><circle cx="573.6" cy="1679.6" r="2.7"/><circle cx="571.7" cy="1611.6" r="2.7"/><circle cx="579.7" cy="1668.9" r="2.7"/><circle cx="588.7" cy="1622.8" r="2.7"/><circle cx="541" cy="1660.9" r="2.7"/><circle cx="580.5" cy="1658.8" r="2.7"/><circle cx="565.6" cy="1659.5" r="2.7"/><circle cx="550.9" cy="1669.1" r="2.7"/><circle cx="572.4" cy="1605.6" r="2.7"/><circle cx="583.3" cy="1661.9" r="2.7"/><circle cx="536.2" cy="1657.6" r="2.7"/><circle cx="550.8" cy="1602.9" r="2.7"/><circle cx="581.7" cy="1655.3" r="2.7"/><circle cx="583.6" cy="1672.6" r="2.7"/><circle cx="563.8" cy="1611.2" r="2.7"/><circle cx="584.8" cy="1666.4" r="2.7"/><circle cx="591.5" cy="1650.9" r="2.7"/><circle cx="584.9" cy="1649.7" r="2.7"/><circle cx="566.4" cy="1627" r="2.7"/><circle cx="566.6" cy="1605.6" r="2.7"/><circle cx="588.1" cy="1632.4" r="2.7"/><circle cx="549.8" cy="1653.1" r="2.7"/><circle cx="543.7" cy="1681.9" r="2.7"/><circle cx="544.9" cy="1676.6" r="2.7"/><circle cx="514.5" cy="1634.2" r="2.7"/><circle cx="509.7" cy="1670.2" r="2.7"/><circle cx="515" cy="1594.9" r="2.7"/><circle cx="509.1" cy="1679.1" r="2.7"/><circle cx="536.6" cy="1650.2" r="2.7"/><circle cx="526.8" cy="1625.4" r="2.7"/><circle cx="495.2" cy="1646.4" r="2.7"/><circle cx="509.7" cy="1617.8" r="2.7"/><circle cx="494.1" cy="1639.1" r="2.7"/><circle cx="535.5" cy="1657" r="2.7"/><circle cx="524.2" cy="1660.2" r="2.7"/><circle cx="494" cy="1627.2" r="2.7"/><circle cx="516" cy="1627.2" r="2.7"/><circle cx="523" cy="1638.2" r="2.7"/><circle cx="515" cy="1640.3" r="2.7"/><circle cx="503" cy="1644.4" r="2.7"/><circle cx="520.3" cy="1666.2" r="2.7"/><circle cx="533.7" cy="1626.1" r="2.7"/><circle cx="539.7" cy="1608.1" r="2.7"/><circle cx="536.3" cy="1656.3" r="2.7"/><circle cx="522.3" cy="1589.4" r="2.7"/><circle cx="527.4" cy="1664.1" r="2.7"/><circle cx="530.7" cy="1677.2" r="2.7"/><circle cx="508.5" cy="1634.8" r="2.7"/><circle cx="506.7" cy="1657.7" r="2.7"/><circle cx="492.4" cy="1645.7" r="2.7"/><circle cx="545" cy="1623.5" r="2.7"/><circle cx="512.3" cy="1613.2" r="2.7"/><circle cx="515.4" cy="1622.2" r="2.7"/><circle cx="530.1" cy="1622.1" r="2.7"/><circle cx="727.5" cy="1479.3" r="2.7"/><circle cx="732.6" cy="1487.9" r="2.7"/><circle cx="669.3" cy="1504" r="2.7"/><circle cx="630.8" cy="1510.8" r="2.7"/><circle cx="634.8" cy="1522.1" r="2.7"/><circle cx="663.1" cy="1523.8" r="2.7"/><circle cx="672.3" cy="1535.4" r="2.7"/><circle cx="599.3" cy="1539.1" r="2.7"/><circle cx="630" cy="1544" r="2.7"/><circle cx="633.7" cy="1543.2" r="2.7"/><circle cx="647.3" cy="1543.2" r="2.7"/><circle cx="669.6" cy="1546.4" r="2.7"/><circle cx="670.7" cy="1544.8" r="2.7"/><circle cx="688.2" cy="1544" r="2.7"/><circle cx="606.2" cy="1548.8" r="2.7"/><circle cx="621.1" cy="1550.4" r="2.7"/><circle cx="736.4" cy="1555.3" r="2.7"/><circle cx="746.4" cy="1555" r="2.7"/><circle cx="646.2" cy="1557.7" r="2.7"/><circle cx="616.2" cy="1552.8" r="2.7"/><circle cx="641.3" cy="1562.5" r="2.7"/><circle cx="649.4" cy="1563.4" r="2.7"/><circle cx="631.6" cy="1562.5" r="2.7"/><circle cx="615.4" cy="1562.5" r="2.7"/><circle cx="657.5" cy="1562.5" r="2.7"/><circle cx="695.5" cy="1563.4" r="2.7"/><circle cx="717.3" cy="1560.9" r="2.7"/><circle cx="717.3" cy="1567.4" r="2.7"/><circle cx="724.9" cy="1570.6" r="2.7"/><circle cx="659.1" cy="1567.4" r="2.7"/><circle cx="661.5" cy="1568.2" r="2.7"/><circle cx="695.5" cy="1569" r="2.7"/><circle cx="684.1" cy="1571.9" r="2.7"/><circle cx="696.3" cy="1574.7" r="2.7"/><circle cx="675.6" cy="1575.2" r="2.7"/><circle cx="616.2" cy="1575.5" r="2.7"/><circle cx="603.3" cy="1575.5" r="2.7"/><circle cx="597.7" cy="1578.7" r="2.7"/><circle cx="653.4" cy="1577.1" r="2.7"/><circle cx="658.3" cy="1579.5" r="2.7"/><circle cx="664.8" cy="1579.5" r="2.7"/><circle cx="701.1" cy="1580.8" r="2.7"/><circle cx="746.4" cy="1582.8" r="2.7"/><circle cx="666.4" cy="1585.2" r="2.7"/><circle cx="648.6" cy="1585.2" r="2.7"/><circle cx="613" cy="1580.3" r="2.7"/><circle cx="703.5" cy="1588.4" r="2.7"/><circle cx="672" cy="1593.3" r="2.7"/><circle cx="687.4" cy="1594.1" r="2.7"/><circle cx="685" cy="1597.3" r="2.7"/><circle cx="698.7" cy="1597.3" r="2.7"/><circle cx="719.4" cy="1594.1" r="2.7"/><circle cx="729.7" cy="1598.9" r="2.7"/><circle cx="763.7" cy="1599.4" r="2.7"/><circle cx="701.1" cy="1602.2" r="2.7"/><circle cx="706.8" cy="1603.8" r="2.7"/><circle cx="784.4" cy="1606.2" r="2.7"/><circle cx="693.9" cy="1607.5" r="2.7"/><circle cx="738" cy="1611" r="2.7"/><circle cx="720.5" cy="1615.9" r="2.7"/><circle cx="723" cy="1614.3" r="2.7"/><circle cx="701.1" cy="1611" r="2.7"/><circle cx="706.8" cy="1612.7" r="2.7"/><circle cx="705.2" cy="1620.8" r="2.7"/><circle cx="691.4" cy="1624" r="2.7"/><circle cx="711.6" cy="1625.6" r="2.7"/><circle cx="715.7" cy="1628.8" r="2.7"/><circle cx="708.4" cy="1629.6" r="2.7"/><circle cx="725.7" cy="1630.1" r="2.7"/><circle cx="692.2" cy="1631.3" r="2.7"/><circle cx="733.5" cy="1636.1" r="2.7"/><circle cx="745.6" cy="1639" r="2.7"/><circle cx="767.4" cy="1636.9" r="2.7"/><circle cx="761.8" cy="1639.3" r="2.7"/><circle cx="754.8" cy="1642.9" r="2.7"/><circle cx="716.5" cy="1641" r="2.7"/><circle cx="698.7" cy="1638.5" r="2.7"/><circle cx="701.9" cy="1639.3" r="2.7"/><circle cx="734.6" cy="1648.2" r="2.7"/><circle cx="748.8" cy="1649" r="2.7"/><circle cx="744.8" cy="1653.9" r="2.7"/><circle cx="747.2" cy="1656.3" r="2.7"/><circle cx="753.7" cy="1655.5" r="2.7"/><circle cx="766.1" cy="1655.5" r="2.7"/><circle cx="728.6" cy="1659.5" r="2.7"/><circle cx="721.3" cy="1665.2" r="2.7"/><circle cx="710.8" cy="1666" r="2.7"/><circle cx="705.2" cy="1670.9" r="2.7"/><circle cx="742.4" cy="1666.8" r="2.7"/><circle cx="724.9" cy="1672.8" r="2.7"/><circle cx="714.1" cy="1674.9" r="2.7"/><circle cx="732.6" cy="1678.1" r="2.7"/><circle cx="745.6" cy="1677.3" r="2.7"/><circle cx="771" cy="1670.9" r="2.7"/><circle cx="771" cy="1680.2" r="2.7"/><circle cx="777.4" cy="1687.8" r="2.7"/><circle cx="722.1" cy="1684.6" r="2.7"/><circle cx="705.2" cy="1686.2" r="2.7"/><circle cx="731" cy="1690.3" r="2.7"/><circle cx="724.6" cy="1693.5" r="2.7"/><circle cx="726.2" cy="1696.7" r="2.7"/><circle cx="759.3" cy="1699.2" r="2.7"/><circle cx="708.4" cy="1700" r="2.7"/><circle cx="621.6" cy="1577" r="2.7"/><circle cx="622.2" cy="1609.2" r="2.7"/><circle cx="598" cy="1596.4" r="2.7"/><circle cx="647.9" cy="1581.5" r="2.7"/><circle cx="596" cy="1613" r="2.7"/><circle cx="623.1" cy="1616.9" r="2.7"/><circle cx="642.1" cy="1604.1" r="2.7"/><circle cx="620.4" cy="1609.6" r="2.7"/><circle cx="615.2" cy="1627.5" r="2.7"/><circle cx="594.7" cy="1593.7" r="2.7"/><circle cx="598.8" cy="1613.6" r="2.7"/><circle cx="630.2" cy="1618.2" r="2.7"/><circle cx="618.4" cy="1588.1" r="2.7"/><circle cx="634.5" cy="1598" r="2.7"/><circle cx="614.3" cy="1615.6" r="2.7"/><circle cx="626.7" cy="1610.5" r="2.7"/><circle cx="596.7" cy="1611.1" r="2.7"/><circle cx="643.2" cy="1629.5" r="2.7"/><circle cx="619.7" cy="1572.9" r="2.7"/><circle cx="651.1" cy="1605.2" r="2.7"/><circle cx="608.1" cy="1609.1" r="2.7"/><circle cx="629.9" cy="1599.1" r="2.7"/><circle cx="619.3" cy="1609.1" r="2.7"/><circle cx="649.8" cy="1616.2" r="2.7"/><circle cx="611.3" cy="1599.2" r="2.7"/><circle cx="614.3" cy="1575" r="2.7"/><circle cx="592.8" cy="1593.9" r="2.7"/><circle cx="606.1" cy="1586.9" r="2.7"/><circle cx="621.6" cy="1624.4" r="2.7"/><circle cx="630.6" cy="1630.8" r="2.7"/><circle cx="621" cy="1614.4" r="2.7"/><circle cx="624.8" cy="1618.6" r="2.7"/><circle cx="635.3" cy="1622.8" r="2.7"/><circle cx="617.2" cy="1624.1" r="2.7"/><circle cx="616.6" cy="1592.5" r="2.7"/><circle cx="612.4" cy="1605.2" r="2.7"/><circle cx="609.9" cy="1608.1" r="2.7"/><circle cx="613.9" cy="1595.1" r="2.7"/><circle cx="648.4" cy="1585.6" r="2.7"/><circle cx="648.2" cy="1628.1" r="2.7"/><circle cx="634.1" cy="1606.1" r="2.7"/><circle cx="640.5" cy="1593.7" r="2.7"/><circle cx="625.2" cy="1606.7" r="2.7"/><circle cx="634.9" cy="1586" r="2.7"/><circle cx="651.6" cy="1613.8" r="2.7"/><circle cx="593.9" cy="1604" r="2.7"/><circle cx="648.1" cy="1615.5" r="2.7"/><circle cx="644.2" cy="1585.6" r="2.7"/><circle cx="630.2" cy="1608.8" r="2.7"/><circle cx="642.1" cy="1607.3" r="2.7"/><circle cx="630.2" cy="1619.4" r="2.7"/><circle cx="641.7" cy="1600.3" r="2.7"/><circle cx="637.1" cy="1630" r="2.7"/><circle cx="610.1" cy="1628.1" r="2.7"/><circle cx="616.7" cy="1613.1" r="2.7"/><circle cx="616.9" cy="1575.5" r="2.7"/><circle cx="653.4" cy="1587.6" r="2.7"/><circle cx="614.4" cy="1577.2" r="2.7"/><circle cx="648.1" cy="1608.9" r="2.7"/><circle cx="596.2" cy="1586.5" r="2.7"/><circle cx="622.7" cy="1660.9" r="2.7"/><circle cx="636.9" cy="1632" r="2.7"/><circle cx="642.9" cy="1666.5" r="2.7"/><circle cx="664.4" cy="1641.1" r="2.7"/><circle cx="642.4" cy="1650" r="2.7"/><circle cx="612" cy="1650.1" r="2.7"/><circle cx="606" cy="1632.7" r="2.7"/><circle cx="674.9" cy="1671.6" r="2.7"/><circle cx="646.4" cy="1677.2" r="2.7"/><circle cx="624.9" cy="1668.1" r="2.7"/><circle cx="615.1" cy="1641.9" r="2.7"/><circle cx="673.7" cy="1646.6" r="2.7"/><circle cx="611.4" cy="1629.8" r="2.7"/><circle cx="678.6" cy="1653.6" r="2.7"/><circle cx="654.7" cy="1632.4" r="2.7"/><circle cx="607.6" cy="1679.7" r="2.7"/><circle cx="628.3" cy="1699.5" r="2.7"/><circle cx="618.7" cy="1686.2" r="2.7"/><circle cx="600" cy="1635.3" r="2.7"/><circle cx="644.6" cy="1693.8" r="2.7"/><circle cx="599.7" cy="1649.7" r="2.7"/><circle cx="621.7" cy="1699.1" r="2.7"/><circle cx="628.3" cy="1638.1" r="2.7"/><circle cx="633.1" cy="1674.4" r="2.7"/><circle cx="670.6" cy="1682" r="2.7"/><circle cx="624.9" cy="1635.7" r="2.7"/><circle cx="613.4" cy="1639.1" r="2.7"/><circle cx="607" cy="1693.6" r="2.7"/><circle cx="673.1" cy="1660.2" r="2.7"/><circle cx="592.3" cy="1644.1" r="2.7"/><circle cx="679.2" cy="1663.7" r="2.7"/><circle cx="667.8" cy="1648.8" r="2.7"/><circle cx="641.7" cy="1624.6" r="2.7"/><circle cx="595.9" cy="1663.6" r="2.7"/><circle cx="624.1" cy="1661.4" r="2.7"/><circle cx="635.2" cy="1635.7" r="2.7"/><circle cx="656.4" cy="1648" r="2.7"/><circle cx="630.4" cy="1676.6" r="2.7"/><circle cx="623.6" cy="1672.3" r="2.7"/><circle cx="628.7" cy="1688.5" r="2.7"/><circle cx="625.5" cy="1690.7" r="2.7"/><circle cx="675.4" cy="1675" r="2.7"/><circle cx="612.4" cy="1676.6" r="2.7"/><circle cx="660.7" cy="1641.8" r="2.7"/><circle cx="608.2" cy="1627.3" r="2.7"/><circle cx="640.9" cy="1675.4" r="2.7"/><circle cx="678.1" cy="1651.6" r="2.7"/><circle cx="621.9" cy="1669" r="2.7"/><circle cx="654" cy="1696.5" r="2.7"/><circle cx="605" cy="1654.6" r="2.7"/><circle cx="619.7" cy="1679" r="2.7"/><circle cx="671" cy="1641" r="2.7"/><circle cx="619.5" cy="1655.4" r="2.7"/><circle cx="650.8" cy="1653.3" r="2.7"/><circle cx="600.7" cy="1673.2" r="2.7"/><circle cx="624.7" cy="1660.6" r="2.7"/><circle cx="627" cy="1676.8" r="2.7"/><circle cx="665.9" cy="1645.6" r="2.7"/><circle cx="665.6" cy="1670.3" r="2.7"/><circle cx="669.8" cy="1640.8" r="2.7"/><circle cx="641.6" cy="1629.8" r="2.7"/><circle cx="662.6" cy="1649.9" r="2.7"/><circle cx="621" cy="1625.9" r="2.7"/><circle cx="660.4" cy="1653.8" r="2.7"/><circle cx="629" cy="1662.7" r="2.7"/><circle cx="630.9" cy="1668.4" r="2.7"/><circle cx="653" cy="1682.6" r="2.7"/><circle cx="610.4" cy="1659.7" r="2.7"/><circle cx="598.9" cy="1669.5" r="2.7"/><circle cx="608.6" cy="1636" r="2.7"/><circle cx="670.9" cy="1676.2" r="2.7"/><circle cx="645.7" cy="1689.1" r="2.7"/><circle cx="632.4" cy="1670" r="2.7"/><circle cx="611.7" cy="1674.2" r="2.7"/><circle cx="609.6" cy="1667.9" r="2.7"/><circle cx="599.7" cy="1662.5" r="2.7"/><circle cx="665.2" cy="1677.5" r="2.7"/><circle cx="667.5" cy="1659.9" r="2.7"/><circle cx="624.7" cy="1626" r="2.7"/><circle cx="643.8" cy="1699.4" r="2.7"/><circle cx="607.7" cy="1681.4" r="2.7"/><circle cx="639.4" cy="1698.4" r="2.7"/><circle cx="652.1" cy="1625.5" r="2.7"/><circle cx="637.6" cy="1682.3" r="2.7"/><circle cx="655.4" cy="1685" r="2.7"/><circle cx="666.5" cy="1677.4" r="2.7"/><circle cx="598.1" cy="1687" r="2.7"/><circle cx="670.2" cy="1686.5" r="2.7"/><circle cx="641.6" cy="1684.1" r="2.7"/><circle cx="670.7" cy="1669.7" r="2.7"/><circle cx="667.9" cy="1664.9" r="2.7"/><circle cx="646.1" cy="1639.9" r="2.7"/><circle cx="632.7" cy="1685.4" r="2.7"/><circle cx="602.8" cy="1639.4" r="2.7"/><circle cx="626" cy="1673.5" r="2.7"/><circle cx="644.2" cy="1635.3" r="2.7"/><circle cx="623.6" cy="1669.2" r="2.7"/><circle cx="644.4" cy="1642.4" r="2.7"/><circle cx="633.7" cy="1665.7" r="2.7"/><circle cx="610.4" cy="1655.5" r="2.7"/><circle cx="657.2" cy="1690.9" r="2.7"/><circle cx="652.3" cy="1670.4" r="2.7"/><circle cx="633.4" cy="1646.4" r="2.7"/><circle cx="651" cy="1697.1" r="2.7"/><circle cx="654.7" cy="1640.3" r="2.7"/><circle cx="667.4" cy="1674.2" r="2.7"/><circle cx="659.2" cy="1662.3" r="2.7"/><circle cx="657.7" cy="1694.5" r="2.7"/><circle cx="664.4" cy="1691.3" r="2.7"/><circle cx="645.6" cy="1691.1" r="2.7"/><circle cx="620" cy="1676.9" r="2.7"/><circle cx="592.6" cy="1639.8" r="2.7"/><circle cx="640.3" cy="1648.7" r="2.7"/><circle cx="664.8" cy="1672.1" r="2.7"/><circle cx="664.2" cy="1645.7" r="2.7"/><circle cx="651.7" cy="1667.6" r="2.7"/><circle cx="592.4" cy="1682.4" r="2.7"/><circle cx="647.4" cy="1634.2" r="2.7"/><circle cx="602.8" cy="1648.3" r="2.7"/><circle cx="635.9" cy="1676.7" r="2.7"/><circle cx="667.3" cy="1599.5" r="2.7"/><circle cx="672.4" cy="1625.9" r="2.7"/><circle cx="659.6" cy="1641" r="2.7"/><circle cx="665.7" cy="1606.6" r="2.7"/><circle cx="668.8" cy="1636.1" r="2.7"/><circle cx="654.8" cy="1614.4" r="2.7"/><circle cx="684" cy="1633.6" r="2.7"/><circle cx="673.1" cy="1621.7" r="2.7"/><circle cx="685.5" cy="1609.3" r="2.7"/><circle cx="650.5" cy="1623.5" r="2.7"/><circle cx="682.7" cy="1636.9" r="2.7"/><circle cx="676.2" cy="1599.6" r="2.7"/><circle cx="676.7" cy="1618.8" r="2.7"/><circle cx="680.8" cy="1609.5" r="2.7"/><circle cx="656.8" cy="1635" r="2.7"/><circle cx="650.2" cy="1623.3" r="2.7"/><circle cx="686.4" cy="1632.6" r="2.7"/><circle cx="684.6" cy="1630.8" r="2.7"/><circle cx="682.2" cy="1604.6" r="2.7"/><circle cx="658.4" cy="1628.4" r="2.7"/><circle cx="678.1" cy="1642.1" r="2.7"/><circle cx="653.7" cy="1624.6" r="2.7"/><circle cx="685" cy="1604.2" r="2.7"/><circle cx="690.6" cy="1625.6" r="2.7"/><circle cx="687.2" cy="1630.4" r="2.7"/><circle cx="671.7" cy="1611.1" r="2.7"/><circle cx="685.6" cy="1617.2" r="2.7"/><circle cx="649" cy="1629.7" r="2.7"/><circle cx="667.3" cy="1622" r="2.7"/><circle cx="667.4" cy="1641.5" r="2.7"/><circle cx="668" cy="1669.9" r="2.7"/><circle cx="679.7" cy="1693.1" r="2.7"/><circle cx="696.1" cy="1687.7" r="2.7"/><circle cx="699.2" cy="1673.7" r="2.7"/><circle cx="687.3" cy="1654.8" r="2.7"/><circle cx="672.1" cy="1688" r="2.7"/><circle cx="687.4" cy="1686.5" r="2.7"/><circle cx="714.6" cy="1695.9" r="2.7"/><circle cx="701.8" cy="1660.2" r="2.7"/><circle cx="692" cy="1677.7" r="2.7"/><circle cx="700.6" cy="1683.7" r="2.7"/><circle cx="724.1" cy="1681.8" r="2.7"/><circle cx="699" cy="1700.4" r="2.7"/><circle cx="708.3" cy="1671.9" r="2.7"/><circle cx="685.6" cy="1675.3" r="2.7"/><circle cx="685.4" cy="1698.7" r="2.7"/><circle cx="703.8" cy="1690" r="2.7"/><circle cx="678.1" cy="1673.7" r="2.7"/><circle cx="669" cy="1676.6" r="2.7"/><circle cx="698.5" cy="1661.8" r="2.7"/><circle cx="677" cy="1685.7" r="2.7"/><circle cx="676.7" cy="1675.6" r="2.7"/><circle cx="710.6" cy="1661.8" r="2.7"/><circle cx="702.6" cy="1692.4" r="2.7"/><circle cx="726.7" cy="1669" r="2.7"/><circle cx="683.7" cy="1678" r="2.7"/><circle cx="698" cy="1657.2" r="2.7"/><circle cx="684.8" cy="1688" r="2.7"/><circle cx="672.2" cy="1668.2" r="2.7"/><circle cx="717.6" cy="1683.3" r="2.7"/><circle cx="610.6" cy="1695.3" r="2.7"/><circle cx="601.1" cy="1690.2" r="2.7"/><circle cx="621.1" cy="1692.4" r="2.7"/><circle cx="608.1" cy="1692.6" r="2.7"/><circle cx="619.5" cy="1680.6" r="2.7"/><circle cx="614" cy="1698.4" r="2.7"/><circle cx="595.6" cy="1685.3" r="2.7"/><circle cx="619.2" cy="1691.9" r="2.7"/><circle cx="623.5" cy="1692.7" r="2.7"/><circle cx="596.3" cy="1677" r="2.7"/><circle cx="595" cy="1682.2" r="2.7"/><circle cx="623.7" cy="1693.2" r="2.7"/><circle cx="597.7" cy="1693" r="2.7"/><circle cx="615.4" cy="1683.2" r="2.7"/><circle cx="604.4" cy="1688.3" r="2.7"/><circle cx="612.8" cy="1578.3" r="2.7"/><circle cx="627.8" cy="1605.5" r="2.7"/><circle cx="600.6" cy="1606.8" r="2.7"/><circle cx="627.6" cy="1608.8" r="2.7"/><circle cx="592.9" cy="1592.1" r="2.7"/><circle cx="618.6" cy="1598.6" r="2.7"/><circle cx="594" cy="1611.2" r="2.7"/><circle cx="609.5" cy="1576.9" r="2.7"/><circle cx="611.1" cy="1606.3" r="2.7"/><circle cx="613.4" cy="1575" r="2.7"/><circle cx="619.4" cy="1583.5" r="2.7"/><circle cx="630.3" cy="1585.7" r="2.7"/><circle cx="619.8" cy="1601.1" r="2.7"/><circle cx="630.4" cy="1592" r="2.7"/><circle cx="620.3" cy="1580" r="2.7"/><circle cx="625.6" cy="1581" r="2.7"/><circle cx="619" cy="1609" r="2.7"/><circle cx="624.2" cy="1614.1" r="2.7"/><circle cx="624" cy="1590" r="2.7"/><circle cx="608.4" cy="1593.9" r="2.7"/><circle cx="623.2" cy="1579" r="2.7"/><circle cx="598.5" cy="1603.8" r="2.7"/><circle cx="626.6" cy="1582.8" r="2.7"/><circle cx="604.1" cy="1585.3" r="2.7"/><circle cx="607.8" cy="1619.6" r="2.7"/><circle cx="675.2" cy="1594.4" r="2.7"/><circle cx="645.1" cy="1599.3" r="2.7"/><circle cx="640.3" cy="1608.5" r="2.7"/><circle cx="645" cy="1611.3" r="2.7"/><circle cx="690.7" cy="1604.3" r="2.7"/><circle cx="662.1" cy="1621.3" r="2.7"/><circle cx="676.2" cy="1609.5" r="2.7"/><circle cx="666.8" cy="1621" r="2.7"/><circle cx="657.3" cy="1596.4" r="2.7"/><circle cx="668.6" cy="1618.1" r="2.7"/><circle cx="668.9" cy="1613.2" r="2.7"/><circle cx="658.1" cy="1611.7" r="2.7"/><circle cx="672.3" cy="1599.9" r="2.7"/><circle cx="658.1" cy="1598.4" r="2.7"/><circle cx="638.1" cy="1600.9" r="2.7"/><circle cx="684.5" cy="1599.2" r="2.7"/><circle cx="671.1" cy="1603.9" r="2.7"/><circle cx="647.2" cy="1596" r="2.7"/><circle cx="669.4" cy="1589.4" r="2.7"/><circle cx="666" cy="1609.9" r="2.7"/><circle cx="623.6" cy="1648.4" r="2.7"/><circle cx="615.7" cy="1644.9" r="2.7"/><circle cx="614.6" cy="1630.8" r="2.7"/><circle cx="600.8" cy="1661.1" r="2.7"/><circle cx="614.4" cy="1646" r="2.7"/><circle cx="611.3" cy="1668.1" r="2.7"/><circle cx="619.1" cy="1656.9" r="2.7"/><circle cx="613.9" cy="1629.9" r="2.7"/><circle cx="597.7" cy="1631.7" r="2.7"/><circle cx="599.1" cy="1626" r="2.7"/><circle cx="617.2" cy="1627.2" r="2.7"/><circle cx="616.8" cy="1654.2" r="2.7"/><circle cx="616.2" cy="1660.7" r="2.7"/><circle cx="613.7" cy="1644.8" r="2.7"/><circle cx="614.1" cy="1635.7" r="2.7"/><circle cx="788.4" cy="1498.4" r="2.7"/><circle cx="792.5" cy="1498.4" r="2.7"/><circle cx="824.3" cy="1537.8" r="2.7"/><circle cx="817.5" cy="1544" r="2.7"/><circle cx="798.1" cy="1552.8" r="2.7"/><circle cx="813.5" cy="1567.7" r="2.7"/><circle cx="832.6" cy="1587.9" r="2.7"/><circle cx="800.9" cy="1620.8" r="2.7"/><circle cx="832.4" cy="1633.7" r="2.7"/><circle cx="813.5" cy="1646.1" r="2.7"/><circle cx="849.5" cy="1647.3" r="2.7"/><circle cx="789.6" cy="1653.1" r="2.7"/><circle cx="809.1" cy="1655.2" r="2.7"/><circle cx="788.7" cy="1664.9" r="2.7"/><circle cx="873.3" cy="1675.7" r="2.7"/><circle cx="803.3" cy="1677" r="2.7"/><circle cx="805.4" cy="1682.5" r="2.7"/><circle cx="823.5" cy="1680.6" r="2.7"/><circle cx="826.1" cy="1697.1" r="2.7"/><circle cx="791.7" cy="1700.8" r="2.7"/><circle cx="426.8" cy="1706.4" r="2.7"/><circle cx="467" cy="1710.9" r="2.7"/><circle cx="444.4" cy="1721.9" r="2.7"/><circle cx="455.4" cy="1727.4" r="2.7"/><circle cx="458.9" cy="1736.4" r="2.7"/><circle cx="423.9" cy="1749.4" r="2.7"/><circle cx="436" cy="1749.4" r="2.7"/><circle cx="459.1" cy="1752.9" r="2.7"/><circle cx="399.3" cy="1780.1" r="2.7"/><circle cx="454.6" cy="1786.1" r="2.7"/><circle cx="463.5" cy="1791.2" r="2.7"/><circle cx="473.2" cy="1786.1" r="2.7"/><circle cx="417.7" cy="1809.5" r="2.7"/><circle cx="422.6" cy="1809.2" r="2.7"/><circle cx="420.3" cy="1831.8" r="2.7"/><circle cx="438.4" cy="1830.2" r="2.7"/><circle cx="432.4" cy="1846.4" r="2.7"/><circle cx="425" cy="1856.1" r="2.7"/><circle cx="447" cy="1854" r="2.7"/><circle cx="453" cy="1858" r="2.7"/><circle cx="461.5" cy="1854" r="2.7"/><circle cx="412.6" cy="1870.9" r="2.7"/><circle cx="438.4" cy="1876.1" r="2.7"/><circle cx="454.9" cy="1876.1" r="2.7"/><circle cx="472.4" cy="1869.3" r="2.7"/><circle cx="469.1" cy="1879" r="2.7"/><circle cx="469.9" cy="1880.6" r="2.7"/><circle cx="467.5" cy="1879.8" r="2.7"/><circle cx="454.6" cy="1890.3" r="2.7"/><circle cx="457" cy="1895.2" r="2.7"/><circle cx="444.9" cy="1895.2" r="2.7"/><circle cx="407.4" cy="1896" r="2.7"/><circle cx="540.3" cy="1904.9" r="2.7"/><circle cx="550.8" cy="1910.5" r="2.7"/><circle cx="558.5" cy="1912.2" r="2.7"/><circle cx="568.6" cy="1907.3" r="2.7"/><circle cx="562.9" cy="1906.5" r="2.7"/><circle cx="480.4" cy="1726.2" r="2.7"/><circle cx="482.1" cy="1727.9" r="2.7"/><circle cx="494.2" cy="1735.1" r="2.7"/><circle cx="481.3" cy="1739.2" r="2.7"/><circle cx="486.9" cy="1739.2" r="2.7"/><circle cx="495" cy="1744" r="2.7"/><circle cx="478" cy="1745.7" r="2.7"/><circle cx="491" cy="1708.5" r="2.7"/><circle cx="495" cy="1713.3" r="2.7"/><circle cx="509.6" cy="1709.3" r="2.7"/><circle cx="518.4" cy="1708.5" r="2.7"/><circle cx="524.1" cy="1717.4" r="2.7"/><circle cx="527.3" cy="1712.5" r="2.7"/><circle cx="516" cy="1726.2" r="2.7"/><circle cx="533.8" cy="1731.9" r="2.7"/><circle cx="532.2" cy="1736" r="2.7"/><circle cx="544.3" cy="1733.5" r="2.7"/><circle cx="550.8" cy="1735.1" r="2.7"/><circle cx="522.5" cy="1742.4" r="2.7"/><circle cx="525.7" cy="1744.8" r="2.7"/><circle cx="544.3" cy="1745.7" r="2.7"/><circle cx="501.5" cy="1753.7" r="2.7"/><circle cx="507.9" cy="1750.5" r="2.7"/><circle cx="516" cy="1753.7" r="2.7"/><circle cx="522.5" cy="1757" r="2.7"/><circle cx="472.4" cy="1758.6" r="2.7"/><circle cx="469.9" cy="1759.4" r="2.7"/><circle cx="491" cy="1759.4" r="2.7"/><circle cx="501.5" cy="1758.6" r="2.7"/><circle cx="507.9" cy="1761" r="2.7"/><circle cx="514.4" cy="1761.8" r="2.7"/><circle cx="474.8" cy="1766.7" r="2.7"/><circle cx="480.4" cy="1765.9" r="2.7"/><circle cx="481.3" cy="1769.1" r="2.7"/><circle cx="488.5" cy="1766.7" r="2.7"/><circle cx="491" cy="1769.9" r="2.7"/><circle cx="503.1" cy="1768.3" r="2.7"/><circle cx="518.4" cy="1766.7" r="2.7"/><circle cx="524.1" cy="1766.7" r="2.7"/><circle cx="527.3" cy="1769.9" r="2.7"/><circle cx="536.2" cy="1766.7" r="2.7"/><circle cx="540.3" cy="1767.5" r="2.7"/><circle cx="532.2" cy="1763.4" r="2.7"/><circle cx="477.2" cy="1774.8" r="2.7"/><circle cx="493.4" cy="1773.9" r="2.7"/><circle cx="500.7" cy="1776.4" r="2.7"/><circle cx="503.9" cy="1772.3" r="2.7"/><circle cx="515.2" cy="1777.2" r="2.7"/><circle cx="524.9" cy="1773.1" r="2.7"/><circle cx="509.6" cy="1786.1" r="2.7"/><circle cx="506.3" cy="1792.5" r="2.7"/><circle cx="508.7" cy="1795.8" r="2.7"/><circle cx="510.4" cy="1799" r="2.7"/><circle cx="524.1" cy="1787.7" r="2.7"/><circle cx="529" cy="1784.5" r="2.7"/><circle cx="533" cy="1784.5" r="2.7"/><circle cx="541.1" cy="1782.8" r="2.7"/><circle cx="527.3" cy="1799" r="2.7"/><circle cx="530.6" cy="1799.8" r="2.7"/><circle cx="548.4" cy="1797.4" r="2.7"/><circle cx="545.1" cy="1803.8" r="2.7"/><circle cx="561.3" cy="1799.8" r="2.7"/><circle cx="570.2" cy="1800.6" r="2.7"/><circle cx="576.6" cy="1804.7" r="2.7"/><circle cx="485.3" cy="1811.1" r="2.7"/><circle cx="494.2" cy="1811.9" r="2.7"/><circle cx="507.1" cy="1807.9" r="2.7"/><circle cx="534.6" cy="1808.7" r="2.7"/><circle cx="540.3" cy="1813.5" r="2.7"/><circle cx="545.9" cy="1816.8" r="2.7"/><circle cx="554" cy="1816" r="2.7"/><circle cx="560.5" cy="1812.7" r="2.7"/><circle cx="572.6" cy="1813.5" r="2.7"/><circle cx="512" cy="1819.2" r="2.7"/><circle cx="521.7" cy="1816.8" r="2.7"/><circle cx="527.3" cy="1816.8" r="2.7"/><circle cx="499.9" cy="1825.7" r="2.7"/><circle cx="503.9" cy="1827.3" r="2.7"/><circle cx="512.8" cy="1831.3" r="2.7"/><circle cx="514.4" cy="1833.8" r="2.7"/><circle cx="523.3" cy="1829.7" r="2.7"/><circle cx="527.3" cy="1831.3" r="2.7"/><circle cx="533" cy="1833.8" r="2.7"/><circle cx="482.9" cy="1832.1" r="2.7"/><circle cx="478" cy="1837" r="2.7"/><circle cx="479.6" cy="1840.2" r="2.7"/><circle cx="501.5" cy="1834.6" r="2.7"/><circle cx="503.1" cy="1837.8" r="2.7"/><circle cx="493.4" cy="1844.3" r="2.7"/><circle cx="498.2" cy="1843.5" r="2.7"/><circle cx="502.3" cy="1842.7" r="2.7"/><circle cx="506.3" cy="1842.7" r="2.7"/><circle cx="529" cy="1842.7" r="2.7"/><circle cx="532.2" cy="1844.3" r="2.7"/><circle cx="536.2" cy="1844.3" r="2.7"/><circle cx="541.1" cy="1839.4" r="2.7"/><circle cx="545.1" cy="1832.1" r="2.7"/><circle cx="550" cy="1836.2" r="2.7"/><circle cx="551.6" cy="1840.2" r="2.7"/><circle cx="554" cy="1844.3" r="2.7"/><circle cx="549.2" cy="1853.2" r="2.7"/><circle cx="553.2" cy="1853.2" r="2.7"/><circle cx="567.8" cy="1844.3" r="2.7"/><circle cx="566.9" cy="1846.7" r="2.7"/><circle cx="580.7" cy="1839.4" r="2.7"/><circle cx="582.3" cy="1842.7" r="2.7"/><circle cx="585.5" cy="1844.3" r="2.7"/><circle cx="589.6" cy="1839.4" r="2.7"/><circle cx="591.2" cy="1833" r="2.7"/><circle cx="588" cy="1823.2" r="2.7"/><circle cx="478" cy="1854" r="2.7"/><circle cx="486.9" cy="1856.4" r="2.7"/><circle cx="490.1" cy="1856.4" r="2.7"/><circle cx="479.6" cy="1862" r="2.7"/><circle cx="503.1" cy="1854.8" r="2.7"/><circle cx="509.6" cy="1854" r="2.7"/><circle cx="514.4" cy="1854.8" r="2.7"/><circle cx="522.5" cy="1854" r="2.7"/><circle cx="525.7" cy="1855.6" r="2.7"/><circle cx="513.6" cy="1865.3" r="2.7"/><circle cx="520.9" cy="1866.1" r="2.7"/><circle cx="544.3" cy="1863.7" r="2.7"/><circle cx="550" cy="1862" r="2.7"/><circle cx="561.3" cy="1861.2" r="2.7"/><circle cx="566.1" cy="1863.7" r="2.7"/><circle cx="573.4" cy="1854.8" r="2.7"/><circle cx="572.6" cy="1863.7" r="2.7"/><circle cx="579.1" cy="1868.5" r="2.7"/><circle cx="575.8" cy="1868.5" r="2.7"/><circle cx="583.9" cy="1865.3" r="2.7"/><circle cx="591.2" cy="1862" r="2.7"/><circle cx="499" cy="1867.7" r="2.7"/><circle cx="500.7" cy="1871.8" r="2.7"/><circle cx="507.9" cy="1875" r="2.7"/><circle cx="498.2" cy="1877.4" r="2.7"/><circle cx="493.4" cy="1881.5" r="2.7"/><circle cx="485.3" cy="1880.6" r="2.7"/><circle cx="499.9" cy="1880.6" r="2.7"/><circle cx="504.7" cy="1883.9" r="2.7"/><circle cx="489.3" cy="1890.3" r="2.7"/><circle cx="517.6" cy="1877.4" r="2.7"/><circle cx="520.1" cy="1883.1" r="2.7"/><circle cx="520.9" cy="1891.2" r="2.7"/><circle cx="530.6" cy="1870.1" r="2.7"/><circle cx="530.6" cy="1873.4" r="2.7"/><circle cx="535.4" cy="1875" r="2.7"/><circle cx="544.3" cy="1875" r="2.7"/><circle cx="558" cy="1875.8" r="2.7"/><circle cx="534.6" cy="1889.5" r="2.7"/><circle cx="553.2" cy="1892.8" r="2.7"/><circle cx="555.6" cy="1894.4" r="2.7"/><circle cx="563.7" cy="1890.3" r="2.7"/><circle cx="573.4" cy="1879.8" r="2.7"/><circle cx="575" cy="1898.4" r="2.7"/><circle cx="577.5" cy="1895.2" r="2.7"/><circle cx="587.1" cy="1882.3" r="2.7"/><circle cx="590.4" cy="1890.3" r="2.7"/><circle cx="553.2" cy="1709.3" r="2.7"/><circle cx="555.6" cy="1706.8" r="2.7"/><circle cx="559.7" cy="1703.6" r="2.7"/><circle cx="569.4" cy="1706" r="2.7"/><circle cx="571.8" cy="1714.1" r="2.7"/><circle cx="578.3" cy="1709.3" r="2.7"/><circle cx="582.3" cy="1713.3" r="2.7"/><circle cx="588" cy="1712.5" r="2.7"/><circle cx="550.8" cy="1722.2" r="2.7"/><circle cx="557.2" cy="1724.6" r="2.7"/><circle cx="559.7" cy="1721.4" r="2.7"/><circle cx="567.8" cy="1726.2" r="2.7"/><circle cx="585.5" cy="1723.8" r="2.7"/><circle cx="588.8" cy="1727.1" r="2.7"/><circle cx="592" cy="1729.5" r="2.7"/><circle cx="545.9" cy="1733.5" r="2.7"/><circle cx="569.4" cy="1740" r="2.7"/><circle cx="573.4" cy="1743.2" r="2.7"/><circle cx="576.6" cy="1745.7" r="2.7"/><circle cx="585.5" cy="1739.2" r="2.7"/><circle cx="565.3" cy="1750.5" r="2.7"/><circle cx="571.8" cy="1750.5" r="2.7"/><circle cx="579.9" cy="1749.7" r="2.7"/><circle cx="582.3" cy="1757.8" r="2.7"/><circle cx="575.8" cy="1759.4" r="2.7"/><circle cx="561.3" cy="1764.2" r="2.7"/><circle cx="566.1" cy="1766.7" r="2.7"/><circle cx="574.2" cy="1767.5" r="2.7"/><circle cx="583.9" cy="1767.5" r="2.7"/><circle cx="550" cy="1773.1" r="2.7"/><circle cx="554" cy="1773.9" r="2.7"/><circle cx="557.2" cy="1774.8" r="2.7"/><circle cx="559.7" cy="1776.4" r="2.7"/><circle cx="582.3" cy="1775.6" r="2.7"/><circle cx="591.2" cy="1773.1" r="2.7"/><circle cx="588" cy="1782" r="2.7"/><circle cx="567.8" cy="1789.3" r="2.7"/><circle cx="581.5" cy="1789.3" r="2.7"/><circle cx="591.2" cy="1786.1" r="2.7"/><circle cx="548.4" cy="1797.4" r="2.7"/><circle cx="576.6" cy="1805.5" r="2.7"/><circle cx="588" cy="1822.4" r="2.7"/><circle cx="557.1" cy="1889.1" r="2.7"/><circle cx="581.1" cy="1841.2" r="2.7"/><circle cx="535.1" cy="1891.1" r="2.7"/><circle cx="545.5" cy="1808.2" r="2.7"/><circle cx="555.8" cy="1879.8" r="2.7"/><circle cx="563.2" cy="1857.4" r="2.7"/><circle cx="576.6" cy="1792.6" r="2.7"/><circle cx="553.7" cy="1909.3" r="2.7"/><circle cx="567.4" cy="1876.8" r="2.7"/><circle cx="535" cy="1849.7" r="2.7"/><circle cx="536.5" cy="1893.6" r="2.7"/><circle cx="560.2" cy="1898.7" r="2.7"/><circle cx="543.9" cy="1855.8" r="2.7"/><circle cx="540.9" cy="1817.6" r="2.7"/><circle cx="583.5" cy="1827.3" r="2.7"/><circle cx="557.8" cy="1811.6" r="2.7"/><circle cx="537.9" cy="1860.8" r="2.7"/><circle cx="534.3" cy="1841.9" r="2.7"/><circle cx="539.4" cy="1865.9" r="2.7"/><circle cx="563.1" cy="1794" r="2.7"/><circle cx="590.5" cy="1864.6" r="2.7"/><circle cx="533.7" cy="1822.3" r="2.7"/><circle cx="564.2" cy="1897.8" r="2.7"/><circle cx="534.9" cy="1844.2" r="2.7"/><circle cx="553.3" cy="1777.7" r="2.7"/><circle cx="582.5" cy="1868.1" r="2.7"/><circle cx="573.7" cy="1868.4" r="2.7"/><circle cx="560.3" cy="1776.9" r="2.7"/><circle cx="569" cy="1792.1" r="2.7"/><circle cx="587.3" cy="1845.9" r="2.7"/><circle cx="572.5" cy="1839.7" r="2.7"/><circle cx="547.3" cy="1835.3" r="2.7"/><circle cx="545.9" cy="1804.6" r="2.7"/><circle cx="576.7" cy="1814.1" r="2.7"/><circle cx="591.1" cy="1863.8" r="2.7"/><circle cx="557.7" cy="1827.6" r="2.7"/><circle cx="571.8" cy="1837.2" r="2.7"/><circle cx="554" cy="1840.4" r="2.7"/><circle cx="545.2" cy="1910.1" r="2.7"/><circle cx="562.7" cy="1854.4" r="2.7"/><circle cx="549.7" cy="1830.6" r="2.7"/><circle cx="570.8" cy="1843.8" r="2.7"/><circle cx="536.8" cy="1898.3" r="2.7"/><circle cx="570.6" cy="1884.2" r="2.7"/><circle cx="582.1" cy="1869.8" r="2.7"/><circle cx="575.5" cy="1820" r="2.7"/><circle cx="551.9" cy="1861.5" r="2.7"/><circle cx="568.6" cy="1804.9" r="2.7"/><circle cx="540.8" cy="1846.3" r="2.7"/><circle cx="547.6" cy="1898.3" r="2.7"/><circle cx="572.9" cy="1898.8" r="2.7"/><circle cx="573.4" cy="1886.8" r="2.7"/><circle cx="585.2" cy="1846.8" r="2.7"/><circle cx="566.7" cy="1823" r="2.7"/><circle cx="562.6" cy="1825.5" r="2.7"/><circle cx="587.5" cy="1874.5" r="2.7"/><circle cx="534.4" cy="1875.8" r="2.7"/><circle cx="548.4" cy="1786.4" r="2.7"/><circle cx="543.9" cy="1796.4" r="2.7"/><circle cx="549.7" cy="1905" r="2.7"/><circle cx="536.6" cy="1826.1" r="2.7"/><circle cx="537.2" cy="1866.8" r="2.7"/><circle cx="518.7" cy="1886" r="2.7"/><circle cx="516.7" cy="1880.9" r="2.7"/><circle cx="512.2" cy="1877" r="2.7"/><circle cx="547.1" cy="1863.4" r="2.7"/><circle cx="544.7" cy="1835.4" r="2.7"/><circle cx="520.8" cy="1810.1" r="2.7"/><circle cx="521.7" cy="1874.7" r="2.7"/><circle cx="492" cy="1837.5" r="2.7"/><circle cx="526.1" cy="1845.7" r="2.7"/><circle cx="499.2" cy="1858.8" r="2.7"/><circle cx="535.7" cy="1867.4" r="2.7"/><circle cx="537.8" cy="1871.3" r="2.7"/><circle cx="496.8" cy="1839.8" r="2.7"/><circle cx="521.3" cy="1852.5" r="2.7"/><circle cx="524.2" cy="1846.5" r="2.7"/><circle cx="514.1" cy="1853.8" r="2.7"/><circle cx="549.4" cy="1851.4" r="2.7"/><circle cx="494.5" cy="1858.4" r="2.7"/><circle cx="500.2" cy="1842.7" r="2.7"/><circle cx="549.3" cy="1840.6" r="2.7"/><circle cx="524.5" cy="1819.8" r="2.7"/><circle cx="513.2" cy="1842.6" r="2.7"/><circle cx="501.5" cy="1869.9" r="2.7"/><circle cx="539" cy="1851.2" r="2.7"/><circle cx="544.2" cy="1864.7" r="2.7"/><circle cx="501" cy="1847.8" r="2.7"/><circle cx="520.5" cy="1831.9" r="2.7"/><circle cx="501.3" cy="1868" r="2.7"/><circle cx="556.4" cy="1750.8" r="2.7"/><circle cx="551.8" cy="1740.7" r="2.7"/><circle cx="572.5" cy="1747.8" r="2.7"/><circle cx="585.3" cy="1727.8" r="2.7"/><circle cx="579.9" cy="1773.8" r="2.7"/><circle cx="579.3" cy="1709.5" r="2.7"/><circle cx="579.4" cy="1748.2" r="2.7"/><circle cx="550.1" cy="1724.7" r="2.7"/><circle cx="554.4" cy="1714.4" r="2.7"/><circle cx="584.2" cy="1747.3" r="2.7"/><circle cx="582" cy="1746.2" r="2.7"/><circle cx="585" cy="1761.1" r="2.7"/><circle cx="575.6" cy="1721.7" r="2.7"/><circle cx="579.4" cy="1746.2" r="2.7"/><circle cx="589.4" cy="1732.4" r="2.7"/><circle cx="573.4" cy="1773.5" r="2.7"/><circle cx="567.5" cy="1746.7" r="2.7"/><circle cx="585.1" cy="1726" r="2.7"/><circle cx="574.4" cy="1778.4" r="2.7"/><circle cx="557.2" cy="1769.4" r="2.7"/><circle cx="569.6" cy="1740.5" r="2.7"/><circle cx="560.6" cy="1712.1" r="2.7"/><circle cx="553.4" cy="1757.8" r="2.7"/><circle cx="570.9" cy="1721.3" r="2.7"/><circle cx="555.3" cy="1751.4" r="2.7"/><circle cx="574.4" cy="1732.2" r="2.7"/><circle cx="558.6" cy="1711" r="2.7"/><circle cx="560.8" cy="1742" r="2.7"/><circle cx="560.6" cy="1736.6" r="2.7"/><circle cx="562.7" cy="1755.9" r="2.7"/><circle cx="557.8" cy="1754.5" r="2.7"/><circle cx="553.3" cy="1729.8" r="2.7"/><circle cx="553.8" cy="1716" r="2.7"/><circle cx="564.5" cy="1708.5" r="2.7"/><circle cx="565.8" cy="1704.1" r="2.7"/><circle cx="562.2" cy="1709.2" r="2.7"/><circle cx="581.7" cy="1757.6" r="2.7"/><circle cx="570" cy="1767.8" r="2.7"/><circle cx="569.2" cy="1736.5" r="2.7"/><circle cx="550.9" cy="1728" r="2.7"/><circle cx="583.2" cy="1760.4" r="2.7"/><circle cx="587.3" cy="1722.1" r="2.7"/><circle cx="556.4" cy="1723" r="2.7"/><circle cx="548.6" cy="1750.9" r="2.7"/><circle cx="553.7" cy="1760.5" r="2.7"/><circle cx="572.3" cy="1721.5" r="2.7"/><circle cx="575.1" cy="1732.8" r="2.7"/><circle cx="552.8" cy="1756.7" r="2.7"/><circle cx="575.8" cy="1758.5" r="2.7"/><circle cx="577.6" cy="1727.2" r="2.7"/><circle cx="580.2" cy="1774" r="2.7"/><circle cx="570.7" cy="1735.6" r="2.7"/><circle cx="557.6" cy="1715.5" r="2.7"/><circle cx="564.7" cy="1741.8" r="2.7"/><circle cx="560.1" cy="1733.1" r="2.7"/><circle cx="483.5" cy="1763.3" r="2.7"/><circle cx="490.5" cy="1757.8" r="2.7"/><circle cx="488.9" cy="1771" r="2.7"/><circle cx="523" cy="1772.8" r="2.7"/><circle cx="472" cy="1762.9" r="2.7"/><circle cx="516.7" cy="1776.6" r="2.7"/><circle cx="518" cy="1763" r="2.7"/><circle cx="520.7" cy="1775.3" r="2.7"/><circle cx="525.8" cy="1763.6" r="2.7"/><circle cx="503.8" cy="1762.4" r="2.7"/><circle cx="477" cy="1774" r="2.7"/><circle cx="479.4" cy="1773.3" r="2.7"/><circle cx="518.3" cy="1776.4" r="2.7"/><circle cx="470.5" cy="1766.2" r="2.7"/><circle cx="476.9" cy="1773.6" r="2.7"/><circle cx="474.6" cy="1763.4" r="2.7"/><circle cx="507.4" cy="1771.1" r="2.7"/><circle cx="485" cy="1761.1" r="2.7"/><circle cx="515.3" cy="1768" r="2.7"/><circle cx="497.1" cy="1769.9" r="2.7"/><circle cx="734.3" cy="1706" r="2.7"/><circle cx="697.1" cy="1707.3" r="2.7"/><circle cx="715.7" cy="1705.2" r="2.7"/><circle cx="702.7" cy="1714.9" r="2.7"/><circle cx="711.6" cy="1719" r="2.7"/><circle cx="693.9" cy="1720.6" r="2.7"/><circle cx="718.6" cy="1725.9" r="2.7"/><circle cx="778.4" cy="1726.7" r="2.7"/><circle cx="701.9" cy="1731.9" r="2.7"/><circle cx="708.4" cy="1735.1" r="2.7"/><circle cx="756.9" cy="1732.7" r="2.7"/><circle cx="736.4" cy="1745.7" r="2.7"/><circle cx="726.2" cy="1747.3" r="2.7"/><circle cx="723.8" cy="1755.3" r="2.7"/><circle cx="699.5" cy="1762.6" r="2.7"/><circle cx="752" cy="1763.9" r="2.7"/><circle cx="749.6" cy="1764.2" r="2.7"/><circle cx="739.1" cy="1767.5" r="2.7"/><circle cx="761.8" cy="1769.9" r="2.7"/><circle cx="702.7" cy="1778" r="2.7"/><circle cx="701.9" cy="1781.2" r="2.7"/><circle cx="744.8" cy="1786.1" r="2.7"/><circle cx="712" cy="1786.1" r="2.7"/><circle cx="713.2" cy="1791.7" r="2.7"/><circle cx="733.5" cy="1800.9" r="2.7"/><circle cx="697.1" cy="1802.6" r="2.7"/><circle cx="705.2" cy="1811.9" r="2.7"/><circle cx="729.9" cy="1812.7" r="2.7"/><circle cx="766.9" cy="1822.1" r="2.7"/><circle cx="775.8" cy="1819.7" r="2.7"/><circle cx="729.4" cy="1827.8" r="2.7"/><circle cx="778.4" cy="1831.3" r="2.7"/><circle cx="685.3" cy="1841" r="2.7"/><circle cx="684.1" cy="1845.9" r="2.7"/><circle cx="680.1" cy="1851.5" r="2.7"/><circle cx="697.9" cy="1846.7" r="2.7"/><circle cx="706" cy="1849.1" r="2.7"/><circle cx="712.4" cy="1852.3" r="2.7"/><circle cx="718.1" cy="1849.1" r="2.7"/><circle cx="716.5" cy="1857.2" r="2.7"/><circle cx="685.8" cy="1858.8" r="2.7"/><circle cx="689" cy="1867.7" r="2.7"/><circle cx="726.2" cy="1860.4" r="2.7"/><circle cx="731" cy="1862.9" r="2.7"/><circle cx="705.2" cy="1866.1" r="2.7"/><circle cx="700.3" cy="1873.4" r="2.7"/><circle cx="760.9" cy="1875.8" r="2.7"/><circle cx="769.8" cy="1877.4" r="2.7"/><circle cx="745.6" cy="1880.6" r="2.7"/><circle cx="739.9" cy="1886.3" r="2.7"/><circle cx="782.8" cy="1883.9" r="2.7"/><circle cx="720.8" cy="1884.4" r="2.7"/><circle cx="754.5" cy="1896.8" r="2.7"/><circle cx="760.1" cy="1895.2" r="2.7"/><circle cx="732.6" cy="1900.8" r="2.7"/><circle cx="779.5" cy="1906.5" r="2.7"/><circle cx="594.4" cy="1917" r="2.7"/><circle cx="596" cy="1898.4" r="2.7"/><circle cx="635.6" cy="1904.9" r="2.7"/><circle cx="615.4" cy="1886.3" r="2.7"/><circle cx="631.6" cy="1888.7" r="2.7"/><circle cx="660.7" cy="1892.8" r="2.7"/><circle cx="663.1" cy="1884.7" r="2.7"/><circle cx="679.3" cy="1876.6" r="2.7"/><circle cx="669.6" cy="1875.8" r="2.7"/><circle cx="641.3" cy="1875.8" r="2.7"/><circle cx="655.9" cy="1876.6" r="2.7"/><circle cx="630.2" cy="1795.7" r="2.7"/><circle cx="632.7" cy="1785.2" r="2.7"/><circle cx="618.6" cy="1796" r="2.7"/><circle cx="605" cy="1763.8" r="2.7"/><circle cx="656.3" cy="1713.4" r="2.7"/><circle cx="645.3" cy="1818.1" r="2.7"/><circle cx="601.1" cy="1769.9" r="2.7"/><circle cx="643.5" cy="1805.9" r="2.7"/><circle cx="640.5" cy="1707.8" r="2.7"/><circle cx="642.7" cy="1729" r="2.7"/><circle cx="605.6" cy="1710.6" r="2.7"/><circle cx="619.8" cy="1780.9" r="2.7"/><circle cx="627.1" cy="1790" r="2.7"/><circle cx="642.2" cy="1706.8" r="2.7"/><circle cx="642" cy="1739.3" r="2.7"/><circle cx="630.1" cy="1816.2" r="2.7"/><circle cx="630.1" cy="1717.9" r="2.7"/><circle cx="593" cy="1783" r="2.7"/><circle cx="641.1" cy="1743.1" r="2.7"/><circle cx="593.7" cy="1759.4" r="2.7"/><circle cx="596" cy="1723.2" r="2.7"/><circle cx="658.4" cy="1802.8" r="2.7"/><circle cx="649.5" cy="1780.2" r="2.7"/><circle cx="615.3" cy="1713.7" r="2.7"/><circle cx="633.5" cy="1746.2" r="2.7"/><circle cx="674.3" cy="1785.6" r="2.7"/><circle cx="625.4" cy="1721.3" r="2.7"/><circle cx="672.6" cy="1793.5" r="2.7"/><circle cx="653.6" cy="1772.9" r="2.7"/><circle cx="627.5" cy="1789.2" r="2.7"/><circle cx="676.6" cy="1771.9" r="2.7"/><circle cx="661.5" cy="1711.9" r="2.7"/><circle cx="594" cy="1767.3" r="2.7"/><circle cx="604.5" cy="1805.4" r="2.7"/><circle cx="643" cy="1713.2" r="2.7"/><circle cx="594.7" cy="1776.7" r="2.7"/><circle cx="651.1" cy="1758.3" r="2.7"/><circle cx="660.3" cy="1759.4" r="2.7"/><circle cx="616.6" cy="1752.5" r="2.7"/><circle cx="611" cy="1759.5" r="2.7"/><circle cx="634.3" cy="1782.7" r="2.7"/><circle cx="662.7" cy="1779.8" r="2.7"/><circle cx="662.1" cy="1805.5" r="2.7"/><circle cx="617.7" cy="1765.1" r="2.7"/><circle cx="603.6" cy="1755.8" r="2.7"/><circle cx="627.6" cy="1770.8" r="2.7"/><circle cx="618.5" cy="1749.8" r="2.7"/><circle cx="632.5" cy="1711.2" r="2.7"/><circle cx="645.7" cy="1754.1" r="2.7"/><circle cx="606.2" cy="1708.6" r="2.7"/><circle cx="593.7" cy="1798.6" r="2.7"/><circle cx="658.1" cy="1796.4" r="2.7"/><circle cx="675.7" cy="1731.6" r="2.7"/><circle cx="662.2" cy="1734.2" r="2.7"/><circle cx="635.6" cy="1805.7" r="2.7"/><circle cx="628.3" cy="1736.5" r="2.7"/><circle cx="635.4" cy="1728" r="2.7"/><circle cx="618.9" cy="1810.9" r="2.7"/><circle cx="627.1" cy="1789.3" r="2.7"/><circle cx="668.7" cy="1768" r="2.7"/><circle cx="640.9" cy="1756.8" r="2.7"/><circle cx="606.1" cy="1751.3" r="2.7"/><circle cx="649.7" cy="1742.1" r="2.7"/><circle cx="634.6" cy="1718.7" r="2.7"/><circle cx="639.4" cy="1776.5" r="2.7"/><circle cx="642.6" cy="1789.5" r="2.7"/><circle cx="653.8" cy="1703.4" r="2.7"/><circle cx="655.9" cy="1778" r="2.7"/><circle cx="632" cy="1721.4" r="2.7"/><circle cx="663.4" cy="1778.3" r="2.7"/><circle cx="628.9" cy="1760.7" r="2.7"/><circle cx="619" cy="1804.4" r="2.7"/><circle cx="650.6" cy="1729.7" r="2.7"/><circle cx="669.7" cy="1793.8" r="2.7"/><circle cx="633.9" cy="1704.2" r="2.7"/><circle cx="598.9" cy="1784.9" r="2.7"/><circle cx="613.4" cy="1773.4" r="2.7"/><circle cx="600.8" cy="1711.9" r="2.7"/><circle cx="625.1" cy="1718.4" r="2.7"/><circle cx="621.7" cy="1758.2" r="2.7"/><circle cx="634.2" cy="1811.4" r="2.7"/><circle cx="599.1" cy="1762.5" r="2.7"/><circle cx="650.2" cy="1814.4" r="2.7"/><circle cx="666.9" cy="1772" r="2.7"/><circle cx="650.5" cy="1791.7" r="2.7"/><circle cx="660.3" cy="1744.6" r="2.7"/><circle cx="664.8" cy="1735.4" r="2.7"/><circle cx="604.5" cy="1711.8" r="2.7"/><circle cx="656.9" cy="1755.6" r="2.7"/><circle cx="667" cy="1742.7" r="2.7"/><circle cx="646" cy="1768.8" r="2.7"/><circle cx="651.5" cy="1802.7" r="2.7"/><circle cx="623.9" cy="1740.9" r="2.7"/><circle cx="649.6" cy="1723" r="2.7"/><circle cx="622.7" cy="1770.6" r="2.7"/><circle cx="627.7" cy="1806.1" r="2.7"/><circle cx="647" cy="1808" r="2.7"/><circle cx="664.2" cy="1795.5" r="2.7"/><circle cx="625" cy="1706.4" r="2.7"/><circle cx="637.2" cy="1745.3" r="2.7"/><circle cx="619.6" cy="1807.1" r="2.7"/><circle cx="610.1" cy="1775.4" r="2.7"/><circle cx="612" cy="1764.9" r="2.7"/><circle cx="610.5" cy="1776.9" r="2.7"/><circle cx="659.7" cy="1728.3" r="2.7"/><circle cx="631.6" cy="1736" r="2.7"/><circle cx="620.4" cy="1708.7" r="2.7"/><circle cx="592.6" cy="1746.1" r="2.7"/><circle cx="636.9" cy="1771.7" r="2.7"/><circle cx="667.5" cy="1775.4" r="2.7"/><circle cx="626.5" cy="1708.2" r="2.7"/><circle cx="681.3" cy="1780.5" r="2.7"/><circle cx="645.5" cy="1709.3" r="2.7"/><circle cx="626.9" cy="1726.9" r="2.7"/><circle cx="673.6" cy="1740.4" r="2.7"/><circle cx="621.3" cy="1813.6" r="2.7"/><circle cx="662.3" cy="1789.5" r="2.7"/><circle cx="603.4" cy="1711.1" r="2.7"/><circle cx="636.8" cy="1796.7" r="2.7"/><circle cx="649.6" cy="1706.3" r="2.7"/><circle cx="635.2" cy="1713.4" r="2.7"/><circle cx="637.1" cy="1794" r="2.7"/><circle cx="635.5" cy="1808.5" r="2.7"/><circle cx="600.3" cy="1789.2" r="2.7"/><circle cx="665.1" cy="1730.2" r="2.7"/><circle cx="657.7" cy="1769.9" r="2.7"/><circle cx="681" cy="1748.9" r="2.7"/><circle cx="617" cy="1768.7" r="2.7"/><circle cx="609.8" cy="1792" r="2.7"/><circle cx="663.2" cy="1773.8" r="2.7"/><circle cx="675.8" cy="1765.9" r="2.7"/><circle cx="624.1" cy="1722.3" r="2.7"/><circle cx="624.1" cy="1783.5" r="2.7"/><circle cx="637.5" cy="1780.6" r="2.7"/><circle cx="668.1" cy="1751" r="2.7"/><circle cx="646.2" cy="1710.5" r="2.7"/><circle cx="617.2" cy="1744.4" r="2.7"/><circle cx="652.8" cy="1784.1" r="2.7"/><circle cx="643.7" cy="1793.6" r="2.7"/><circle cx="657" cy="1713.3" r="2.7"/><circle cx="610.6" cy="1733.2" r="2.7"/><circle cx="669.6" cy="1732.5" r="2.7"/><circle cx="657" cy="1743.9" r="2.7"/><circle cx="650.2" cy="1717.2" r="2.7"/><circle cx="672.5" cy="1797.7" r="2.7"/><circle cx="624.5" cy="1796.5" r="2.7"/><circle cx="683.8" cy="1752.3" r="2.7"/><circle cx="642.8" cy="1748.2" r="2.7"/><circle cx="679.8" cy="1738.1" r="2.7"/><circle cx="650.9" cy="1721.6" r="2.7"/><circle cx="600.4" cy="1867.1" r="2.7"/><circle cx="607.1" cy="1875.6" r="2.7"/><circle cx="595.5" cy="1863" r="2.7"/><circle cx="617" cy="1876.3" r="2.7"/><circle cx="621.5" cy="1857.7" r="2.7"/><circle cx="613" cy="1870.2" r="2.7"/><circle cx="599.8" cy="1866.7" r="2.7"/><circle cx="617.7" cy="1862.1" r="2.7"/><circle cx="618.1" cy="1872.5" r="2.7"/><circle cx="635.2" cy="1862.2" r="2.7"/><circle cx="607.8" cy="1868.2" r="2.7"/><circle cx="623" cy="1872.9" r="2.7"/><circle cx="629" cy="1874.2" r="2.7"/><circle cx="604.4" cy="1859.3" r="2.7"/><circle cx="598" cy="1874.5" r="2.7"/><circle cx="609.1" cy="1854.5" r="2.7"/><circle cx="619.3" cy="1853.2" r="2.7"/><circle cx="625.6" cy="1861.1" r="2.7"/><circle cx="614.5" cy="1867.4" r="2.7"/><circle cx="612.7" cy="1873.4" r="2.7"/><circle cx="593.4" cy="1864.2" r="2.7"/><circle cx="614.5" cy="1864.8" r="2.7"/><circle cx="629" cy="1860.3" r="2.7"/><circle cx="604.5" cy="1855" r="2.7"/><circle cx="629.2" cy="1865" r="2.7"/><circle cx="602.9" cy="1875.4" r="2.7"/><circle cx="623.1" cy="1867.2" r="2.7"/><circle cx="609.9" cy="1856.6" r="2.7"/><circle cx="607" cy="1864.7" r="2.7"/><circle cx="634.5" cy="1862.8" r="2.7"/><circle cx="642.7" cy="1839.8" r="2.7"/><circle cx="652.1" cy="1818.3" r="2.7"/><circle cx="635.4" cy="1838.6" r="2.7"/><circle cx="665.3" cy="1828.4" r="2.7"/><circle cx="636.4" cy="1859.9" r="2.7"/><circle cx="656" cy="1830.8" r="2.7"/><circle cx="642.1" cy="1835.6" r="2.7"/><circle cx="676.6" cy="1850.4" r="2.7"/><circle cx="673.7" cy="1847.2" r="2.7"/><circle cx="639.1" cy="1851.9" r="2.7"/><circle cx="645.2" cy="1852.2" r="2.7"/><circle cx="677.8" cy="1846" r="2.7"/><circle cx="636.9" cy="1821.9" r="2.7"/><circle cx="653.7" cy="1857.9" r="2.7"/><circle cx="642.9" cy="1873.4" r="2.7"/><circle cx="650.2" cy="1863" r="2.7"/><circle cx="650.5" cy="1841.8" r="2.7"/><circle cx="677.2" cy="1835.7" r="2.7"/><circle cx="650.2" cy="1847.8" r="2.7"/><circle cx="634.4" cy="1869.9" r="2.7"/><circle cx="642.5" cy="1871.1" r="2.7"/><circle cx="667.4" cy="1828.5" r="2.7"/><circle cx="666.4" cy="1834.1" r="2.7"/><circle cx="679.6" cy="1841.7" r="2.7"/><circle cx="662.9" cy="1877.2" r="2.7"/><circle cx="615.8" cy="1804.7" r="2.7"/><circle cx="613.9" cy="1830.8" r="2.7"/><circle cx="622.8" cy="1835.6" r="2.7"/><circle cx="628.6" cy="1820.1" r="2.7"/><circle cx="635.2" cy="1834.5" r="2.7"/><circle cx="630.4" cy="1816.5" r="2.7"/><circle cx="602.4" cy="1810.9" r="2.7"/><circle cx="627.3" cy="1834.8" r="2.7"/><circle cx="607.8" cy="1824.2" r="2.7"/><circle cx="614.4" cy="1826.3" r="2.7"/><circle cx="629.6" cy="1835.6" r="2.7"/><circle cx="627.6" cy="1840.2" r="2.7"/><circle cx="599.7" cy="1833.1" r="2.7"/><circle cx="617.9" cy="1821" r="2.7"/><circle cx="609.6" cy="1813" r="2.7"/><circle cx="679.3" cy="1782.5" r="2.7"/><circle cx="674.6" cy="1769.1" r="2.7"/><circle cx="675.1" cy="1753.8" r="2.7"/><circle cx="690.9" cy="1785.5" r="2.7"/><circle cx="675.5" cy="1793.7" r="2.7"/><circle cx="665.9" cy="1756.1" r="2.7"/><circle cx="689.3" cy="1776.1" r="2.7"/><circle cx="680.1" cy="1791.9" r="2.7"/><circle cx="678.8" cy="1763" r="2.7"/><circle cx="678.1" cy="1785.5" r="2.7"/><circle cx="675" cy="1771.3" r="2.7"/><circle cx="673.4" cy="1743.8" r="2.7"/><circle cx="673.4" cy="1747.4" r="2.7"/><circle cx="672.3" cy="1784.1" r="2.7"/><circle cx="677.7" cy="1791.3" r="2.7"/><circle cx="680.2" cy="1798.6" r="2.7"/><circle cx="672.2" cy="1786.6" r="2.7"/><circle cx="660.7" cy="1760.6" r="2.7"/><circle cx="669.5" cy="1803.3" r="2.7"/><circle cx="659.9" cy="1758.1" r="2.7"/><circle cx="791.7" cy="1702" r="2.7"/><circle cx="800.1" cy="1709.8" r="2.7"/><circle cx="804.6" cy="1731.6" r="2.7"/><circle cx="815.1" cy="1735.1" r="2.7"/><circle cx="829.3" cy="1752.1" r="2.7"/><circle cx="849.4" cy="1783.6" r="2.7"/><circle cx="789.2" cy="1821.6" r="2.7"/><circle cx="848.2" cy="1902" r="2.7"/><circle cx="792" cy="1914.1" r="2.7"/><circle cx="388.9" cy="1601.5" r="2.7"/><circle cx="386.3" cy="1610.3" r="2.7"/><circle cx="341.1" cy="1891.1" r="2.7"/>
</g>
<path d="M300.3 1958.5V1451M289.3 1451H981.5M299.2 1952.8H982.6M300.3 1937.4h-6M300.3 1911.8h-11M300.3 1886.2h-6M300.3 1860.6h-11M300.3 1835h-6M300.3 1809.4h-11M300.3 1783.8h-6M300.3 1758.2h-11M300.3 1732.6h-6M300.3 1707h-11M300.3 1681.4h-6M300.3 1655.8h-11M300.3 1630.2h-6M300.3 1604.6h-11M300.3 1579h-6M300.3 1553.4h-11M300.3 1527.8h-6M300.3 1502.2h-11M300.3 1476.6h-6M300.3 1952.8v6M397.6 1451v11M397.6 1952.8v11M494.9 1451v6.3M494.9 1952.8v6M592.2 1451v11M592.2 1952.8v11M689.6 1451v6.3M689.6 1952.8v6M786.9 1451v11M786.9 1952.8v11M884.2 1451v6.3M884.2 1952.8v6M981.5 1952.8v11" fill="none" stroke="#000" stroke-width="2.2"/>
<path d="M981.5 1449.9V1953.9M981.5 1952.8h10.4M981.5 1927.7h5.8M981.5 1902.6h10.4M981.5 1877.5h5.8M981.5 1852.4h10.4M981.5 1827.3h5.8M981.5 1802.3h10.4M981.5 1777.2h5.8M981.5 1752.1h10.4M981.5 1727h5.8M981.5 1701.9h10.4M981.5 1676.8h5.8M981.5 1651.7h10.4M981.5 1626.6h5.8M981.5 1601.5h10.4M981.5 1576.4h5.8M981.5 1551.4h10.4M981.5 1526.3h5.8M981.5 1501.2h10.4M981.5 1476.1h5.8M981.5 1451h10.4" fill="none" stroke="#FF8000" stroke-width="2.2"/>
<g font-size="25.8" text-anchor="end">
<text x="283" y="1918.7">10</text>
<text x="283" y="1867.5">20</text>
<text x="283" y="1816.3">30</text>
<text x="283" y="1765.1">40</text>
<text x="283" y="1713.9">50</text>
<text x="283" y="1662.7">60</text>
<text x="283" y="1611.5">70</text>
<text x="283" y="1560.3">80</text>
<text x="283" y="1509.1">90</text>
<text x="283" y="1457.9">100</text>
</g>
<g font-size="25.8" fill="#FF8000">
<text x="999.1" y="1959.7">3</text>
<text x="999.1" y="1909.5">4</text>
<text x="999.1" y="1859.3">5</text>
<text x="999.1" y="1809.2">6</text>
<text x="999.1" y="1759">7</text>
<text x="999.1" y="1708.8">8</text>
<text x="999.1" y="1658.6">9</text>
<text x="999.1" y="1608.4">10</text>
<text x="999.1" y="1558.3">11</text>
<text x="999.1" y="1508.1">12</text>
<text x="999.1" y="1457.9">13</text>
</g>
<g font-size="25.8" text-anchor="middle">
<text x="395.1" y="1988.8">-1</text>
<text x="591.8" y="1988.8">0</text>
<text x="786.4" y="1988.8">1</text>
<text x="981" y="1988.8">2</text>
</g>
</g>
<text transform="translate(125,1068.5) rotate(-90)" font-size="52" letter-spacing="0.25" font-weight="bold" text-anchor="middle">molecular mass (kDa)</text>
<text transform="translate(1067.5,1071) rotate(90)" font-size="50" font-weight="bold" text-anchor="middle" fill="#FF8000">pI</text>
<text x="614" y="2087.5" font-size="50" font-weight="bold" text-anchor="middle">GRAVY-score</text>
</svg></body></html>
